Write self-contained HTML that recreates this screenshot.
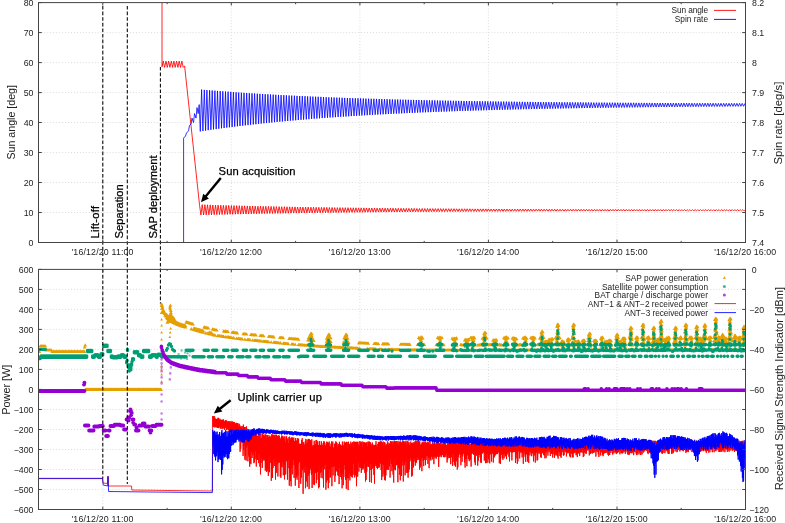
<!DOCTYPE html>
<html lang="en"><head><meta charset="utf-8"><title>ERG launch telemetry</title>
<style>html,body{margin:0;padding:0;background:#fff}body{width:785px;height:523px;overflow:hidden}svg{display:block}text{font-family:"Liberation Sans",sans-serif}</style></head>
<body>
<svg width="785" height="523" viewBox="0 0 785 523" font-family='"Liberation Sans", sans-serif'>
<rect width="785" height="523" fill="#fff"/>
<path d="M38.5 32.6H745.5M38.5 62.6H745.5M38.5 92.6H745.5M38.5 122.5H745.5M38.5 152.5H745.5M38.5 182.5H745.5M38.5 212.5H745.5M102.8 2.6V242.5M231.3 2.6V242.5M359.9 2.6V242.5M488.4 2.6V242.5M617 2.6V242.5" stroke="#d4d4d4" stroke-width="0.9" stroke-dasharray="0.9 2.06" fill="none"/>
<path d="M38.5 289.4H745.5M38.5 309.4H745.5M38.5 329.4H745.5M38.5 349.4H745.5M38.5 369.4H745.5M38.5 389.4H745.5M38.5 409.5H745.5M38.5 429.5H745.5M38.5 449.5H745.5M38.5 469.5H745.5M38.5 489.5H745.5M102.8 269.4V509.5M231.3 269.4V509.5M359.9 269.4V509.5M488.4 269.4V509.5M617 269.4V509.5" stroke="#d4d4d4" stroke-width="0.9" stroke-dasharray="0.9 2.06" fill="none"/>
<clipPath id="ct"><rect x="38.5" y="2.6" width="707" height="239.9"/></clipPath>
<clipPath id="cb"><rect x="38.5" y="269.4" width="707" height="240.1"/></clipPath>
<path d="M162 2.6 162 66.8 163.3 61.1 164.6 67.4 166 61.1 167.3 67.4 168.6 61.1 169.9 67.4 171.3 61.1 172.6 67.4 173.9 61.1 175.2 67.4 176.6 61.1 177.9 67.4 179.2 61.1 180.5 67.4 181.9 61.1 183.2 67.4 184.6 65.9 199.6 205.6 200.9 215 202.2 204.6 203.6 215 204.9 204.7 206.2 214.9 207.5 204.8 208.9 214.8 210.2 204.9 211.5 214.8 212.8 205 214.2 214.7 215.5 205.1 216.8 214.6 218.1 205.1 219.5 214.6 220.8 205.2 222.1 214.5 223.4 205.3 224.8 214.4 226.1 205.4 227.4 214.4 228.7 205.4 230.1 214.3 231.4 205.5 232.7 214.3 234 205.6 235.4 214.2 236.7 205.6 238 214.1 239.3 205.7 240.7 214.1 242 205.8 243.3 214 244.6 205.8 246 214 247.3 205.9 248.6 213.9 249.9 206 251.3 213.9 252.6 206 253.9 213.8 255.2 206.1 256.6 213.8 257.9 206.2 259.2 213.7 260.5 206.2 261.9 213.7 263.2 206.3 264.5 213.6 265.8 206.3 267.2 213.6 268.5 206.4 269.8 213.5 271.1 206.4 272.5 213.5 273.8 206.5 275.1 213.4 276.4 206.6 277.8 213.4 279.1 206.6 280.4 213.3 281.7 206.7 283.1 213.3 284.4 206.7 285.7 213.3 287 206.8 288.4 213.2 289.7 206.8 291 213.2 292.3 206.9 293.7 213.1 295 206.9 296.3 213.1 297.6 207 299 213.1 300.3 207 301.6 213 302.9 207.1 304.3 213 305.6 207.1 306.9 212.9 308.2 207.1 309.6 212.9 310.9 207.2 312.2 212.9 313.5 207.2 314.9 212.8 316.2 207.3 317.5 212.8 318.8 207.3 320.2 212.8 321.5 207.4 322.8 212.7 324.1 207.4 325.5 212.7 326.8 207.4 328.1 212.7 329.4 207.5 330.8 212.6 332.1 207.5 333.4 212.6 334.7 207.6 336.1 212.6 337.4 207.6 338.7 212.5 340 207.6 341.4 212.5 342.7 207.7 344 212.5 345.3 207.7 346.7 212.5 348 207.7 349.3 212.4 350.6 207.8 352 212.4 353.3 207.8 354.6 212.4 355.9 207.8 357.3 212.3 358.6 207.9 359.9 212.3 361.2 207.9 362.6 212.3 363.9 207.9 365.2 212.3 366.5 208 367.9 212.2 369.2 208 370.5 212.2 371.8 208 373.2 212.2 374.5 208.1 375.8 212.2 377.1 208.1 378.5 212.1 379.8 208.1 381.1 212.1 382.4 208.1 383.8 212.1 385.1 208.2 386.4 212.1 387.7 208.2 389.1 212 390.4 208.2 391.7 212 393 208.2 394.4 212 395.7 208.3 397 212 398.3 208.3 399.7 212 401 208.3 402.3 211.9 403.6 208.3 405 211.9 406.3 208.4 407.6 211.9 408.9 208.4 410.3 211.9 411.6 208.4 412.9 211.9 414.2 208.4 415.6 211.8 416.9 208.5 418.2 211.8 419.5 208.5 420.9 211.8 422.2 208.5 423.5 211.8 424.8 208.5 426.2 211.8 427.5 208.5 428.8 211.8 430.1 208.6 431.5 211.7 432.8 208.6 434.1 211.7 435.4 208.6 436.8 211.7 438.1 208.6 439.4 211.7 440.7 208.6 442.1 211.7 443.4 208.7 444.7 211.7 446 208.7 447.4 211.6 448.7 208.7 450 211.6 451.3 208.7 452.7 211.6 454 208.7 455.3 211.6 456.6 208.8 458 211.6 459.3 208.8 460.6 211.6 461.9 208.8 463.3 211.6 464.6 208.8 465.9 211.5 467.2 208.8 468.6 211.5 469.9 208.8 471.2 211.5 472.5 208.9 473.9 211.5 475.2 208.9 476.5 211.5 477.8 208.9 479.2 211.5 480.5 208.9 481.8 211.5 483.1 208.9 484.5 211.4 485.8 208.9 487.1 211.4 488.4 208.9 489.8 211.4 491.1 209 492.4 211.4 493.7 209 495.1 211.4 496.4 209 497.7 211.4 499 209 500.4 211.4 501.7 209 503 211.4 504.3 209 505.7 211.4 507 209 508.3 211.3 509.6 209.1 511 211.3 512.3 209.1 513.6 211.3 514.9 209.1 516.3 211.3 517.6 209.1 518.9 211.3 520.2 209.1 521.6 211.3 522.9 209.1 524.2 211.3 525.5 209.1 526.9 211.3 528.2 209.1 529.5 211.3 530.8 209.1 532.2 211.3 533.5 209.2 534.8 211.2 536.1 209.2 537.5 211.2 538.8 209.2 540.1 211.2 541.4 209.2 542.8 211.2 544.1 209.2 545.4 211.2 546.7 209.2 548.1 211.2 549.4 209.2 550.7 211.2 552 209.2 553.4 211.2 554.7 209.2 556 211.2 557.3 209.3 558.7 211.2 560 209.3 561.3 211.2 562.6 209.3 564 211.2 565.3 209.3 566.6 211.2 567.9 209.3 569.3 211.1 570.6 209.3 571.9 211.1 573.2 209.3 574.6 211.1 575.9 209.3 577.2 211.1 578.5 209.3 579.9 211.1 581.2 209.3 582.5 211.1 583.8 209.3 585.2 211.1 586.5 209.3 587.8 211.1 589.1 209.4 590.5 211.1 591.8 209.4 593.1 211.1 594.5 209.4 595.8 211.1 597.1 209.4 598.4 211.1 599.8 209.4 601.1 211.1 602.4 209.4 603.7 211.1 605.1 209.4 606.4 211.1 607.7 209.4 609 211.1 610.4 209.4 611.7 211 613 209.4 614.3 211 615.7 209.4 617 211 618.3 209.4 619.6 211 621 209.4 622.3 211 623.6 209.4 624.9 211 626.3 209.4 627.6 211 628.9 209.5 630.2 211 631.6 209.5 632.9 211 634.2 209.5 635.5 211 636.9 209.5 638.2 211 639.5 209.5 640.8 211 642.2 209.5 643.5 211 644.8 209.5 646.1 211 647.5 209.5 648.8 211 650.1 209.5 651.4 211 652.8 209.5 654.1 211 655.4 209.5 656.7 211 658.1 209.5 659.4 211 660.7 209.5 662 211 663.4 209.5 664.7 211 666 209.5 667.3 210.9 668.7 209.5 670 210.9 671.3 209.5 672.6 210.9 674 209.5 675.3 210.9 676.6 209.5 677.9 210.9 679.3 209.6 680.6 210.9 681.9 209.6 683.2 210.9 684.6 209.6 685.9 210.9 687.2 209.6 688.5 210.9 689.9 209.6 691.2 210.9 692.5 209.6 693.8 210.9 695.2 209.6 696.5 210.9 697.8 209.6 699.1 210.9 700.5 209.6 701.8 210.9 703.1 209.6 704.4 210.9 705.8 209.6 707.1 210.9 708.4 209.6 709.7 210.9 711.1 209.6 712.4 210.9 713.7 209.6 715 210.9 716.4 209.6 717.7 210.9 719 209.6 720.3 210.9 721.7 209.6 723 210.9 724.3 209.6 725.6 210.9 727 209.6 728.3 210.9 729.6 209.6 730.9 210.9 732.3 209.6 733.6 210.9 734.9 209.6 736.2 210.9 737.6 209.6 738.9 210.9 740.2 209.6 741.5 210.9 742.9 209.6 744.2 210.9 745.5 209.6" fill="none" stroke="#ff0000" stroke-width="0.85" clip-path="url(#ct)" stroke-linejoin="round"/>
<path d="M183.6 242.5 183.6 138.1 185.5 136 186.5 133 188.5 130.9 189.5 125.5 191 124 192 118.1 193.5 122.6 194.5 113.6 196 118.1 197 107.6 198.2 113.6 199.2 104.6 200.3 131.4 201.6 89.6 202.9 131 204.3 89.9 205.6 130.6 206.9 90.1 208.2 130.2 209.6 90.3 210.9 129.8 212.2 90.5 213.5 129.4 214.9 90.7 216.2 129.1 217.5 90.9 218.8 128.7 220.2 91.1 221.5 128.3 222.8 91.3 224.1 128 225.5 91.5 226.8 127.6 228.1 91.7 229.4 127.3 230.8 91.9 232.1 127 233.4 92.1 234.7 126.6 236.1 92.3 237.4 126.3 238.7 92.5 240 126 241.4 92.7 242.7 125.7 244 92.9 245.3 125.4 246.7 93 248 125.1 249.3 93.2 250.6 124.8 252 93.4 253.3 124.5 254.6 93.5 255.9 124.2 257.3 93.7 258.6 123.9 259.9 93.9 261.2 123.6 262.6 94 263.9 123.3 265.2 94.2 266.5 123 267.9 94.3 269.2 122.8 270.5 94.5 271.8 122.5 273.2 94.6 274.5 122.2 275.8 94.8 277.1 122 278.5 94.9 279.8 121.7 281.1 95.1 282.4 121.5 283.8 95.2 285.1 121.2 286.4 95.3 287.7 121 289.1 95.5 290.4 120.7 291.7 95.6 293 120.5 294.4 95.7 295.7 120.3 297 95.9 298.3 120 299.7 96 301 119.8 302.3 96.1 303.6 119.6 305 96.2 306.3 119.4 307.6 96.4 308.9 119.2 310.3 96.5 311.6 118.9 312.9 96.6 314.2 118.7 315.6 96.7 316.9 118.5 318.2 96.8 319.5 118.3 320.9 96.9 322.2 118.1 323.5 97.1 324.8 117.9 326.2 97.2 327.5 117.7 328.8 97.3 330.1 117.5 331.5 97.4 332.8 117.4 334.1 97.5 335.4 117.2 336.8 97.6 338.1 117 339.4 97.7 340.7 116.8 342.1 97.8 343.4 116.6 344.7 97.9 346 116.5 347.4 98 348.7 116.3 350 98.1 351.3 116.1 352.7 98.2 354 116 355.3 98.3 356.6 115.8 358 98.3 359.3 115.6 360.6 98.4 361.9 115.5 363.3 98.5 364.6 115.3 365.9 98.6 367.2 115.2 368.6 98.7 369.9 115 371.2 98.8 372.5 114.9 373.9 98.8 375.2 114.7 376.5 98.9 377.8 114.6 379.2 99 380.5 114.4 381.8 99.1 383.1 114.3 384.5 99.2 385.8 114.2 387.1 99.2 388.4 114 389.8 99.3 391.1 113.9 392.4 99.4 393.7 113.7 395.1 99.5 396.4 113.6 397.7 99.5 399 113.5 400.4 99.6 401.7 113.4 403 99.7 404.3 113.2 405.7 99.7 407 113.1 408.3 99.8 409.6 113 411 99.9 412.3 112.9 413.6 99.9 414.9 112.8 416.3 100 417.6 112.6 418.9 100 420.2 112.5 421.6 100.1 422.9 112.4 424.2 100.2 425.5 112.3 426.9 100.2 428.2 112.2 429.5 100.3 430.8 112.1 432.2 100.3 433.5 112 434.8 100.4 436.1 111.9 437.5 100.5 438.8 111.8 440.1 100.5 441.4 111.7 442.8 100.6 444.1 111.6 445.4 100.6 446.7 111.5 448.1 100.7 449.4 111.4 450.7 100.7 452 111.3 453.4 100.8 454.7 111.2 456 100.8 457.3 111.1 458.7 100.9 460 111 461.3 100.9 462.6 110.9 464 101 465.3 110.9 466.6 101 467.9 110.8 469.3 101.1 470.6 110.7 471.9 101.1 473.2 110.6 474.6 101.1 475.9 110.5 477.2 101.2 478.5 110.4 479.9 101.2 481.2 110.4 482.5 101.3 483.8 110.3 485.2 101.3 486.5 110.2 487.8 101.4 489.1 110.1 490.5 101.4 491.8 110.1 493.1 101.4 494.4 110 495.8 101.5 497.1 109.9 498.4 101.5 499.7 109.8 501.1 101.6 502.4 109.8 503.7 101.6 505 109.7 506.4 101.6 507.7 109.6 509 101.7 510.3 109.6 511.7 101.7 513 109.5 514.3 101.7 515.6 109.4 517 101.8 518.3 109.4 519.6 101.8 520.9 109.3 522.3 101.8 523.6 109.2 524.9 101.9 526.2 109.2 527.6 101.9 528.9 109.1 530.2 101.9 531.5 109.1 532.9 102 534.2 109 535.5 102 536.8 108.9 538.2 102 539.5 108.9 540.8 102.1 542.1 108.8 543.5 102.1 544.8 108.8 546.1 102.1 547.4 108.7 548.8 102.1 550.1 108.7 551.4 102.2 552.7 108.6 554.1 102.2 555.4 108.6 556.7 102.2 558 108.5 559.4 102.2 560.7 108.5 562 102.3 563.3 108.4 564.7 102.3 566 108.4 567.3 102.3 568.6 108.3 570 102.3 571.3 108.3 572.6 102.4 573.9 108.2 575.3 102.4 576.6 108.2 577.9 102.4 579.2 108.1 580.6 102.4 581.9 108.1 583.2 102.5 584.5 108 585.9 102.5 587.2 108 588.5 102.5 589.9 108 591.2 102.5 592.5 107.9 593.8 102.6 595.2 107.9 596.5 102.6 597.8 107.8 599.1 102.6 600.5 107.8 601.8 102.6 603.1 107.7 604.4 102.6 605.8 107.7 607.1 102.7 608.4 107.7 609.7 102.7 611.1 107.6 612.4 102.7 613.7 107.6 615 102.7 616.4 107.6 617.7 102.7 619 107.5 620.3 102.8 621.7 107.5 623 102.8 624.3 107.5 625.6 102.8 627 107.4 628.3 102.8 629.6 107.4 630.9 102.8 632.3 107.4 633.6 102.8 634.9 107.3 636.2 102.9 637.6 107.3 638.9 102.9 640.2 107.3 641.5 102.9 642.9 107.2 644.2 102.9 645.5 107.2 646.8 102.9 648.2 107.2 649.5 102.9 650.8 107.1 652.1 103 653.5 107.1 654.8 103 656.1 107.1 657.4 103 658.8 107 660.1 103 661.4 107 662.7 103 664.1 107 665.4 103 666.7 107 668 103 669.4 106.9 670.7 103.1 672 106.9 673.3 103.1 674.7 106.9 676 103.1 677.3 106.9 678.6 103.1 680 106.8 681.3 103.1 682.6 106.8 683.9 103.1 685.3 106.8 686.6 103.1 687.9 106.8 689.2 103.1 690.6 106.7 691.9 103.2 693.2 106.7 694.5 103.2 695.9 106.7 697.2 103.2 698.5 106.7 699.8 103.2 701.2 106.6 702.5 103.2 703.8 106.6 705.1 103.2 706.5 106.6 707.8 103.2 709.1 106.6 710.4 103.2 711.8 106.6 713.1 103.2 714.4 106.5 715.7 103.3 717.1 106.5 718.4 103.3 719.7 106.5 721 103.3 722.4 106.5 723.7 103.3 725 106.5 726.3 103.3 727.7 106.4 729 103.3 730.3 106.4 731.6 103.3 733 106.4 734.3 103.3 735.6 106.4 736.9 103.3 738.3 106.4 739.6 103.3 740.9 106.3 742.2 103.4 743.6 106.3 744.9 103.4" fill="none" stroke="#0000ff" stroke-width="0.8" clip-path="url(#ct)" stroke-linejoin="round"/>
<path d="M38.5 478.3 102.6 478.3 103 483 107.5 483.5 108 476 108.5 486 131.5 486 131.8 490 170 490.5 212.3 491 212.6 416" fill="none" stroke="#ff0000" stroke-width="0.8" clip-path="url(#cb)"/>
<path d="M212.6 416 212.8 416.5 213.1 427 213.4 416.1 213.7 426.3 214 417.3 214.3 427.4 214.6 416.3 214.9 425.5 215.2 418.3 215.5 427.1 215.8 419 216.1 427.3 216.4 418.9 216.7 427.1 217 419.3 217.3 427.9 217.6 418.6 217.9 428 218.2 417.7 218.5 428.1 218.8 418.3 219.1 427.5 219.4 419.9 219.7 426.6 220 418.8 220.3 428.3 220.6 420.2 220.9 428.9 221.2 420 221.5 426.8 221.8 419.7 222.1 428.9 222.4 420.1 222.7 428.4 223 419.5 223.3 427.4 223.6 419.6 223.9 428.6 224.2 421.2 224.5 429.8 224.8 421.7 225.1 427.3 225.4 420.1 225.7 427.6 226 420.2 226.3 430.1 226.6 420.8 226.9 430.1 227.2 422.2 227.5 428.5 227.8 421.3 228.1 428.9 228.4 421.2 228.7 430.4 229 422.2 229.3 431.5 229.6 421.5 229.9 431.3 230.2 421.2 230.5 431.8 230.8 423.5 231.1 431.1 231.4 421.6 231.7 432.2 232 421.7 232.3 431.2 232.6 421.6 232.9 430.6 233.2 421.9 233.5 431.9 233.8 422.3 234.1 431.1 234.4 422.2 234.7 429.4 235 423 235.3 432.5 235.6 424.1 235.9 433 236.2 422.8 236.5 430.4 236.8 423 237.1 432.8 237.4 423.2 237.7 435.5 238 423.4 238.3 437.9 238.6 426.4 238.9 439.3 239.2 423.8 239.5 437.1 239.8 425.2 240.1 451.8 240.4 427.1 240.7 448.6 241 426.1 241.3 442.2 241.6 426.8 241.9 442.6 242.2 428.8 242.5 440.8 242.8 426 243.1 455.9 243.4 424.6 243.7 450 244 427.4 244.3 445.7 244.6 427 244.9 459.7 245.2 427 245.5 456 245.8 428.6 246.1 460.6 246.4 426.3 246.7 447.6 247 428.6 247.3 445.4 247.6 429.5 247.9 461.3 248.2 429 248.5 455.3 248.8 429.3 249.1 457.1 249.4 432.1 249.7 466.7 250 431.7 250.3 462.9 250.6 431.2 250.9 464.1 251.2 432.2 251.5 452.3 251.8 433.1 252.1 458 252.4 435.7 252.7 455 253 437.1 253.3 452.2 253.6 433.1 253.9 463.2 254.2 434 254.5 462.2 254.8 434.6 255.1 459.1 255.4 433.1 255.7 450.9 256 434.7 256.3 466.5 256.6 434.2 256.9 458.2 257.2 435.9 257.5 460 257.8 436.2 258.1 454.6 258.4 435.4 258.7 463.1 259 434 259.3 454.6 259.6 433.8 259.9 466.6 260.2 434.3 260.5 474.4 260.8 438.7 261.1 463 261.4 438 261.7 457.5 262 433.9 262.3 467.9 262.6 434.1 262.9 461.1 263.2 434.7 263.5 459.5 263.8 435.2 264.1 457.6 264.4 436.3 264.7 460.5 265 434.3 265.3 470.7 265.6 434.6 265.9 467.1 266.2 434.8 266.5 472 266.8 438.5 267.1 471.3 267.4 435.2 267.7 469.1 268 435 268.3 475.8 268.6 437 268.9 456.3 269.2 437.2 269.5 472.2 269.8 435.5 270.1 455.8 270.4 436.9 270.7 462.8 271 436.8 271.3 480.8 271.6 434.3 271.9 477.4 272.2 435.1 272.5 477.9 272.8 434.3 273.1 467.9 273.4 435 273.7 459.2 274 437.5 274.3 465.9 274.6 434.8 274.9 462 275.2 437.4 275.5 479.6 275.8 434.7 276.1 456.8 276.4 434.8 276.7 472.8 277 435.7 277.3 463.8 277.6 436.1 277.9 476.5 278.2 435.7 278.5 462.5 278.8 435.3 279.1 460.7 279.4 435.9 279.7 462.6 280 438.4 280.3 476.5 280.6 439.3 280.9 477.8 281.2 437.2 281.5 466.5 281.8 435.3 282.1 467.3 282.4 436.5 282.7 462.1 283 436.5 283.3 475.2 283.6 438.1 283.9 464.4 284.2 436.3 284.5 479.4 284.8 439.2 285.1 459.6 285.4 442.1 285.7 474.5 286 436.4 286.3 460.2 286.6 436.4 286.9 461.6 287.2 439.8 287.5 479.6 287.8 438.5 288.1 468.2 288.4 443 288.7 460.2 289 437 289.3 485.6 289.6 436.6 289.9 472 290.2 440.1 290.5 481.1 290.8 438.3 291.1 486.4 291.4 437.6 291.7 468 292 437.5 292.3 474.3 292.6 437.7 292.9 465.2 293.2 439.7 293.5 460.1 293.8 437.6 294.1 477.9 294.4 441 294.7 465.1 295 442.4 295.3 485.7 295.6 438 295.9 469.5 296.2 441.2 296.5 477.3 296.8 440.4 297.1 479.7 297.4 438.1 297.7 475.3 298 439.9 298.3 463.8 298.6 438.6 298.9 488 299.2 443.5 299.5 462.1 299.8 444.6 300.1 461.9 300.4 443.8 300.7 483.7 301 444.1 301.3 477.6 301.6 440 301.9 467.9 302.2 438.1 302.5 470.3 302.8 443.6 303.1 493.8 303.4 442 303.7 468.5 304 444.1 304.3 472.5 304.6 445.4 304.9 466.1 305.2 441.5 305.5 488.2 305.8 438.9 306.1 466.8 306.4 443.7 306.7 481.5 307 439.7 307.3 486.7 307.6 442.3 307.9 467.5 308.2 439.2 308.5 475.7 308.8 438.9 309.1 489 309.4 439.3 309.7 473.3 310 439.9 310.3 468 310.6 440.2 310.9 469.8 311.2 441.5 311.5 475 311.8 439.3 312.1 488 312.4 445.5 312.7 473.1 313 446.6 313.3 484.5 313.6 445.2 313.9 470.1 314.2 440.8 314.5 484.9 314.8 445 315.1 472 315.4 444.1 315.7 473.1 316 440.2 316.3 483.2 316.6 440 316.9 479.8 317.2 441.4 317.5 472.1 317.8 441.4 318.1 470.9 318.4 445 318.7 488.3 319 447.5 319.3 487 319.6 441 319.9 465.6 320.2 444.9 320.5 472.7 320.8 445.3 321.1 477.8 321.4 441.3 321.7 472 322 444.9 322.3 467.9 322.6 445.2 322.9 478.4 323.2 443 323.5 487.5 323.8 441.2 324.1 465.4 324.4 441.7 324.7 469.3 325 444.9 325.3 464.7 325.6 446 325.9 489.7 326.2 443.2 326.5 482.5 326.8 441.6 327.1 477.5 327.4 442 327.7 480.4 328 446.2 328.3 488.2 328.6 442.8 328.9 483 329.2 441.6 329.5 469.7 329.8 446.6 330.1 477.7 330.4 446.8 330.7 477 331 443.7 331.3 467.6 331.6 441.4 331.9 486.2 332.2 443.2 332.5 466.6 332.8 441.6 333.1 475.3 333.4 447.5 333.7 466.8 334 447.8 334.3 465.9 334.6 443.8 334.9 481.8 335.2 443.5 335.5 476 335.8 441.4 336.1 468.5 336.4 442.2 336.7 471.2 337 443.1 337.3 472 337.6 447.4 337.9 475.4 338.2 444.8 338.5 476 338.8 444 339.1 484.1 339.4 441.8 339.7 468 340 445 340.3 477 340.6 444.5 340.9 473.2 341.2 445.4 341.5 479.3 341.8 446 342.1 488.3 342.4 441.6 342.7 473.1 343 446.2 343.3 485.1 343.6 445.4 343.9 476.9 344.2 441.5 344.5 464.9 344.8 443.3 345.1 469.5 345.4 442.9 345.7 479.9 346 442.1 346.3 488.8 346.6 441.8 346.9 477.3 347.2 447.9 347.5 478.2 347.8 442.3 348.1 490.1 348.4 441.7 348.7 478 349 445.8 349.3 473.7 349.6 443.9 349.9 480.4 350.2 446 350.5 475.9 350.8 441.7 351.1 474.9 351.4 443.5 351.7 476.8 352 447.7 352.3 477.5 352.6 442 352.9 474.3 353.2 447.2 353.5 463.6 353.8 441.4 354.1 475.2 354.4 441.9 354.7 477.4 355 442.1 355.3 475.4 355.6 441.8 355.9 473.4 356.2 442 356.5 486.2 356.8 441.8 357.1 475.9 357.4 442.2 357.7 476.7 358 441.7 358.3 462.6 358.6 444.7 358.9 471.5 359.2 446.2 359.5 467.3 359.8 441.2 360.1 463.6 360.4 442.7 360.7 468 361 441.5 361.3 472.9 361.6 442.4 361.9 469.8 362.2 447.4 362.5 467.6 362.8 441.5 363.1 469.4 363.4 442.4 363.7 468.2 364 444.3 364.3 463.8 364.6 442.2 364.9 472.9 365.2 443 365.5 481.5 365.8 442.6 366.1 479.9 366.4 442.8 366.7 471.8 367 442.1 367.3 466.5 367.6 446.4 367.9 461.7 368.2 441.4 368.5 466.8 368.8 442.8 369.1 466.2 369.4 441.6 369.7 482.1 370 445.6 370.3 463.3 370.6 442.3 370.9 469.9 371.2 444.4 371.5 482.6 371.8 445.5 372.1 464.1 372.4 442.6 372.7 468.7 373 444.6 373.3 467.3 373.6 445.8 373.9 474.9 374.2 444.9 374.5 483.7 374.8 445.2 375.1 466.1 375.4 444.8 375.7 464.1 376 441.2 376.3 465.9 376.6 445.6 376.9 468 377.2 447 377.5 469.1 377.8 444 378.1 468 378.4 441.9 378.7 466.3 379 442.3 379.3 467.4 379.6 442.1 379.9 462.7 380.2 441.4 380.5 463.5 380.8 441.5 381.1 470.1 381.4 441.5 381.7 480.1 382 442.3 382.3 464.3 382.6 442.9 382.9 476.6 383.2 441.5 383.5 464.9 383.8 445.5 384.1 474.3 384.4 442.1 384.7 480 385 442.7 385.3 480.5 385.6 445.9 385.9 475.3 386.2 444.8 386.5 469.5 386.8 444.2 387.1 469.9 387.4 441.3 387.7 469.1 388 442.4 388.3 470 388.6 444.8 388.9 462.6 389.2 443.5 389.5 466.3 389.8 443.4 390.1 477.6 390.4 441.1 390.7 459.4 391 444.5 391.3 463.8 391.6 441.5 391.9 471.2 392.2 441.3 392.5 466.6 392.8 444.9 393.1 474.6 393.4 441.8 393.7 482.6 394 441.4 394.3 469.6 394.6 441.3 394.9 459.2 395.2 441.8 395.5 470.2 395.8 441.1 396.1 464.6 396.4 441.2 396.7 465.2 397 441.1 397.3 464.7 397.6 443.6 397.9 482.2 398.2 441.3 398.5 467.9 398.8 445 399.1 468.7 399.4 441.6 399.7 474.8 400 444.2 400.3 480.4 400.6 441.4 400.9 463.6 401.2 443.3 401.5 476 401.8 442 402.1 465.6 402.4 441.1 402.7 461.5 403 443.9 403.3 481.5 403.6 441 403.9 460.8 404.2 442.4 404.5 464.9 404.8 441.5 405.1 475.3 405.4 442.2 405.7 461.7 406 440.7 406.3 472.8 406.6 444.7 406.9 457.9 407.2 441.5 407.5 472.8 407.8 440.8 408.1 477.7 408.4 442.7 408.7 472 409 442.2 409.3 469.4 409.6 445 409.9 461.4 410.2 444.4 410.5 458 410.8 441.5 411.1 460.5 411.4 443.3 411.7 476.6 412 443.3 412.3 475.6 412.6 443.2 412.9 458.5 413.2 442.1 413.5 467.4 413.8 443.9 414.1 461.7 414.4 442.6 414.7 458.4 415 441.4 415.3 465.6 415.6 441.1 415.9 462.7 416.2 440.6 416.5 462.5 416.8 443 417.1 460.2 417.4 441 417.7 457.5 418 442.8 418.3 459.8 418.6 441.1 418.9 458.9 419.2 440.8 419.5 469.6 419.8 441.7 420.1 467.7 420.4 444.7 420.7 466.2 421 444.9 421.3 458.2 421.6 443.7 421.9 471.2 422.2 441.8 422.5 457.8 422.8 442.6 423.1 460.9 423.4 442.6 423.7 466.1 424 441.3 424.3 459.8 424.6 442.8 424.9 457.6 425.2 441.6 425.5 465.2 425.8 442.2 426.1 459.9 426.4 442.8 426.7 455.8 427 445.3 427.3 456.2 427.6 442.3 427.9 463.9 428.2 442.6 428.5 457.6 428.8 442.1 429.1 468.2 429.4 444.6 429.7 457.6 430 441.5 430.3 459.9 430.6 444.2 430.9 460.5 431.2 444.3 431.5 456.4 431.8 444.7 432.1 456.8 432.4 442.7 432.7 459.4 433 443.1 433.3 456.7 433.6 443.9 433.9 464.2 434.2 442.5 434.5 456.4 434.8 442.5 435.1 458.2 435.4 444.4 435.7 456.4 436 443.5 436.3 458.7 436.6 442 436.9 456.3 437.2 442.1 437.5 456.6 437.8 441.8 438.1 456.1 438.4 442 438.7 466.9 439 443 439.3 456.9 439.6 443.2 439.9 454 440.2 443.4 440.5 455.4 440.8 442.3 441.1 457.2 441.4 445.2 441.7 456.6 442 442.6 442.3 454.9 442.6 444 442.9 454.9 443.2 444.6 443.5 457 443.8 442.2 444.1 457.4 444.4 442.3 444.7 456.8 445 442.7 445.3 454.9 445.6 443.3 445.9 456.9 446.2 445 446.5 453.5 446.8 445.4 447.1 462.5 447.4 442.4 447.7 459.4 448 442.4 448.3 455.5 448.6 443.1 448.9 458 449.2 443.5 449.5 457.8 449.8 442.1 450.1 453.9 450.4 442.8 450.7 464.2 451 442 451.3 457.3 451.6 442.4 451.9 454.3 452.2 442.1 452.5 465.9 452.8 442.8 453.1 461.9 453.4 443.1 453.7 454.3 454 443.1 454.3 465.4 454.6 444.3 454.9 463.6 455.2 443.3 455.5 466.7 455.8 442.7 456.1 458.1 456.4 442.6 456.7 461.3 457 443.5 457.3 469.5 457.6 442.7 457.9 467.2 458.2 442.8 458.5 457.1 458.8 442.6 459.1 454.5 459.4 444.6 459.7 453.3 460 443.6 460.3 458 460.6 442.3 460.9 465.2 461.2 443.6 461.5 454.7 461.8 444.1 462.1 461.8 462.4 443.2 462.7 456.4 463 442.3 463.3 453.2 463.6 444.6 463.9 454.1 464.2 443.5 464.5 462.3 464.8 442.5 465.1 467.6 465.4 442.8 465.7 459 466 444 466.3 458.8 466.6 443.8 466.9 466.2 467.2 442.5 467.5 454.9 467.8 442.8 468.1 455.8 468.4 442.4 468.7 459.2 469 442.5 469.3 461.2 469.6 444.3 469.9 459.5 470.2 444.9 470.5 459.3 470.8 444 471.1 466.6 471.4 444.3 471.7 453.8 472 443.4 472.3 452.7 472.6 442.9 472.9 453.8 473.2 442.4 473.5 454.7 473.8 444 474.1 452.6 474.4 444.5 474.7 462.3 475 443.2 475.3 465.1 475.6 442.8 475.9 453.4 476.2 442.5 476.5 455.6 476.8 442.6 477.1 454.5 477.4 443.3 477.7 465.7 478 443.4 478.3 460.8 478.6 442.5 478.9 454.1 479.2 442.8 479.5 454.7 479.8 444 480.1 457.4 480.4 442.5 480.7 462.4 481 442.7 481.3 462.9 481.6 444.4 481.9 453.7 482.2 443.6 482.5 453.3 482.8 442.7 483.1 452.6 483.4 445 483.7 452.1 484 445.1 484.3 460.6 484.6 442.4 484.9 452.7 485.2 444.4 485.5 463.2 485.8 443.9 486.1 454.4 486.4 443.3 486.7 463 487 442.9 487.3 454.1 487.6 444.1 487.9 462.5 488.2 443.7 488.5 459.2 488.8 444.7 489.1 454.2 489.4 443.1 489.7 463.3 490 443.3 490.3 454.3 490.6 442.8 490.9 452.9 491.2 442.6 491.5 461.5 491.8 442.6 492.1 451.7 492.4 442.5 492.7 453.6 493 443 493.3 462.5 493.6 443.5 493.9 457.8 494.2 442.6 494.5 456.6 494.8 443.6 495.1 455.5 495.4 444.6 495.7 454.6 496 443.8 496.3 453.6 496.6 442.8 496.9 454.1 497.2 442.9 497.5 454 497.8 444.8 498.1 451.7 498.4 443.4 498.7 452.5 499 445.2 499.3 463.3 499.6 444.6 499.9 458.5 500.2 443.1 500.5 464 500.8 443.9 501.1 452.5 501.4 443 501.7 454.8 502 442.8 502.3 458 502.6 442.9 502.9 459.8 503.2 443.2 503.5 454.1 503.8 442.9 504.1 458.3 504.4 443.8 504.7 453.9 505 443.5 505.3 455.9 505.6 442.6 505.9 456.5 506.2 443.2 506.5 459.1 506.8 443.5 507.1 454.5 507.4 443.2 507.7 453 508 443.1 508.3 452.1 508.6 442.3 508.9 456.7 509.2 442.5 509.5 461.4 509.8 442.8 510.1 451.7 510.4 443.2 510.7 451.7 511 444.5 511.3 452.4 511.6 444.8 511.9 460.4 512.2 444.5 512.5 452.4 512.8 443.6 513.1 451.6 513.4 443.5 513.7 452.2 514 443.5 514.3 452 514.6 443.8 514.9 451.4 515.2 442.8 515.5 462.9 515.8 442.6 516.1 458.4 516.4 443.3 516.7 453.4 517 443.3 517.3 463.8 517.6 442.5 517.9 461.3 518.2 444 518.5 451.2 518.8 444.7 519.1 451.4 519.4 444.9 519.7 458.5 520 442.6 520.3 451.4 520.6 443.4 520.9 452.9 521.2 444.6 521.5 451.6 521.8 442.2 522.1 457.4 522.4 443.2 522.7 453 523 443.2 523.3 463.8 523.6 444.1 523.9 454.4 524.2 443.8 524.5 451.4 524.8 442 525.1 456.7 525.4 442.2 525.7 461.9 526 444.1 526.3 454.4 526.6 442.4 526.9 453.5 527.2 442.4 527.5 461.5 527.8 442.6 528.1 454.5 528.4 443.5 528.7 462.9 529 442.2 529.3 451.4 529.6 443.8 529.9 455.4 530.2 442.6 530.5 451.3 530.8 444.6 531.1 453 531.4 441.9 531.7 456.2 532 443.4 532.3 453.5 532.6 442.4 532.9 451.5 533.2 443.9 533.5 461.4 533.8 442.7 534.1 450.6 534.4 443.9 534.7 455.5 535 442.3 535.3 462.6 535.6 442.4 535.9 452.4 536.2 442.8 536.5 452.4 536.8 441.8 537.1 460.5 537.4 442.3 537.7 459.7 538 442.7 538.3 450.7 538.6 442.5 538.9 453.7 539.2 442.2 539.5 452.2 539.8 443.3 540.1 453.8 540.4 443 540.7 457.2 541 442 541.3 457.8 541.6 441.9 541.9 451.4 542.2 442.9 542.5 452.6 542.8 441.9 543.1 453.5 543.4 442.3 543.7 455.1 544 443.7 544.3 455.4 544.6 443.9 544.9 458.3 545.2 441.8 545.5 452.8 545.8 442 546.1 458.1 546.4 442.3 546.7 451.6 547 442.3 547.3 451.5 547.6 442.5 547.9 455.6 548.2 442.2 548.5 450.2 548.8 443.7 549.1 452.3 549.4 442.2 549.7 450.2 550 442.6 550.3 456 550.6 443.2 550.9 450.4 551.2 441.9 551.5 453.9 551.8 442.7 552.1 452.6 552.4 442.4 552.7 457.6 553 442.6 553.3 450.2 553.6 442.8 553.9 454.3 554.2 443.9 554.5 457.7 554.8 443.7 555.1 455.3 555.4 442.1 555.7 452.4 556 441.4 556.3 455.4 556.6 443.7 556.9 454 557.2 441.7 557.5 456.4 557.8 441.4 558.1 458.6 558.4 443.2 558.7 451.5 559 443.9 559.3 452.6 559.6 442.1 559.9 456 560.2 443.3 560.5 456.3 560.8 442.4 561.1 457.8 561.4 443.9 561.7 455 562 441.6 562.3 450.4 562.6 443.5 562.9 452.1 563.2 442.7 563.5 455.7 563.8 442.5 564.1 455.1 564.4 442.2 564.7 450.2 565 441.8 565.3 451.6 565.6 443.4 565.9 452.3 566.2 441.5 566.5 456.4 566.8 441.8 567.1 452 567.4 443 567.7 453.2 568 442.6 568.3 453.1 568.6 442.2 568.9 451.1 569.2 441.2 569.5 456.4 569.8 443.5 570.1 450.6 570.4 441.4 570.7 457.4 571 441.5 571.3 453.5 571.6 441.5 571.9 453.5 572.2 443.1 572.5 457.2 572.8 441.5 573.1 457.5 573.4 443 573.7 452.7 574 442.9 574.3 453.2 574.6 442.2 574.9 450.1 575.2 442.7 575.5 452.3 575.8 442.1 576.1 455.3 576.4 441.5 576.7 454.1 577 442.6 577.3 457.1 577.6 443.3 577.9 452.8 578.2 443.1 578.5 453.4 578.8 441.7 579.1 449.9 579.4 441.6 579.7 456.1 580 441.2 580.3 452.2 580.6 443.4 580.9 452.3 581.2 443.6 581.5 451.9 581.8 443.1 582.1 452.8 582.4 442.1 582.7 450.2 583 442.6 583.3 457 583.6 441.5 583.9 456.2 584.2 441.2 584.5 452.4 584.8 441.2 585.1 451.2 585.4 441.3 585.7 453.5 586 441.6 586.3 453.7 586.6 440.7 586.9 450.4 587.2 441 587.5 449.5 587.8 442.5 588.1 450.6 588.4 442.4 588.7 449.7 589 441.2 589.3 455.4 589.6 442.3 589.9 452.3 590.2 442.1 590.5 453.9 590.8 441.6 591.1 453.1 591.4 442.1 591.7 450 592 443.3 592.3 453.6 592.6 442.7 592.9 451.6 593.2 441.6 593.5 452.9 593.8 442.4 594.1 449.4 594.4 440.9 594.7 452.4 595 441.1 595.3 449.8 595.6 441.1 595.9 456.6 596.2 443 596.5 451.4 596.8 442.9 597.1 450.9 597.4 441.6 597.7 451.9 598 440.8 598.3 454.4 598.6 441 598.9 456.9 599.2 441.6 599.5 449.1 599.8 442.3 600.1 451.3 600.4 441.2 600.7 455.5 601 442.7 601.3 452.3 601.6 441.3 601.9 450.9 602.2 442.7 602.5 454.9 602.8 440.8 603.1 456.2 603.4 442.7 603.7 453.7 604 440.5 604.3 453.3 604.6 440.7 604.9 449.4 605.2 441.3 605.5 453 605.8 440.9 606.1 449.5 606.4 440.6 606.7 452.6 607 441.7 607.3 452.4 607.6 442.3 607.9 454.7 608.2 442.6 608.5 455.7 608.8 441.4 609.1 451.7 609.4 440.9 609.7 455 610 441.2 610.3 450.9 610.6 442.2 610.9 452.9 611.2 441.1 611.5 449.6 611.8 440.8 612.1 449.3 612.4 440.4 612.7 454.6 613 442.4 613.3 452.2 613.6 442.5 613.9 453.4 614.2 442.3 614.5 450 614.8 440.5 615.1 452.4 615.4 440.3 615.7 452.3 616 440.6 616.3 454.1 616.6 441.3 616.9 452.8 617.2 442.7 617.5 453.1 617.8 441.6 618.1 452.3 618.4 443.1 618.7 452 619 441.1 619.3 449.9 619.6 441.8 619.9 454.3 620.2 440.7 620.5 450.9 620.8 442 621.1 452.8 621.4 441.7 621.7 453.2 622 441.9 622.3 453.4 622.6 440.8 622.9 453.1 623.2 440.6 623.5 451.3 623.8 442.3 624.1 452 624.4 440.3 624.7 448.7 625 440.3 625.3 453.9 625.6 441.9 625.9 450.5 626.2 441.4 626.5 448.9 626.8 441 627.1 452.3 627.4 442.2 627.7 454.3 628 440.5 628.3 454.8 628.6 440.4 628.9 452.7 629.2 441.5 629.5 454.6 629.8 440.5 630.1 449.7 630.4 440.2 630.7 453.1 631 440.3 631.3 452.9 631.6 442.8 631.9 453.3 632.2 441.4 632.5 452.4 632.8 441 633.1 449.2 633.4 442.1 633.7 455.2 634 442 634.3 451.3 634.6 442.7 634.9 452.1 635.2 441.6 635.5 449.2 635.8 441.6 636.1 453.5 636.4 441.9 636.7 455.1 637 442.2 637.3 452.6 637.6 441.3 637.9 454.6 638.2 442.1 638.5 450.6 638.8 440.7 639.1 453.5 639.4 440.6 639.7 451.8 640 441.8 640.3 455 640.6 440.5 640.9 454.9 641.2 441.7 641.5 451 641.8 440.3 642.1 454.3 642.4 440.3 642.7 449 643 441.5 643.3 452.7 643.6 440.7 643.9 451.8 644.2 440.7 644.5 450.9 644.8 441.6 645.1 450.3 645.4 440.4 645.7 449 646 440.6 646.3 450.8 646.6 441.2 646.9 450.1 647.2 441.4 647.5 452.8 647.8 442.4 648.1 454.1 648.4 440.8 648.7 449.4 649 440.5 649.3 452.8 649.6 442.6 649.9 448.7 650.2 440.7 650.5 453.1 650.8 440.2 651.1 453.7 651.4 440.1 651.7 449 652 442 652.3 449.9 652.6 440.8 652.9 449.9 653.2 441.1 653.5 451.7 653.8 440.8 654.1 454 654.4 441.3 654.7 449.8 655 440.7 655.3 448 655.6 441.1 655.9 449.8 656.2 442.3 656.5 449.2 656.8 441.3 657.1 452.5 657.4 442.5 657.7 453.2 658 440.7 658.3 452.8 658.6 440.2 658.9 449.6 659.2 441.6 659.5 452.1 659.8 440 660.1 451.1 660.4 440.6 660.7 451.1 661 440.5 661.3 452.8 661.6 442.2 661.9 453.5 662.2 441.7 662.5 453.7 662.8 440.4 663.1 452.9 663.4 440.5 663.7 449.2 664 440.2 664.3 450.5 664.6 440.2 664.9 453.2 665.2 440.4 665.5 448.1 665.8 440.8 666.1 451.2 666.4 440.6 666.7 448.9 667 440.5 667.3 451.1 667.6 440.5 667.9 453.4 668.2 442.1 668.5 453.7 668.8 440.5 669.1 453.9 669.4 441.4 669.7 448.1 670 440.8 670.3 448.4 670.6 440.5 670.9 448.3 671.2 441.9 671.5 453.6 671.8 440.4 672.1 453.7 672.4 442.7 672.7 451.4 673 442.2 673.3 453.1 673.6 441.7 673.9 448.5 674.2 442.3 674.5 448.7 674.8 440.4 675.1 451.4 675.4 441.1 675.7 450.2 676 441.5 676.3 448.4 676.6 441.9 676.9 452.2 677.2 441.8 677.5 451.5 677.8 440.2 678.1 449.9 678.4 442.6 678.7 449.3 679 441.5 679.3 449.4 679.6 440.8 679.9 451.5 680.2 440.8 680.5 449.5 680.8 440.9 681.1 449 681.4 441.5 681.7 449.9 682 440.5 682.3 450.8 682.6 441.9 682.9 448.6 683.2 440.7 683.5 451.2 683.8 442.3 684.1 448.5 684.4 441.1 684.7 449.5 685 442.2 685.3 450.3 685.6 440.9 685.9 452.9 686.2 442.2 686.5 452 686.8 442.2 687.1 450.4 687.4 442.3 687.7 451.6 688 440.9 688.3 452.1 688.6 442.9 688.9 449.9 689.2 440.7 689.5 448.1 689.8 441 690.1 449.1 690.4 440.8 690.7 450.2 691 441.2 691.3 447.9 691.6 440.5 691.9 452.1 692.2 441 692.5 448 692.8 441 693.1 452.1 693.4 440.8 693.7 451.6 694 441.8 694.3 451.4 694.6 441.9 694.9 449.1 695.2 441.4 695.5 452.1 695.8 442.8 696.1 451.2 696.4 440.7 696.7 451.3 697 441.4 697.3 451.8 697.6 442.4 697.9 448.3 698.2 442.2 698.5 449.5 698.8 441.6 699.1 452.9 699.4 441.6 699.7 449.4 700 441.9 700.3 451.4 700.6 440.9 700.9 451.5 701.2 441.2 701.5 450.5 701.8 441 702.1 450.6 702.4 441 702.7 449.9 703 442.1 703.3 451.1 703.6 440.9 703.9 451.1 704.2 441.5 704.5 449.2 704.8 441 705.1 448.2 705.4 442.1 705.7 451.2 706 441.6 706.3 452.8 706.6 440.9 706.9 449 707.2 441.5 707.5 450.8 707.8 442.6 708.1 450.3 708.4 441.6 708.7 452.6 709 441 709.3 449 709.6 440.8 709.9 452.2 710.2 441.5 710.5 449.6 710.8 441.6 711.1 449.1 711.4 440.7 711.7 450.1 712 441 712.3 452.2 712.6 442.2 712.9 448.1 713.2 442.2 713.5 447.7 713.8 441.6 714.1 452.2 714.4 441.2 714.7 447.5 715 440.7 715.3 450.7 715.6 441.6 715.9 451.2 716.2 441.1 716.5 449.5 716.8 441.5 717.1 450.2 717.4 441.1 717.7 448.8 718 441.3 718.3 448.5 718.6 441.1 718.9 451.9 719.2 442.3 719.5 452 719.8 441.1 720.1 451.9 720.4 441 720.7 450.2 721 441.1 721.3 452 721.6 440.7 721.9 448.4 722.2 441.1 722.5 450.2 722.8 440.8 723.1 451.7 723.4 440.8 723.7 449.9 724 440.9 724.3 447.3 724.6 441 724.9 452.2 725.2 440.9 725.5 448.2 725.8 440.7 726.1 448 726.4 442 726.7 449.5 727 440.5 727.3 451.9 727.6 441.5 727.9 451 728.2 441.5 728.5 449.1 728.8 441.2 729.1 451.7 729.4 441.8 729.7 449.8 730 440.9 730.3 447.4 730.6 440.6 730.9 450.5 731.2 442.6 731.5 448.8 731.8 441.9 732.1 448.4 732.4 441.7 732.7 450.9 733 441 733.3 449.8 733.6 442.5 733.9 449.9 734.2 440.9 734.5 451.9 734.8 441.8 735.1 448.4 735.4 440.8 735.7 451 736 440.7 736.3 451.2 736.6 441.5 736.9 449.9 737.2 440.9 737.5 447.3 737.8 441.1 738.1 450.8 738.4 442.6 738.7 450.9 739 440.6 739.3 451.8 739.6 441.5 739.9 450.6 740.2 441.7 740.5 449.3 740.8 441.4 741.1 450.9 741.4 441.2 741.7 449.6 742 440.9 742.3 448.9 742.6 441.3 742.9 449.4 743.2 440.6 743.5 451.6 743.8 441.7 744.1 449.8 744.4 442.3 744.7 449.6 745 440.7 745.3 449.8" fill="none" stroke="#ff0000" stroke-width="0.95" clip-path="url(#cb)" stroke-linejoin="round"/>
<path d="M38.5 478.6 102.6 478.6 103.2 485 107.6 486 108 476.5 108.6 491.5 150 492 212.4 492.6 212.7 430" fill="none" stroke="#0000ff" stroke-width="0.8" clip-path="url(#cb)"/>
<path d="M212.7 430 212.9 431.6 213.2 446.3 213.5 432 213.8 454 214.1 431.3 214.4 455.4 214.7 430.8 215 456.9 215.3 434.6 215.6 460.4 215.9 432.2 216.2 456.4 216.5 434.8 216.8 455.7 217.1 431.6 217.4 452.2 217.7 434.8 218 462.1 218.3 436.6 218.6 459.3 218.9 434.3 219.2 459.1 219.5 432 219.8 456.4 220.1 437.4 220.4 460 220.7 435.9 221 454.2 221.3 432.2 221.6 474.4 221.9 430 222.2 469.8 222.5 434 222.8 464.4 223.1 433 223.4 455.4 223.7 433.1 224 457.6 224.3 431.9 224.6 456.6 224.9 435.9 225.2 456.7 225.5 430.4 225.8 454.2 226.1 431.2 226.4 453.6 226.7 436.7 227 457.7 227.3 436.6 227.6 459.2 227.9 431.3 228.2 457.4 228.5 433.6 228.8 458.3 229.1 431.1 229.4 454 229.7 430.6 230 451.6 230.3 435.2 230.6 452 230.9 429.7 231.2 445.9 231.5 430.1 231.8 445.2 232.1 429.6 232.4 441.9 232.7 433.9 233 445.1 233.3 431.7 233.6 443.4 233.9 430.3 234.2 443.1 234.5 430.5 234.8 441.9 235.1 429.8 235.4 442.4 235.7 430.5 236 442.3 236.3 431.8 236.6 440 236.9 429.6 237.2 437.4 237.5 432 237.8 439.7 238.1 430.1 238.4 439.4 238.7 429.7 239 441.6 239.3 430.7 239.6 437.5 239.9 432.6 240.2 440.5 240.5 429.9 240.8 440.6 241.1 429.9 241.4 439 241.7 431.4 242 442 242.3 429.6 242.6 442.4 242.9 431 243.2 441.9 243.5 430.3 243.8 442.3 244.1 429.7 244.4 442.2 244.7 430.4 245 438.1 245.3 432.4 245.6 439.9 245.9 430.2 246.2 439.7 246.5 430.1 246.8 438.4 247.1 432.1 247.4 441.3 247.7 431.6 248 440.4 248.3 430 248.6 441.6 248.9 430.9 249.2 441.4 249.5 431.9 249.8 438.5 250.1 429.7 250.4 438.4 250.7 432.8 251 439.6 251.3 429.5 251.6 436.4 251.9 430.4 252.2 434.7 252.5 429 252.8 436.2 253.1 430.4 253.4 433.8 253.7 428.5 254 435.2 254.3 428.6 254.6 433.2 254.9 430.1 255.2 435.4 255.5 429.9 255.8 434.8 256.1 430.3 256.4 433.5 256.7 429.2 257 434.2 257.3 428.9 257.6 432.6 257.9 428.9 258.2 434.2 258.5 428.7 258.8 434.7 259.1 428.5 259.4 432.9 259.7 428.6 260 434.6 260.3 429.9 260.6 433 260.9 428.8 261.2 432.5 261.5 429 261.8 433.3 262.1 429.3 262.4 433.1 262.7 428.8 263 433.8 263.3 429.2 263.6 433.6 263.9 429.2 264.2 432.9 264.5 429.3 264.8 433.2 265.1 430.2 265.4 433.1 265.7 429.9 266 433.6 266.3 429.6 266.6 433.4 266.9 429.1 267.2 432.4 267.5 430.3 267.8 433.1 268.1 429.5 268.4 432.4 268.7 430 269 433.7 269.3 430.1 269.6 433.4 269.9 430.4 270.2 433.6 270.5 429.9 270.8 433.2 271.1 429.6 271.4 433 271.7 430 272 432.7 272.3 430.5 272.6 433.6 272.9 430.2 273.2 433.6 273.5 429.9 273.8 433.3 274.1 430.1 274.4 433.9 274.7 431 275 432.6 275.3 430.2 275.6 433.8 275.9 430.7 276.2 434.1 276.5 430.9 276.8 433.6 277.1 430.4 277.4 433.5 277.7 430.8 278 433.7 278.3 430.9 278.6 434 278.9 431.1 279.2 433.6 279.5 431 279.8 434.2 280.1 431.3 280.4 433.1 280.7 431.6 281 433.6 281.3 430.8 281.6 434.5 281.9 431.7 282.2 434 282.5 430.9 282.8 433.6 283.1 430.6 283.4 433.4 283.7 431.7 284 433.7 284.3 430.8 284.6 434.5 284.9 430.8 285.2 434.1 285.5 431.8 285.8 433.8 286.1 430.7 286.4 434.4 286.7 431.2 287 433.5 287.3 431.2 287.6 434.4 287.9 431.3 288.2 433.3 288.5 431.3 288.8 433.6 289.1 431.3 289.4 434.4 289.7 431.6 290 434.5 290.3 431.4 290.6 434.6 290.9 431.7 291.2 434 291.5 431.5 291.8 434.8 292.1 431.5 292.4 435.2 292.7 431.8 293 434.1 293.3 432.1 293.6 435.2 293.9 431.9 294.2 434.7 294.5 431.4 294.8 433.9 295.1 431.5 295.4 435 295.7 431.4 296 435 296.3 431.8 296.6 435.3 296.9 431.6 297.2 435.3 297.5 432.1 297.8 434.4 298.1 431.9 298.4 435.1 298.7 431.9 299 434.5 299.3 432.7 299.6 435.5 299.9 432.2 300.2 434.5 300.5 432 300.8 435.5 301.1 432 301.4 434.9 301.7 432.6 302 434.8 302.3 433.1 302.6 434.5 302.9 432.1 303.2 435.6 303.5 432.9 303.8 435.4 304.1 432.7 304.4 435.8 304.7 432.4 305 435.5 305.3 432.2 305.6 435.3 305.9 432.5 306.2 436.3 306.5 432.7 306.8 435.3 307.1 432.3 307.4 435.5 307.7 432.2 308 435.7 308.3 432.5 308.6 435.1 308.9 432.6 309.2 435.5 309.5 433.1 309.8 435.5 310.1 433 310.4 436 310.7 433.4 311 436 311.3 432.9 311.6 436.1 311.9 432.8 312.2 435.5 312.5 432.7 312.8 436.7 313.1 432.6 313.4 435.7 313.7 432.9 314 435.6 314.3 433.4 314.6 435.8 314.9 433 315.2 436.6 315.5 433 315.8 436.6 316.1 432.7 316.4 435.5 316.7 433.7 317 436.9 317.3 432.9 317.6 435.5 317.9 432.8 318.2 436.7 318.5 433.3 318.8 437 319.1 432.9 319.4 436 319.7 433.1 320 437.2 320.3 432.8 320.6 437 320.9 433.3 321.2 436.8 321.5 433.7 321.8 436.6 322.1 433.1 322.4 437.3 322.7 433.9 323 436.7 323.3 433.1 323.6 437.6 323.9 433.9 324.2 436.1 324.5 433.4 324.8 437.2 325.1 433.9 325.4 437.8 325.7 434.1 326 437.2 326.3 434.1 326.6 436.6 326.9 433.4 327.2 437.1 327.5 433.8 327.8 437.5 328.1 433.3 328.4 437.5 328.7 433.4 329 437.8 329.3 433.2 329.6 437.6 329.9 433.9 330.2 437.9 330.5 433.5 330.8 437.5 331.1 433.6 331.4 436.5 331.7 434.3 332 436.9 332.3 433.8 332.6 437.4 332.9 434.3 333.2 436.7 333.5 433.6 333.8 436.6 334.1 433.3 334.4 436.5 334.7 433.6 335 436.7 335.3 433.3 335.6 437.5 335.9 433.3 336.2 437.5 336.5 433.1 336.8 436.2 337.1 433.4 337.4 436.6 337.7 433.9 338 436.1 338.3 433.5 338.6 437.2 338.9 434 339.2 436.4 339.5 433.6 339.8 437.7 340.1 433.9 340.4 436.2 340.7 433.2 341 437.4 341.3 433.8 341.6 437.2 341.9 433.4 342.2 436.8 342.5 433.8 342.8 436.9 343.1 433.5 343.4 436.1 343.7 433.8 344 437.1 344.3 433 344.6 436.2 344.9 433.5 345.2 436.5 345.5 433.2 345.8 436.1 346.1 432.8 346.4 436.6 346.7 432.9 347 436 347.3 433.1 347.6 436.9 347.9 433.4 348.2 436.9 348.5 433.9 348.8 436.1 349.1 433.4 349.4 436 349.7 433.5 350 436.6 350.3 433.3 350.6 436.9 350.9 433.8 351.2 436.5 351.5 433.5 351.8 437.2 352.1 433.7 352.4 437.6 352.7 433.5 353 436.6 353.3 434 353.6 437 353.9 434.4 354.2 436.9 354.5 433.4 354.8 437.7 355.1 433.8 355.4 437.3 355.7 434.5 356 437.9 356.3 434.1 356.6 436.9 356.9 434.6 357.2 438.1 357.5 434 357.8 438.2 358.1 433.8 358.4 437.3 358.7 434.2 359 438 359.3 434.2 359.6 437.6 359.9 434.4 360.2 437.5 360.5 434.8 360.8 437.4 361.1 434.4 361.4 437.1 361.7 435.3 362 438.3 362.3 434.3 362.6 438.6 362.9 435.2 363.2 438.3 363.5 434.7 363.8 438 364.1 435 364.4 438.2 364.7 434.9 365 438.8 365.3 435.5 365.6 437.9 365.9 435.5 366.2 437.7 366.5 434.9 366.8 438.4 367.1 434.9 367.4 438.4 367.7 435.4 368 439.1 368.3 435.1 368.6 438.6 368.9 435.5 369.2 438.1 369.5 435.4 369.8 439.5 370.1 436.2 370.4 439.2 370.7 435.5 371 438.8 371.3 435.1 371.6 438.1 371.9 435.7 372.2 439.5 372.5 435.8 372.8 439.1 373.1 435.7 373.4 439.4 373.7 436.3 374 439.9 374.3 435.7 374.6 439.1 374.9 435.7 375.2 439.9 375.5 436 375.8 439.8 376.1 436.4 376.4 439.8 376.7 436 377 439.9 377.3 435.8 377.6 440 377.9 436.4 378.2 439.2 378.5 436.3 378.8 439.7 379.1 435.9 379.4 440.1 379.7 436.4 380 439.9 380.3 436.2 380.6 440.3 380.9 436.4 381.2 439.2 381.5 436.5 381.8 439.4 382.1 437 382.4 440.3 382.7 436.3 383 439.2 383.3 437 383.6 439.7 383.9 436.8 384.2 439.8 384.5 437 384.8 439.4 385.1 436 385.4 440.3 385.7 436.2 386 439.9 386.3 436.7 386.6 440.5 386.9 436.2 387.2 439.5 387.5 436.1 387.8 438.8 388.1 436.5 388.4 440.6 388.7 436 389 439.9 389.3 436.4 389.6 439.2 389.9 436.7 390.2 438.9 390.5 436 390.8 440 391.1 436 391.4 440 391.7 436.3 392 439.9 392.3 436 392.6 440 392.9 436.3 393.2 440.1 393.5 436 393.8 439.1 394.1 436.1 394.4 440.3 394.7 436.3 395 440 395.3 436.3 395.6 439.9 395.9 437.1 396.2 439.5 396.5 436.4 396.8 439.7 397.1 436.1 397.4 439.2 397.7 436.5 398 439 398.3 436.1 398.6 440.1 398.9 435.9 399.2 438.9 399.5 436.1 399.8 439.4 400.1 436.4 400.4 440.4 400.7 435.8 401 439.9 401.3 435.9 401.6 438.9 401.9 436 402.2 439.5 402.5 436 402.8 440.5 403.1 436.1 403.4 439.7 403.7 435.4 404 439.3 404.3 435.9 404.6 439.7 404.9 435.9 405.2 439.6 405.5 436.6 405.8 439.7 406.1 436.2 406.4 439.1 406.7 435.6 407 440.1 407.3 435.7 407.6 438.4 407.9 435.4 408.2 439.4 408.5 435.8 408.8 440.4 409.1 435.7 409.4 439 409.7 435.3 410 440.2 410.3 435.3 410.6 439.4 410.9 435.3 411.2 440.2 411.5 436.8 411.8 440.1 412.1 435.6 412.4 438.5 412.7 436 413 439.2 413.3 435.6 413.6 440.4 413.9 435.2 414.2 440 414.5 435.6 414.8 440 415.1 435.3 415.4 440.3 415.7 435.6 416 439.1 416.3 435.8 416.6 440.1 416.9 435.6 417.2 439.4 417.5 436.1 417.8 440.5 418.1 435.9 418.4 440.8 418.7 436.4 419 440 419.3 435.9 419.6 440.1 419.9 436.1 420.2 439.9 420.5 436.3 420.8 440.6 421.1 436.7 421.4 439.5 421.7 436.5 422 440.1 422.3 437 422.6 440.5 422.9 437.5 423.2 440.6 423.5 436.7 423.8 440.8 424.1 436.9 424.4 440.9 424.7 436.4 425 440.6 425.3 436.5 425.6 441.2 425.9 438.1 426.2 439.9 426.5 437 426.8 439.9 427.1 437.3 427.4 441.2 427.7 437.1 428 439.8 428.3 438.1 428.6 440.8 428.9 437.6 429.2 441.5 429.5 437.4 429.8 441.6 430.1 437.3 430.4 441.3 430.7 437.2 431 440.3 431.3 436.9 431.6 441 431.9 437.9 432.2 441.9 432.5 437.6 432.8 442.6 433.1 436.6 433.4 441 433.7 438.5 434 442 434.3 436.9 434.6 442.6 434.9 437.3 435.2 442 435.5 438.2 435.8 441.2 436.1 437.9 436.4 442.7 436.7 436.9 437 442.2 437.3 436.9 437.6 442.9 437.9 437.1 438.2 442.1 438.5 437.4 438.8 442.4 439.1 438 439.4 441.5 439.7 437.7 440 441.4 440.3 438.5 440.6 442.5 440.9 437.8 441.2 442.8 441.5 437.5 441.8 442.1 442.1 437.2 442.4 442 442.7 437.9 443 443 443.3 437.9 443.6 441.7 443.9 438.4 444.2 443.3 444.5 438.6 444.8 443.5 445.1 439 445.4 441.7 445.7 437.7 446 442.9 446.3 438.3 446.6 442.7 446.9 437.5 447.2 443.1 447.5 437.7 447.8 441.4 448.1 438.6 448.4 442.3 448.7 437.4 449 443 449.3 438.2 449.6 443.7 449.9 437.8 450.2 443.5 450.5 439 450.8 442.1 451.1 438.6 451.4 441.9 451.7 438 452 443.3 452.3 437.6 452.6 442.8 452.9 438.4 453.2 441.9 453.5 437.7 453.8 443.7 454.1 437.5 454.4 443.4 454.7 437.2 455 443.5 455.3 437.1 455.6 442.9 455.9 437.6 456.2 442.9 456.5 437.9 456.8 442.8 457.1 438 457.4 442.3 457.7 437.8 458 442.7 458.3 437.5 458.6 443.2 458.9 437.7 459.2 441.6 459.5 438.2 459.8 444 460.1 437.4 460.4 442.8 460.7 438 461 444.1 461.3 437.1 461.6 444.1 461.9 437 462.2 441.5 462.5 437.2 462.8 443.2 463.1 437 463.4 444.2 463.7 436.9 464 443.1 464.3 437.5 464.6 442.5 464.9 436.8 465.2 444.6 465.5 438.2 465.8 443.7 466.1 437.3 466.4 443.7 466.7 437.6 467 444.3 467.3 437.4 467.6 444.8 467.9 438.5 468.2 444.9 468.5 436.6 468.8 442.2 469.1 437.1 469.4 443.1 469.7 438.5 470 443.3 470.3 437.7 470.6 443.1 470.9 436.3 471.2 442.7 471.5 436.5 471.8 444.7 472.1 438.4 472.4 444 472.7 436.7 473 442.4 473.3 438.1 473.6 444.2 473.9 436.5 474.2 443.9 474.5 436.8 474.8 443.5 475.1 438.5 475.4 443 475.7 437.1 476 445.2 476.3 437.8 476.6 442.5 476.9 438.6 477.2 445.1 477.5 436.9 477.8 445.2 478.1 437.4 478.4 444.9 478.7 438.9 479 445.2 479.3 439.3 479.6 445.3 479.9 437.5 480.2 443.1 480.5 438.2 480.8 443.8 481.1 437.7 481.4 443.4 481.7 439.5 482 445.3 482.3 438.5 482.6 442.8 482.9 438 483.2 442.8 483.5 438.4 483.8 445.5 484.1 438 484.4 445 484.7 438.4 485 446 485.3 439.3 485.6 444.5 485.9 438.8 486.2 445.7 486.5 438.3 486.8 444.1 487.1 439.4 487.4 444.7 487.7 438.5 488 443.8 488.3 439 488.6 446.2 488.9 438.8 489.2 444.1 489.5 438.5 489.8 445.6 490.1 439.4 490.4 444.5 490.7 438.8 491 446.1 491.3 438.9 491.6 444.1 491.9 438.8 492.2 443.5 492.5 438.9 492.8 445.1 493.1 439.9 493.4 446.1 493.7 439.4 494 445.7 494.3 438.9 494.6 444.3 494.9 440.9 495.2 444.8 495.5 439.1 495.8 445.7 496.1 440 496.4 446 496.7 438.4 497 446.6 497.3 438.8 497.6 445.2 497.9 439.2 498.2 443.5 498.5 438.6 498.8 445.7 499.1 438.5 499.4 445.6 499.7 440.3 500 443.5 500.3 438.2 500.6 446.5 500.9 439 501.2 446.1 501.5 439.5 501.8 446.5 502.1 440.3 502.4 445.3 502.7 438.1 503 445.4 503.3 438.8 503.6 445.2 503.9 438.1 504.2 443.7 504.5 437.9 504.8 445.1 505.1 437.6 505.4 446.7 505.7 438.3 506 444.5 506.3 439.6 506.6 446.2 506.9 438.4 507.2 443.4 507.5 437.7 507.8 446.3 508.1 439.9 508.4 446.3 508.7 438.9 509 443.8 509.3 437.7 509.6 444.8 509.9 437.6 510.2 446.4 510.5 438 510.8 446.6 511.1 437.3 511.4 446.2 511.7 437.1 512 446.1 512.3 440 512.6 444.3 512.9 438.4 513.2 446.3 513.5 439.1 513.8 446.5 514.1 437.4 514.4 443.7 514.7 438.3 515 446.2 515.3 436.4 515.6 444.4 515.9 438.9 516.2 443.6 516.5 436.4 516.8 446.5 517.1 437.9 517.4 444.1 517.7 437.9 518 445.1 518.3 437.4 518.6 445.9 518.9 436.7 519.2 445 519.5 436.6 519.8 444.1 520.1 438.8 520.4 445.1 520.7 437.5 521 443.2 521.3 438.2 521.6 443.5 521.9 436.9 522.2 446.3 522.5 437.1 522.8 445.4 523.1 439.8 523.4 446.2 523.7 437.4 524 443.6 524.3 437.8 524.6 445.3 524.9 438.9 525.2 446.8 525.5 440.1 525.8 444.9 526.1 439.4 526.4 446.6 526.7 437.8 527 445.4 527.3 437.9 527.6 446.5 527.9 438.1 528.2 444.4 528.5 439.5 528.8 447.5 529.1 438.4 529.4 446.3 529.7 438.2 530 446.2 530.3 438.5 530.6 447.1 530.9 439 531.2 447.6 531.5 438.1 531.8 446.3 532.1 438.1 532.4 446.9 532.7 438.1 533 445.1 533.3 438.9 533.6 447.7 533.9 439.1 534.2 444.6 534.5 437.8 534.8 446.7 535.1 439.6 535.4 445.1 535.7 438.3 536 446.6 536.3 438.9 536.6 445.3 536.9 437.7 537.2 446.2 537.5 440.3 537.8 444.9 538.1 439.9 538.4 445.6 538.7 440.2 539 446.8 539.3 437.4 539.6 446.1 539.9 437.5 540.2 447.5 540.5 437.2 540.8 446.5 541.1 439.8 541.4 447.6 541.7 436.8 542 446.1 542.3 437.7 542.6 447.8 542.9 437.1 543.2 445.5 543.5 437.8 543.8 447 544.1 436.8 544.4 447.3 544.7 437.9 545 445.7 545.3 438.8 545.6 448.2 545.9 438.8 546.2 448.2 546.5 438.8 546.8 445.1 547.1 436.8 547.4 446.1 547.7 437.1 548 446.9 548.3 436.8 548.6 445.6 548.9 435.9 549.2 445.7 549.5 436 549.8 448.6 550.1 435.6 550.4 444.2 550.7 439 551 447.4 551.3 438.2 551.6 446 551.9 437.7 552.2 447.8 552.5 437.2 552.8 446.9 553.1 439.1 553.4 446.6 553.7 435.8 554 444.3 554.3 436.1 554.6 446.8 554.9 436.1 555.2 444.5 555.5 436.6 555.8 448.5 556.1 436.1 556.4 447.8 556.7 437.1 557 444.7 557.3 437.1 557.6 446.2 557.9 437.6 558.2 445.1 558.5 437.6 558.8 446.3 559.1 439.4 559.4 448.6 559.7 440.1 560 445.1 560.3 437.1 560.6 445.3 560.9 438.4 561.2 447.3 561.5 437.1 561.8 448.1 562.1 437.7 562.4 449.1 562.7 440.5 563 445.4 563.3 438.1 563.6 445.1 563.9 437.6 564.2 447.6 564.5 439.3 564.8 445 565.1 438.3 565.4 448.1 565.7 439.7 566 445.4 566.3 437.9 566.6 448.7 566.9 439.7 567.2 446.2 567.5 438.9 567.8 446.6 568.1 440 568.4 447.3 568.7 438.3 569 447.5 569.3 441 569.6 448.7 569.9 438.1 570.2 448.9 570.5 438.6 570.8 445.3 571.1 440.5 571.4 447.1 571.7 440.8 572 447.1 572.3 440.4 572.6 447.3 572.9 439.6 573.2 446.8 573.5 439.6 573.8 449.3 574.1 438.8 574.4 448.5 574.7 440.5 575 448.5 575.3 440.4 575.6 445.6 575.9 439 576.2 448.6 576.5 439.2 576.8 447.7 577.1 438.8 577.4 449.2 577.7 438.1 578 448.6 578.3 440 578.6 446.9 578.9 438.6 579.2 448 579.5 440.7 579.8 447.9 580.1 438.8 580.4 448.3 580.7 439.3 581 448.1 581.3 439 581.6 446 581.9 439.8 582.2 447.9 582.5 437.7 582.8 446.5 583.1 440.6 583.4 448 583.7 438.1 584 445.8 584.3 437 584.6 445.1 584.9 437 585.2 448.7 585.5 436.8 585.8 444.8 586.1 436.8 586.4 444.3 586.7 436.8 587 445.4 587.3 437.9 587.6 446.5 587.9 437.1 588.2 447.7 588.5 436.1 588.8 448.6 589.1 435.6 589.4 444.1 589.7 437.7 590 446.7 590.3 436.3 590.6 448.9 590.9 435.9 591.2 445.9 591.5 434.8 591.8 447.3 592.1 436 592.4 445.1 592.7 434.8 593 444.5 593.3 438.3 593.6 446.1 593.9 437 594.2 448.8 594.5 435.6 594.8 444 595.1 437.4 595.4 448 595.7 438.2 596 448.9 596.3 435.9 596.6 447.8 596.9 435.3 597.2 447.1 597.5 437.4 597.8 448.3 598.1 437.1 598.4 445.2 598.7 436.1 599 448.9 599.3 439.7 599.6 449.8 599.9 436.1 600.2 448.8 600.5 436.4 600.8 445 601.1 436.6 601.4 448.4 601.7 436.9 602 445.2 602.3 436.7 602.6 449 602.9 437.3 603.2 446.3 603.5 439.2 603.8 448.7 604.1 438.3 604.4 448.8 604.7 437.8 605 448 605.3 438.4 605.6 448.8 605.9 440.4 606.2 447.5 606.5 441.4 606.8 449 607.1 438.7 607.4 449.6 607.7 441.7 608 450 608.3 441.7 608.6 450.4 608.9 440.1 609.2 450.6 609.5 439.4 609.8 447.9 610.1 439.9 610.4 450.2 610.7 440.7 611 449.7 611.3 441.5 611.6 450.7 611.9 439.5 612.2 446.9 612.5 440.5 612.8 450.2 613.1 440.5 613.4 448.4 613.7 441 614 446.9 614.3 438.8 614.6 448 614.9 439.4 615.2 449.2 615.5 440.2 615.8 450.5 616.1 438.9 616.4 446.9 616.7 438.4 617 450.1 617.3 439.1 617.6 447.3 617.9 439 618.2 449.1 618.5 438.1 618.8 449.7 619.1 440.1 619.4 448.4 619.7 440.3 620 449.4 620.3 440.2 620.6 448.4 620.9 440.3 621.2 449 621.5 439.7 621.8 447.5 622.1 438 622.4 449.1 622.7 438 623 449.5 623.3 438 623.6 449.5 623.9 437.8 624.2 448.9 624.5 438 624.8 447.4 625.1 439.8 625.4 450.8 625.7 438 626 448.7 626.3 440 626.6 446.1 626.9 439.7 627.2 450.2 627.5 438.7 627.8 450.4 628.1 441.1 628.4 448.4 628.7 439.1 629 450.4 629.3 440.8 629.6 448.8 629.9 441.1 630.2 450.5 630.5 439.6 630.8 446.3 631.1 440.5 631.4 450.9 631.7 441 632 447.6 632.3 440.4 632.6 447.2 632.9 438.7 633.2 448.1 633.5 441.3 633.8 450.4 634.1 440.7 634.4 450.4 634.7 438.1 635 448 635.3 438.4 635.6 446.2 635.9 438.6 636.2 446.6 636.5 438.3 636.8 449.2 637.1 440.5 637.4 447.7 637.7 440.1 638 449.5 638.3 441 638.6 449.9 638.9 438.6 639.2 447.9 639.5 441 639.8 450.3 640.1 440.6 640.4 449.4 640.7 439.8 641 450.8 641.3 440.3 641.6 449.3 641.9 439 642.2 450.3 642.5 439.6 642.8 447.5 643.1 438.9 643.4 447.7 643.7 439.1 644 450 644.3 439.5 644.6 447.3 644.9 439.3 645.2 448.8 645.5 439.4 645.8 449.9 646.1 439.2 646.4 447.9 646.7 441.2 647 448.8 647.3 440.8 647.6 449.1 647.9 440.8 648.2 448.8 648.5 439.9 648.8 446.7 649.1 440.1 649.4 449.2 649.7 439.8 650 452 650.3 440.1 650.6 451.3 650.9 442 651.2 458.2 651.5 441.5 651.8 451.9 652.1 441.8 652.4 458.9 652.7 443.9 653 463.3 653.3 443.1 653.6 465.6 653.9 446.6 654.2 474.6 654.5 442.4 654.8 477.8 655.1 445.7 655.4 463.3 655.7 446.4 656 474.5 656.3 443.4 656.6 461.7 656.9 443.2 657.2 461.4 657.5 440.7 657.8 460.8 658.1 441 658.4 459.9 658.7 439.9 659 453.1 659.3 441.9 659.6 451.1 659.9 439.3 660.2 451.6 660.5 438.6 660.8 448.2 661.1 439.6 661.4 447 661.7 441.4 662 448.5 662.3 439.8 662.6 449.3 662.9 437.5 663.2 449.1 663.5 437.3 663.8 445.5 664.1 438 664.4 446 664.7 437 665 449.5 665.3 438.7 665.6 448.8 665.9 439.2 666.2 446.8 666.5 437.2 666.8 449.7 667.1 437.5 667.4 449.1 667.7 437.3 668 449.7 668.3 437.5 668.6 448.7 668.9 439.2 669.2 448.8 669.5 437.3 669.8 448.8 670.1 436.9 670.4 447.5 670.7 435.2 671 445 671.3 436.8 671.6 449.1 671.9 435.1 672.2 446.6 672.5 438.5 672.8 447.7 673.1 435.4 673.4 445.2 673.7 435.4 674 446.4 674.3 435.1 674.6 449 674.9 439.4 675.2 447.1 675.5 435.5 675.8 444.8 676.1 437.5 676.4 448.9 676.7 438 677 447.2 677.3 435.9 677.6 447.4 677.9 436.8 678.2 446.1 678.5 436.1 678.8 446.1 679.1 439 679.4 446.8 679.7 436.1 680 447.8 680.3 437.2 680.6 450 680.9 437.2 681.2 449.4 681.5 436.4 681.8 449.8 682.1 439 682.4 449.5 682.7 436.8 683 448.4 683.3 437.4 683.6 447.3 683.9 437 684.2 449.8 684.5 438.8 684.8 447.5 685.1 437.4 685.4 446.8 685.7 438.4 686 448.6 686.3 439.1 686.6 450.1 686.9 439 687.2 448.3 687.5 437.8 687.8 446.8 688.1 438.2 688.4 448.7 688.7 440.8 689 449.8 689.3 438.4 689.6 446.7 689.9 441.9 690.2 449.2 690.5 439.3 690.8 448.1 691.1 439.6 691.4 448.3 691.7 439.5 692 448.2 692.3 440.2 692.6 450.5 692.9 441.3 693.2 449.7 693.5 441 693.8 452.6 694.1 441.6 694.4 455.9 694.7 439.8 695 456.1 695.3 443.8 695.6 460 695.9 442.2 696.2 456.3 696.5 440.8 696.8 454.6 697.1 441.1 697.4 461.8 697.7 441.9 698 460.4 698.3 439.9 698.6 454.3 698.9 441.5 699.2 454.2 699.5 441.1 699.8 451.8 700.1 438.8 700.4 447.1 700.7 439.4 701 446.4 701.3 441.6 701.6 448.5 701.9 438.6 702.2 446.6 702.5 438.1 702.8 445.4 703.1 437.6 703.4 450 703.7 439.8 704 445.2 704.3 438.1 704.6 446.6 704.9 436.9 705.2 449.4 705.5 439 705.8 449.7 706.1 438.2 706.4 446.4 706.7 437.7 707 448.8 707.3 436.1 707.6 449.8 707.9 436.6 708.2 449.1 708.5 435.9 708.8 446.7 709.1 437.3 709.4 444.5 709.7 435.6 710 446.8 710.3 437.4 710.6 448.5 710.9 434.9 711.2 449 711.5 434.5 711.8 448.9 712.1 434.4 712.4 445.4 712.7 433.5 713 446.7 713.3 434.8 713.6 447 713.9 433.3 714.2 448.6 714.5 437.1 714.8 448.1 715.1 433.2 715.4 448.6 715.7 434.4 716 448.8 716.3 437.5 716.6 443 716.9 434.9 717.2 446.8 717.5 436.1 717.8 446.1 718.1 433.9 718.4 447.1 718.7 433.3 719 447.8 719.3 432.8 719.6 444.2 719.9 433.9 720.2 443.1 720.5 435.9 720.8 442 721.1 435.4 721.4 445.5 721.7 433 722 444.1 722.3 435.7 722.6 447.8 722.9 431.3 723.2 448.1 723.5 432.6 723.8 448 724.1 432.1 724.4 443 724.7 433.6 725 445.6 725.3 433.1 725.6 448.4 725.9 435.2 726.2 446.2 726.5 432.8 726.8 445 727.1 433.7 727.4 448.8 727.7 436.6 728 447.9 728.3 436 728.6 444.6 728.9 437.5 729.2 444.8 729.5 433.7 729.8 445.4 730.1 434.5 730.4 447.7 730.7 434.5 731 444.4 731.3 436.8 731.6 444.1 731.9 435 732.2 448.2 732.5 436 732.8 446.7 733.1 437.6 733.4 446.6 733.7 437.5 734 446 734.3 437.6 734.6 448.7 734.9 440.3 735.2 449.4 735.5 438.7 735.8 445.9 736.1 440.8 736.4 450.3 736.7 438.6 737 449.2 737.3 438.7 737.6 455.4 737.9 439.3 738.2 459.6 738.5 442.5 738.8 453.9 739.1 443.2 739.4 461.6 739.7 442.9 740 460 740.3 444.8 740.6 465.8 740.9 441.8 741.2 471.6 741.5 447 741.8 466.8 742.1 442.4 742.4 477.8 742.7 445.8 743 482 743.3 444 743.6 480.9 743.9 446.2 744.2 458 744.5 442.7 744.8 468.3 745.1 440 745.4 465.5" fill="none" stroke="#0000ff" stroke-width="0.95" clip-path="url(#cb)" stroke-linejoin="round"/>
<path d="M161.6 380l1.4 2.5h-2.8zM161.6 373l1.4 2.5h-2.8zM161.6 368l1.4 2.5h-2.8zM161.6 364l1.4 2.5h-2.8zM161.6 345l1.4 2.5h-2.8zM161.6 338l1.4 2.5h-2.8zM161.6 331l1.4 2.5h-2.8zM161.6 324l1.4 2.5h-2.8zM161.6 318l1.4 2.5h-2.8zM169.8 335.6l1.4 2.5h-2.8zM170.2 331l1.4 2.5h-2.8zM170.6 327l1.4 2.5h-2.8z" fill="#e69f00" stroke="none" clip-path="url(#cb)"/>
<path d="M38.5 349.8l1.9 3.3h-3.7zM39.4 349.8l1.9 3.3h-3.7zM40.2 344.2l1.9 3.3h-3.7zM41.1 344.2l1.9 3.3h-3.7zM41.9 344.2l1.9 3.3h-3.7zM42.8 344.2l1.9 3.3h-3.7zM43.6 344.2l1.9 3.3h-3.7zM44.5 344.2l1.9 3.3h-3.7zM45.3 344.2l1.9 3.3h-3.7zM46.2 348.2l1.9 3.3h-3.7zM47 348.2l1.9 3.3h-3.7zM47.9 348.2l1.9 3.3h-3.7zM48.7 348.2l1.9 3.3h-3.7zM49.6 348.2l1.9 3.3h-3.7zM50.4 348.2l1.9 3.3h-3.7zM51.3 348.2l1.9 3.3h-3.7zM52.1 349.8l1.9 3.3h-3.7zM53 349.8l1.9 3.3h-3.7zM53.8 349.8l1.9 3.3h-3.7zM54.7 349.8l1.9 3.3h-3.7zM55.5 349.8l1.9 3.3h-3.7zM56.4 349.8l1.9 3.3h-3.7zM57.2 349.8l1.9 3.3h-3.7zM58.1 349.8l1.9 3.3h-3.7zM58.9 349.8l1.9 3.3h-3.7zM59.8 349.8l1.9 3.3h-3.7zM60.6 349.8l1.9 3.3h-3.7zM61.5 349.8l1.9 3.3h-3.7zM62.3 349.8l1.9 3.3h-3.7zM63.2 349.8l1.9 3.3h-3.7zM64 349.8l1.9 3.3h-3.7zM64.9 349.8l1.9 3.3h-3.7zM65.7 349.8l1.9 3.3h-3.7zM66.6 349.8l1.9 3.3h-3.7zM67.4 349.8l1.9 3.3h-3.7zM68.3 349.8l1.9 3.3h-3.7zM69.1 349.8l1.9 3.3h-3.7zM70 349.8l1.9 3.3h-3.7zM70.8 349.8l1.9 3.3h-3.7zM71.6 349.8l1.9 3.3h-3.7zM72.5 349.8l1.9 3.3h-3.7zM73.3 349.8l1.9 3.3h-3.7zM74.2 349.8l1.9 3.3h-3.7zM75 349.8l1.9 3.3h-3.7zM75.9 349.8l1.9 3.3h-3.7zM76.7 349.8l1.9 3.3h-3.7zM77.6 349.8l1.9 3.3h-3.7zM78.4 349.8l1.9 3.3h-3.7zM79.3 349.8l1.9 3.3h-3.7zM80.1 349.8l1.9 3.3h-3.7zM81 349.8l1.9 3.3h-3.7zM81.8 349.8l1.9 3.3h-3.7zM82.7 349.8l1.9 3.3h-3.7zM83.5 349.8l1.9 3.3h-3.7zM84.4 349.8l1.9 3.3h-3.7zM84.6 345.2l1.9 3.3h-3.7zM85.2 343.2l1.9 3.3h-3.7zM85.4 387.6l1.9 3.3h-3.7zM86.2 387.6l1.9 3.3h-3.7zM87.1 387.6l1.9 3.3h-3.7zM87.9 387.6l1.9 3.3h-3.7zM88.8 387.6l1.9 3.3h-3.7zM89.6 387.6l1.9 3.3h-3.7zM90.5 387.6l1.9 3.3h-3.7zM91.3 387.6l1.9 3.3h-3.7zM92.2 387.6l1.9 3.3h-3.7zM93 387.6l1.9 3.3h-3.7zM93.9 387.6l1.9 3.3h-3.7zM94.7 387.6l1.9 3.3h-3.7zM95.6 387.6l1.9 3.3h-3.7zM96.4 387.6l1.9 3.3h-3.7zM97.3 387.6l1.9 3.3h-3.7zM98.1 387.6l1.9 3.3h-3.7zM99 387.6l1.9 3.3h-3.7zM99.8 387.6l1.9 3.3h-3.7zM100.7 387.6l1.9 3.3h-3.7zM101.5 387.6l1.9 3.3h-3.7zM102.4 387.6l1.9 3.3h-3.7zM103.2 387.6l1.9 3.3h-3.7zM104.1 387.6l1.9 3.3h-3.7zM104.9 387.6l1.9 3.3h-3.7zM105.8 387.6l1.9 3.3h-3.7zM106.6 387.6l1.9 3.3h-3.7zM107.5 387.6l1.9 3.3h-3.7zM108.3 387.6l1.9 3.3h-3.7zM109.2 387.6l1.9 3.3h-3.7zM110 387.6l1.9 3.3h-3.7zM110.9 387.6l1.9 3.3h-3.7zM111.7 387.6l1.9 3.3h-3.7zM112.6 387.6l1.9 3.3h-3.7zM113.4 387.6l1.9 3.3h-3.7zM114.3 387.6l1.9 3.3h-3.7zM115.1 387.6l1.9 3.3h-3.7zM116 387.6l1.9 3.3h-3.7zM116.8 387.6l1.9 3.3h-3.7zM117.7 387.6l1.9 3.3h-3.7zM118.5 387.6l1.9 3.3h-3.7zM119.4 387.6l1.9 3.3h-3.7zM120.2 387.6l1.9 3.3h-3.7zM121.1 387.6l1.9 3.3h-3.7zM121.9 387.6l1.9 3.3h-3.7zM122.8 387.6l1.9 3.3h-3.7zM123.6 387.6l1.9 3.3h-3.7zM124.5 387.6l1.9 3.3h-3.7zM125.3 387.6l1.9 3.3h-3.7zM126.2 387.6l1.9 3.3h-3.7zM127 387.6l1.9 3.3h-3.7zM127.9 387.6l1.9 3.3h-3.7zM128.7 387.6l1.9 3.3h-3.7zM129.6 387.6l1.9 3.3h-3.7zM130.4 387.6l1.9 3.3h-3.7zM131.3 387.6l1.9 3.3h-3.7zM132.1 387.6l1.9 3.3h-3.7zM133 387.6l1.9 3.3h-3.7zM133.8 387.6l1.9 3.3h-3.7zM134.7 387.6l1.9 3.3h-3.7zM135.5 387.6l1.9 3.3h-3.7zM136.4 387.6l1.9 3.3h-3.7zM137.2 387.6l1.9 3.3h-3.7zM138.1 387.6l1.9 3.3h-3.7zM138.9 387.6l1.9 3.3h-3.7zM139.8 387.6l1.9 3.3h-3.7zM140.6 387.6l1.9 3.3h-3.7zM141.5 387.6l1.9 3.3h-3.7zM142.3 387.6l1.9 3.3h-3.7zM143.2 387.6l1.9 3.3h-3.7zM144 387.6l1.9 3.3h-3.7zM144.9 387.6l1.9 3.3h-3.7zM145.7 387.6l1.9 3.3h-3.7zM146.6 387.6l1.9 3.3h-3.7zM147.4 387.6l1.9 3.3h-3.7zM148.3 387.6l1.9 3.3h-3.7zM149.1 387.6l1.9 3.3h-3.7zM150 387.6l1.9 3.3h-3.7zM150.8 387.6l1.9 3.3h-3.7zM151.7 387.6l1.9 3.3h-3.7zM152.5 387.6l1.9 3.3h-3.7zM153.4 387.6l1.9 3.3h-3.7zM154.2 387.6l1.9 3.3h-3.7zM155.1 387.6l1.9 3.3h-3.7zM155.9 387.6l1.9 3.3h-3.7zM156.8 387.6l1.9 3.3h-3.7zM157.6 387.6l1.9 3.3h-3.7zM158.5 387.6l1.9 3.3h-3.7zM159.3 387.6l1.9 3.3h-3.7zM160.2 387.6l1.9 3.3h-3.7zM161 387.6l1.9 3.3h-3.7zM161.6 310.6l1.9 3.3h-3.7zM161.9 306.6l1.9 3.3h-3.7zM162.2 304l1.9 3.3h-3.7zM161.6 303.7l1.9 3.3h-3.7zM161.6 302.3l1.9 3.3h-3.7zM162.4 306.6l1.9 3.3h-3.7zM162.4 305.2l1.9 3.3h-3.7zM163.3 309.3l1.9 3.3h-3.7zM163.3 307.9l1.9 3.3h-3.7zM164.1 311.2l1.9 3.3h-3.7zM164.1 309.8l1.9 3.3h-3.7zM165 313.2l1.9 3.3h-3.7zM165 311.8l1.9 3.3h-3.7zM165.8 314.3l1.9 3.3h-3.7zM165.8 312.9l1.9 3.3h-3.7zM166.7 315.4l1.9 3.3h-3.7zM166.7 312.6l1.9 3.3h-3.7zM167.5 316.6l1.9 3.3h-3.7zM167.5 313.8l1.9 3.3h-3.7zM168.4 317.4l1.9 3.3h-3.7zM168.4 314.6l1.9 3.3h-3.7zM169.2 318l1.9 3.3h-3.7zM169.2 315.2l1.9 3.3h-3.7zM170.1 318.6l1.9 3.3h-3.7zM170.1 315.8l1.9 3.3h-3.7zM170.9 319.2l1.9 3.3h-3.7zM170.9 316.4l1.9 3.3h-3.7zM171.8 319.8l1.9 3.3h-3.7zM171.8 317l1.9 3.3h-3.7zM172.6 320.3l1.9 3.3h-3.7zM172.6 317.5l1.9 3.3h-3.7zM173.5 320.8l1.9 3.3h-3.7zM173.5 318l1.9 3.3h-3.7zM174.3 321.2l1.9 3.3h-3.7zM174.3 318.3l1.9 3.3h-3.7zM175.2 321.5l1.9 3.3h-3.7zM175.2 318.7l1.9 3.3h-3.7zM176 321.9l1.9 3.3h-3.7zM176 320.5l1.9 3.3h-3.7zM176.9 322.2l1.9 3.3h-3.7zM176.9 320.8l1.9 3.3h-3.7zM177.7 322.6l1.9 3.3h-3.7zM177.7 321.2l1.9 3.3h-3.7zM178.6 323l1.9 3.3h-3.7zM178.6 321.6l1.9 3.3h-3.7zM179.4 323.3l1.9 3.3h-3.7zM179.4 321.9l1.9 3.3h-3.7zM180.3 323.7l1.9 3.3h-3.7zM180.3 322.3l1.9 3.3h-3.7zM181.1 323.9l1.9 3.3h-3.7zM181.1 322.5l1.9 3.3h-3.7zM182 324.2l1.9 3.3h-3.7zM182 322.8l1.9 3.3h-3.7zM182.8 324.5l1.9 3.3h-3.7zM182.8 323.1l1.9 3.3h-3.7zM183.7 324.7l1.9 3.3h-3.7zM183.7 323.3l1.9 3.3h-3.7zM184.5 325l1.9 3.3h-3.7zM184.5 323.6l1.9 3.3h-3.7zM185.4 325.2l1.9 3.3h-3.7zM185.4 323.8l1.9 3.3h-3.7zM186.2 320.1l1.9 3.3h-3.7zM187.1 320.4l1.9 3.3h-3.7zM187.9 320.6l1.9 3.3h-3.7zM188.8 320.9l1.9 3.3h-3.7zM189.6 321.2l1.9 3.3h-3.7zM190.5 321.4l1.9 3.3h-3.7zM191.3 321.7l1.9 3.3h-3.7zM191.3 327.1l1.9 3.3h-3.7zM192.2 321.9l1.9 3.3h-3.7zM193 322.2l1.9 3.3h-3.7zM193.9 327.8l1.9 3.3h-3.7zM193.9 326.4l1.9 3.3h-3.7zM194.7 328l1.9 3.3h-3.7zM194.7 326.6l1.9 3.3h-3.7zM195.6 328.3l1.9 3.3h-3.7zM195.6 326.9l1.9 3.3h-3.7zM196.4 328.5l1.9 3.3h-3.7zM196.4 327.1l1.9 3.3h-3.7zM197.3 328.8l1.9 3.3h-3.7zM197.3 327.4l1.9 3.3h-3.7zM198.1 329l1.9 3.3h-3.7zM198.1 327.6l1.9 3.3h-3.7zM199 329.2l1.9 3.3h-3.7zM199 327.8l1.9 3.3h-3.7zM199.8 329.5l1.9 3.3h-3.7zM199.8 328.1l1.9 3.3h-3.7zM200.7 329.7l1.9 3.3h-3.7zM200.7 328.3l1.9 3.3h-3.7zM201.5 330l1.9 3.3h-3.7zM201.5 328.6l1.9 3.3h-3.7zM202.4 330.2l1.9 3.3h-3.7zM202.4 328.8l1.9 3.3h-3.7zM203.2 330.4l1.9 3.3h-3.7zM203.2 329l1.9 3.3h-3.7zM204.1 325.2l1.9 3.3h-3.7zM204.9 325.5l1.9 3.3h-3.7zM205.8 325.7l1.9 3.3h-3.7zM205.8 331.1l1.9 3.3h-3.7zM206.6 325.9l1.9 3.3h-3.7zM207.5 326.1l1.9 3.3h-3.7zM207.5 331.5l1.9 3.3h-3.7zM208.3 326.3l1.9 3.3h-3.7zM209.2 331.9l1.9 3.3h-3.7zM209.2 330.5l1.9 3.3h-3.7zM210 332.1l1.9 3.3h-3.7zM210 330.7l1.9 3.3h-3.7zM210.9 332.3l1.9 3.3h-3.7zM210.9 330.9l1.9 3.3h-3.7zM211.7 332.5l1.9 3.3h-3.7zM211.7 331.1l1.9 3.3h-3.7zM212.6 327.3l1.9 3.3h-3.7zM213.4 327.5l1.9 3.3h-3.7zM213.4 332.9l1.9 3.3h-3.7zM214.3 327.8l1.9 3.3h-3.7zM214.3 333.2l1.9 3.3h-3.7zM215.1 328l1.9 3.3h-3.7zM215.1 333.4l1.9 3.3h-3.7zM216 328.2l1.9 3.3h-3.7zM216.8 328.3l1.9 3.3h-3.7zM217.7 333.8l1.9 3.3h-3.7zM218.5 333.9l1.9 3.3h-3.7zM219.4 334l1.9 3.3h-3.7zM220.2 334.2l1.9 3.3h-3.7zM221.1 334.3l1.9 3.3h-3.7zM221.9 334.4l1.9 3.3h-3.7zM222.8 334.5l1.9 3.3h-3.7zM223.6 329.2l1.9 3.3h-3.7zM223.6 334.6l1.9 3.3h-3.7zM224.5 329.4l1.9 3.3h-3.7zM225.3 329.5l1.9 3.3h-3.7zM225.3 334.9l1.9 3.3h-3.7zM226.2 329.6l1.9 3.3h-3.7zM227 329.7l1.9 3.3h-3.7zM227 335.1l1.9 3.3h-3.7zM227.9 329.8l1.9 3.3h-3.7zM227.9 335.2l1.9 3.3h-3.7zM228.7 335.3l1.9 3.3h-3.7zM229.6 335.5l1.9 3.3h-3.7zM230.4 335.6l1.9 3.3h-3.7zM231.3 335.7l1.9 3.3h-3.7zM232.1 330.4l1.9 3.3h-3.7zM233 330.5l1.9 3.3h-3.7zM233 335.9l1.9 3.3h-3.7zM233.8 330.6l1.9 3.3h-3.7zM233.8 336.1l1.9 3.3h-3.7zM234.7 330.8l1.9 3.3h-3.7zM235.5 330.9l1.9 3.3h-3.7zM236.4 331l1.9 3.3h-3.7zM236.4 336.4l1.9 3.3h-3.7zM237.2 331.1l1.9 3.3h-3.7zM238.1 336.6l1.9 3.3h-3.7zM238.9 336.8l1.9 3.3h-3.7zM239.8 336.9l1.9 3.3h-3.7zM240.6 337l1.9 3.3h-3.7zM241.5 337.1l1.9 3.3h-3.7zM242.3 337.2l1.9 3.3h-3.7zM243.2 331.9l1.9 3.3h-3.7zM244 332l1.9 3.3h-3.7zM244.9 332.1l1.9 3.3h-3.7zM244.9 337.5l1.9 3.3h-3.7zM245.7 332.2l1.9 3.3h-3.7zM246.6 332.3l1.9 3.3h-3.7zM247.4 337.7l1.9 3.3h-3.7zM248.3 337.8l1.9 3.3h-3.7zM249.1 337.9l1.9 3.3h-3.7zM250 338l1.9 3.3h-3.7zM250.8 332.7l1.9 3.3h-3.7zM251.7 332.8l1.9 3.3h-3.7zM252.5 332.9l1.9 3.3h-3.7zM252.5 338.3l1.9 3.3h-3.7zM253.4 333l1.9 3.3h-3.7zM254.2 333.1l1.9 3.3h-3.7zM254.2 338.5l1.9 3.3h-3.7zM255.1 333.1l1.9 3.3h-3.7zM255.1 338.5l1.9 3.3h-3.7zM255.9 333.2l1.9 3.3h-3.7zM255.9 338.6l1.9 3.3h-3.7zM256.8 338.7l1.9 3.3h-3.7zM257.6 338.8l1.9 3.3h-3.7zM258.5 338.9l1.9 3.3h-3.7zM259.3 339l1.9 3.3h-3.7zM260.2 333.7l1.9 3.3h-3.7zM260.2 339.1l1.9 3.3h-3.7zM261 333.8l1.9 3.3h-3.7zM261.9 333.8l1.9 3.3h-3.7zM261.9 339.2l1.9 3.3h-3.7zM262.7 333.9l1.9 3.3h-3.7zM263.6 334l1.9 3.3h-3.7zM263.6 339.4l1.9 3.3h-3.7zM264.4 339.5l1.9 3.3h-3.7zM265.3 339.6l1.9 3.3h-3.7zM266.1 339.7l1.9 3.3h-3.7zM267 339.8l1.9 3.3h-3.7zM267.8 339.9l1.9 3.3h-3.7zM268.7 334.5l1.9 3.3h-3.7zM268.7 340l1.9 3.3h-3.7zM269.5 334.6l1.9 3.3h-3.7zM270.4 334.7l1.9 3.3h-3.7zM271.2 334.8l1.9 3.3h-3.7zM271.2 340.2l1.9 3.3h-3.7zM272.1 334.9l1.9 3.3h-3.7zM272.9 335l1.9 3.3h-3.7zM273.8 335.1l1.9 3.3h-3.7zM273.8 340.5l1.9 3.3h-3.7zM274.6 340.5l1.9 3.3h-3.7zM275.5 340.6l1.9 3.3h-3.7zM276.3 340.7l1.9 3.3h-3.7zM277.2 340.8l1.9 3.3h-3.7zM278 340.9l1.9 3.3h-3.7zM278.9 341l1.9 3.3h-3.7zM279.8 335.7l1.9 3.3h-3.7zM280.6 335.7l1.9 3.3h-3.7zM280.6 341.1l1.9 3.3h-3.7zM281.5 335.8l1.9 3.3h-3.7zM282.3 335.9l1.9 3.3h-3.7zM283.2 336l1.9 3.3h-3.7zM283.2 341.4l1.9 3.3h-3.7zM284 341.5l1.9 3.3h-3.7zM284.9 341.6l1.9 3.3h-3.7zM285.7 341.7l1.9 3.3h-3.7zM286.6 341.7l1.9 3.3h-3.7zM287.4 341.8l1.9 3.3h-3.7zM288.3 341.9l1.9 3.3h-3.7zM289.1 336.6l1.9 3.3h-3.7zM290 336.7l1.9 3.3h-3.7zM290.8 336.8l1.9 3.3h-3.7zM291.7 336.8l1.9 3.3h-3.7zM291.7 342.2l1.9 3.3h-3.7zM292.5 336.9l1.9 3.3h-3.7zM292.5 342.3l1.9 3.3h-3.7zM293.4 337l1.9 3.3h-3.7zM293.4 342.4l1.9 3.3h-3.7zM294.2 337.1l1.9 3.3h-3.7zM295.1 337.1l1.9 3.3h-3.7zM295.1 342.5l1.9 3.3h-3.7zM295.9 337.2l1.9 3.3h-3.7zM296.8 337.3l1.9 3.3h-3.7zM297.6 337.3l1.9 3.3h-3.7zM298.5 337.4l1.9 3.3h-3.7zM298.5 342.8l1.9 3.3h-3.7zM299.3 342.9l1.9 3.3h-3.7zM300.2 343l1.9 3.3h-3.7zM301 343l1.9 3.3h-3.7zM301.9 343.1l1.9 3.3h-3.7zM302.7 343.2l1.9 3.3h-3.7zM303.6 343.2l1.9 3.3h-3.7zM304.4 343.3l1.9 3.3h-3.7zM305.3 343.4l1.9 3.3h-3.7zM306.1 343.4l1.9 3.3h-3.7zM307 343.5l1.9 3.3h-3.7zM307.8 338.2l1.9 3.3h-3.7zM308.7 338.2l1.9 3.3h-3.7zM309.5 338.3l1.9 3.3h-3.7zM310.4 338.4l1.9 3.3h-3.7zM310.4 343.8l1.9 3.3h-3.7zM311.2 338.4l1.9 3.3h-3.7zM312.1 338.5l1.9 3.3h-3.7zM312.9 338.6l1.9 3.3h-3.7zM313.8 338.6l1.9 3.3h-3.7zM313.8 344l1.9 3.3h-3.7zM314.6 344.1l1.9 3.3h-3.7zM315.5 344.2l1.9 3.3h-3.7zM316.3 344.2l1.9 3.3h-3.7zM317.2 344.3l1.9 3.3h-3.7zM318 344.4l1.9 3.3h-3.7zM318.9 344.4l1.9 3.3h-3.7zM319.7 344.5l1.9 3.3h-3.7zM320.6 344.5l1.9 3.3h-3.7zM321.4 344.6l1.9 3.3h-3.7zM322.3 344.6l1.9 3.3h-3.7zM323.1 344.7l1.9 3.3h-3.7zM324 344.7l1.9 3.3h-3.7zM324.8 344.8l1.9 3.3h-3.7zM325.7 344.8l1.9 3.3h-3.7zM326.5 339.4l1.9 3.3h-3.7zM327.4 339.5l1.9 3.3h-3.7zM327.4 344.9l1.9 3.3h-3.7zM328.2 339.5l1.9 3.3h-3.7zM328.2 344.9l1.9 3.3h-3.7zM329.1 339.6l1.9 3.3h-3.7zM329.9 339.6l1.9 3.3h-3.7zM330.8 339.7l1.9 3.3h-3.7zM330.8 345.1l1.9 3.3h-3.7zM331.6 345.1l1.9 3.3h-3.7zM332.5 345.2l1.9 3.3h-3.7zM333.3 345.2l1.9 3.3h-3.7zM334.2 345.3l1.9 3.3h-3.7zM335 345.3l1.9 3.3h-3.7zM335.9 345.4l1.9 3.3h-3.7zM336.7 345.4l1.9 3.3h-3.7zM337.6 345.4l1.9 3.3h-3.7zM338.4 345.5l1.9 3.3h-3.7zM339.3 345.5l1.9 3.3h-3.7zM340.1 345.6l1.9 3.3h-3.7zM341 345.6l1.9 3.3h-3.7zM341.8 345.7l1.9 3.3h-3.7zM342.7 345.7l1.9 3.3h-3.7zM343.5 340.3l1.9 3.3h-3.7zM343.5 345.7l1.9 3.3h-3.7zM344.4 340.4l1.9 3.3h-3.7zM345.2 340.4l1.9 3.3h-3.7zM346.1 340.5l1.9 3.3h-3.7zM346.9 340.5l1.9 3.3h-3.7zM347.8 340.5l1.9 3.3h-3.7zM347.8 345.9l1.9 3.3h-3.7zM348.6 340.6l1.9 3.3h-3.7zM349.5 346l1.9 3.3h-3.7zM350.3 346l1.9 3.3h-3.7zM351.2 346.1l1.9 3.3h-3.7zM352 346.1l1.9 3.3h-3.7zM352.9 346.2l1.9 3.3h-3.7zM353.7 346.2l1.9 3.3h-3.7zM354.6 346.2l1.9 3.3h-3.7zM355.4 346.3l1.9 3.3h-3.7zM356.3 346.3l1.9 3.3h-3.7zM357.1 346.4l1.9 3.3h-3.7zM358 346.4l1.9 3.3h-3.7zM358.8 341l1.9 3.3h-3.7zM359.7 341.1l1.9 3.3h-3.7zM359.7 346.5l1.9 3.3h-3.7zM360.5 341.1l1.9 3.3h-3.7zM361.4 341.1l1.9 3.3h-3.7zM362.2 341.2l1.9 3.3h-3.7zM363.1 341.2l1.9 3.3h-3.7zM363.9 341.3l1.9 3.3h-3.7zM364.8 341.3l1.9 3.3h-3.7zM365.6 341.3l1.9 3.3h-3.7zM366.5 341.4l1.9 3.3h-3.7zM367.3 341.4l1.9 3.3h-3.7zM367.3 346.8l1.9 3.3h-3.7zM368.2 341.4l1.9 3.3h-3.7zM369 346.9l1.9 3.3h-3.7zM369.9 346.9l1.9 3.3h-3.7zM370.7 347l1.9 3.3h-3.7zM371.6 347l1.9 3.3h-3.7zM372.4 347l1.9 3.3h-3.7zM373.3 347.1l1.9 3.3h-3.7zM374.1 341.7l1.9 3.3h-3.7zM374.1 347.1l1.9 3.3h-3.7zM375 341.8l1.9 3.3h-3.7zM375 347.2l1.9 3.3h-3.7zM375.8 341.8l1.9 3.3h-3.7zM375.8 347.2l1.9 3.3h-3.7zM376.7 341.8l1.9 3.3h-3.7zM377.5 341.9l1.9 3.3h-3.7zM378.4 341.9l1.9 3.3h-3.7zM379.2 347.3l1.9 3.3h-3.7zM380.1 347.4l1.9 3.3h-3.7zM380.9 347.4l1.9 3.3h-3.7zM381.8 347.4l1.9 3.3h-3.7zM382.6 342l1.9 3.3h-3.7zM383.5 342.1l1.9 3.3h-3.7zM384.3 342.1l1.9 3.3h-3.7zM385.2 342.1l1.9 3.3h-3.7zM385.2 347.5l1.9 3.3h-3.7zM386 342.1l1.9 3.3h-3.7zM386.9 342.1l1.9 3.3h-3.7zM387.7 342.1l1.9 3.3h-3.7zM388.6 342.2l1.9 3.3h-3.7zM388.6 347.6l1.9 3.3h-3.7zM389.4 347.6l1.9 3.3h-3.7zM390.3 347.6l1.9 3.3h-3.7zM391.1 347.6l1.9 3.3h-3.7zM392 347.6l1.9 3.3h-3.7zM392.8 347.7l1.9 3.3h-3.7zM393.7 347.7l1.9 3.3h-3.7zM394.5 347.7l1.9 3.3h-3.7zM395.4 347.7l1.9 3.3h-3.7zM396.2 347.7l1.9 3.3h-3.7zM397.1 347.7l1.9 3.3h-3.7zM397.9 347.8l1.9 3.3h-3.7zM398.8 347.8l1.9 3.3h-3.7zM399.6 347.8l1.9 3.3h-3.7zM400.5 342.4l1.9 3.3h-3.7zM401.3 342.4l1.9 3.3h-3.7zM402.2 342.4l1.9 3.3h-3.7zM403 342.5l1.9 3.3h-3.7zM403.9 342.5l1.9 3.3h-3.7zM404.7 342.5l1.9 3.3h-3.7zM405.6 342.5l1.9 3.3h-3.7zM406.4 342.5l1.9 3.3h-3.7zM407.3 342.6l1.9 3.3h-3.7zM408.1 342.6l1.9 3.3h-3.7zM408.1 348l1.9 3.3h-3.7zM409 342.6l1.9 3.3h-3.7zM409.8 342.6l1.9 3.3h-3.7zM410.7 348l1.9 3.3h-3.7zM411.5 348l1.9 3.3h-3.7zM412.4 348.1l1.9 3.3h-3.7zM413.2 348.1l1.9 3.3h-3.7zM414.1 348.1l1.9 3.3h-3.7zM414.9 348.1l1.9 3.3h-3.7zM415.8 348.1l1.9 3.3h-3.7zM416.6 348.2l1.9 3.3h-3.7zM417.5 342.8l1.9 3.3h-3.7zM418.3 342.8l1.9 3.3h-3.7zM419.2 342.8l1.9 3.3h-3.7zM420 342.8l1.9 3.3h-3.7zM420.9 342.8l1.9 3.3h-3.7zM421.7 342.8l1.9 3.3h-3.7zM421.7 348.2l1.9 3.3h-3.7zM422.6 342.8l1.9 3.3h-3.7zM422.6 348.2l1.9 3.3h-3.7zM423.4 342.8l1.9 3.3h-3.7zM424.3 342.8l1.9 3.3h-3.7zM425.1 348.2l1.9 3.3h-3.7zM426 348.2l1.9 3.3h-3.7zM426.8 348.2l1.9 3.3h-3.7zM427.7 348.2l1.9 3.3h-3.7zM428.5 348.2l1.9 3.3h-3.7zM429.4 348.2l1.9 3.3h-3.7zM430.2 348.2l1.9 3.3h-3.7zM431.1 348.2l1.9 3.3h-3.7zM431.9 348.2l1.9 3.3h-3.7zM432.8 348.3l1.9 3.3h-3.7zM433.6 348.3l1.9 3.3h-3.7zM434.5 348.3l1.9 3.3h-3.7zM435.3 348.3l1.9 3.3h-3.7zM436.2 342.9l1.9 3.3h-3.7zM436.2 348.3l1.9 3.3h-3.7zM437 342.9l1.9 3.3h-3.7zM437.9 342.9l1.9 3.3h-3.7zM437.9 348.3l1.9 3.3h-3.7zM438.7 342.9l1.9 3.3h-3.7zM439.6 342.9l1.9 3.3h-3.7zM439.6 348.3l1.9 3.3h-3.7zM440.4 342.9l1.9 3.3h-3.7zM441.3 342.9l1.9 3.3h-3.7zM441.3 348.3l1.9 3.3h-3.7zM442.1 342.9l1.9 3.3h-3.7zM443 342.9l1.9 3.3h-3.7zM443.8 342.9l1.9 3.3h-3.7zM443.8 348.3l1.9 3.3h-3.7zM444.7 348.3l1.9 3.3h-3.7zM445.5 348.3l1.9 3.3h-3.7zM446.4 348.3l1.9 3.3h-3.7zM447.2 348.3l1.9 3.3h-3.7zM448.1 348.3l1.9 3.3h-3.7zM448.9 348.3l1.9 3.3h-3.7zM449.8 348.3l1.9 3.3h-3.7zM450.6 348.3l1.9 3.3h-3.7zM451.5 348.3l1.9 3.3h-3.7zM452.3 342.8l1.9 3.3h-3.7zM453.2 343.3l1.9 3.3h-3.7zM454 342.9l1.9 3.3h-3.7zM454.9 342.5l1.9 3.3h-3.7zM455.7 343.1l1.9 3.3h-3.7zM456.6 343.5l1.9 3.3h-3.7zM456.6 348.4l1.9 3.3h-3.7zM457.4 348.4l1.9 3.3h-3.7zM458.3 348.4l1.9 3.3h-3.7zM459.1 348.4l1.9 3.3h-3.7zM460 348.4l1.9 3.3h-3.7zM460.8 342.6l1.9 3.3h-3.7zM461.7 343l1.9 3.3h-3.7zM461.7 348.4l1.9 3.3h-3.7zM462.5 343.2l1.9 3.3h-3.7zM463.4 343.1l1.9 3.3h-3.7zM464.2 348.4l1.9 3.3h-3.7zM465.1 348.4l1.9 3.3h-3.7zM465.9 343.2l1.9 3.3h-3.7zM466.8 343l1.9 3.3h-3.7zM467.6 343.2l1.9 3.3h-3.7zM468.5 343l1.9 3.3h-3.7zM468.5 348.4l1.9 3.3h-3.7zM469.3 348.4l1.9 3.3h-3.7zM470.2 348.4l1.9 3.3h-3.7zM471 348.4l1.9 3.3h-3.7zM471.9 343l1.9 3.3h-3.7zM471.9 348.4l1.9 3.3h-3.7zM472.7 342.7l1.9 3.3h-3.7zM473.6 343.4l1.9 3.3h-3.7zM474.4 343.2l1.9 3.3h-3.7zM475.3 348.4l1.9 3.3h-3.7zM476.1 348.4l1.9 3.3h-3.7zM477 348.4l1.9 3.3h-3.7zM477.8 343.3l1.9 3.3h-3.7zM478.7 343.2l1.9 3.3h-3.7zM479.5 343l1.9 3.3h-3.7zM480.4 342.8l1.9 3.3h-3.7zM481.2 348.3l1.9 3.3h-3.7zM482.1 348.3l1.9 3.3h-3.7zM482.9 343.1l1.9 3.3h-3.7zM483.8 343.1l1.9 3.3h-3.7zM483.8 348.3l1.9 3.3h-3.7zM484.6 342.9l1.9 3.3h-3.7zM485.5 343.1l1.9 3.3h-3.7zM486.3 342.8l1.9 3.3h-3.7zM486.3 348.3l1.9 3.3h-3.7zM487.2 348.3l1.9 3.3h-3.7zM488 348.3l1.9 3.3h-3.7zM488.9 342.5l1.9 3.3h-3.7zM489.7 342.9l1.9 3.3h-3.7zM489.7 348.3l1.9 3.3h-3.7zM490.6 342.6l1.9 3.3h-3.7zM491.4 342.8l1.9 3.3h-3.7zM492.3 348.3l1.9 3.3h-3.7zM493.1 348.3l1.9 3.3h-3.7zM494 342.5l1.9 3.3h-3.7zM494.8 343l1.9 3.3h-3.7zM495.7 343.2l1.9 3.3h-3.7zM495.7 348.3l1.9 3.3h-3.7zM496.5 342.6l1.9 3.3h-3.7zM496.5 348.3l1.9 3.3h-3.7zM497.4 348.3l1.9 3.3h-3.7zM498.2 348.3l1.9 3.3h-3.7zM499.1 343l1.9 3.3h-3.7zM499.1 348.3l1.9 3.3h-3.7zM499.9 342.6l1.9 3.3h-3.7zM500.8 343.3l1.9 3.3h-3.7zM501.6 342.9l1.9 3.3h-3.7zM502.5 348.3l1.9 3.3h-3.7zM503.3 348.3l1.9 3.3h-3.7zM504.2 342.8l1.9 3.3h-3.7zM505 343.3l1.9 3.3h-3.7zM505 348.3l1.9 3.3h-3.7zM505.9 342.6l1.9 3.3h-3.7zM506.7 342.7l1.9 3.3h-3.7zM506.7 348.3l1.9 3.3h-3.7zM507.6 342.7l1.9 3.3h-3.7zM508.4 348.3l1.9 3.3h-3.7zM509.3 348.3l1.9 3.3h-3.7zM510.1 348.3l1.9 3.3h-3.7zM511 348.3l1.9 3.3h-3.7zM511.8 348.3l1.9 3.3h-3.7zM512.7 342.4l1.9 3.3h-3.7zM513.5 343.2l1.9 3.3h-3.7zM513.5 348.3l1.9 3.3h-3.7zM514.4 342.5l1.9 3.3h-3.7zM514.4 348.3l1.9 3.3h-3.7zM515.2 342.8l1.9 3.3h-3.7zM516.1 343.2l1.9 3.3h-3.7zM516.9 348.3l1.9 3.3h-3.7zM517.8 348.3l1.9 3.3h-3.7zM518.6 343.3l1.9 3.3h-3.7zM518.6 348.3l1.9 3.3h-3.7zM519.5 342.8l1.9 3.3h-3.7zM520.3 342.5l1.9 3.3h-3.7zM520.3 348.3l1.9 3.3h-3.7zM521.2 342.9l1.9 3.3h-3.7zM521.2 348.3l1.9 3.3h-3.7zM522 348.3l1.9 3.3h-3.7zM522.9 348.3l1.9 3.3h-3.7zM523.7 342.4l1.9 3.3h-3.7zM524.6 343.3l1.9 3.3h-3.7zM525.4 343.2l1.9 3.3h-3.7zM526.3 342.8l1.9 3.3h-3.7zM527.1 348.3l1.9 3.3h-3.7zM528 348.2l1.9 3.3h-3.7zM528.8 348.2l1.9 3.3h-3.7zM529.7 348.2l1.9 3.3h-3.7zM530.5 348.2l1.9 3.3h-3.7zM531.4 342.6l1.9 3.3h-3.7zM532.2 343.2l1.9 3.3h-3.7zM532.2 348.2l1.9 3.3h-3.7zM533.1 343l1.9 3.3h-3.7zM533.9 343.2l1.9 3.3h-3.7zM534.8 342.7l1.9 3.3h-3.7zM534.8 348.2l1.9 3.3h-3.7zM535.6 348.2l1.9 3.3h-3.7zM536.5 348.2l1.9 3.3h-3.7zM537.3 342.7l1.9 3.3h-3.7zM537.3 348.2l1.9 3.3h-3.7zM538.2 342.4l1.9 3.3h-3.7zM539 343l1.9 3.3h-3.7zM539.9 348.2l1.9 3.3h-3.7zM540.7 343.3l1.9 3.3h-3.7zM540.7 348.2l1.9 3.3h-3.7zM541.6 342.4l1.9 3.3h-3.7zM542.4 343.1l1.9 3.3h-3.7zM542.4 348.2l1.9 3.3h-3.7zM543.3 342.3l1.9 3.3h-3.7zM544.1 348.2l1.9 3.3h-3.7zM545 348.2l1.9 3.3h-3.7zM545.8 343l1.9 3.3h-3.7zM545.8 348.2l1.9 3.3h-3.7zM546.7 343l1.9 3.3h-3.7zM547.5 343l1.9 3.3h-3.7zM548.4 348.2l1.9 3.3h-3.7zM549.2 342.7l1.9 3.3h-3.7zM550.1 342.9l1.9 3.3h-3.7zM550.9 342.8l1.9 3.3h-3.7zM551.8 342.7l1.9 3.3h-3.7zM552.6 342.9l1.9 3.3h-3.7zM552.6 348.2l1.9 3.3h-3.7zM553.5 348.2l1.9 3.3h-3.7zM554.3 348.2l1.9 3.3h-3.7zM555.2 348.2l1.9 3.3h-3.7zM556 342.5l1.9 3.3h-3.7zM556 348.2l1.9 3.3h-3.7zM556.9 342.8l1.9 3.3h-3.7zM557.7 342.7l1.9 3.3h-3.7zM558.6 342.8l1.9 3.3h-3.7zM558.6 348.2l1.9 3.3h-3.7zM559.4 343.1l1.9 3.3h-3.7zM559.4 348.2l1.9 3.3h-3.7zM560.3 348.2l1.9 3.3h-3.7zM561.1 348.2l1.9 3.3h-3.7zM562 342.4l1.9 3.3h-3.7zM562 348.2l1.9 3.3h-3.7zM562.8 343l1.9 3.3h-3.7zM562.8 348.2l1.9 3.3h-3.7zM563.7 343.1l1.9 3.3h-3.7zM563.7 348.2l1.9 3.3h-3.7zM564.5 343l1.9 3.3h-3.7zM565.4 348.2l1.9 3.3h-3.7zM566.2 348.2l1.9 3.3h-3.7zM567.1 342.3l1.9 3.3h-3.7zM567.9 342.6l1.9 3.3h-3.7zM568.8 342.3l1.9 3.3h-3.7zM568.8 348.2l1.9 3.3h-3.7zM569.6 342.6l1.9 3.3h-3.7zM569.6 348.2l1.9 3.3h-3.7zM570.5 348.2l1.9 3.3h-3.7zM571.3 348.2l1.9 3.3h-3.7zM572.2 343.1l1.9 3.3h-3.7zM572.2 348.2l1.9 3.3h-3.7zM573 343.2l1.9 3.3h-3.7zM573 348.2l1.9 3.3h-3.7zM573.9 343.2l1.9 3.3h-3.7zM574.7 342.3l1.9 3.3h-3.7zM575.6 343l1.9 3.3h-3.7zM576.4 348.2l1.9 3.3h-3.7zM577.3 342.5l1.9 3.3h-3.7zM578.1 343.1l1.9 3.3h-3.7zM578.1 348.2l1.9 3.3h-3.7zM579 342.6l1.9 3.3h-3.7zM579.8 342.6l1.9 3.3h-3.7zM580.7 348.2l1.9 3.3h-3.7zM581.5 348.2l1.9 3.3h-3.7zM582.4 342.5l1.9 3.3h-3.7zM583.2 343.2l1.9 3.3h-3.7zM584.1 342.3l1.9 3.3h-3.7zM584.9 342.9l1.9 3.3h-3.7zM584.9 348.2l1.9 3.3h-3.7zM585.8 348.2l1.9 3.3h-3.7zM586.6 348.2l1.9 3.3h-3.7zM587.5 342.3l1.9 3.3h-3.7zM587.5 348.2l1.9 3.3h-3.7zM588.3 343l1.9 3.3h-3.7zM588.3 348.2l1.9 3.3h-3.7zM589.2 342.9l1.9 3.3h-3.7zM589.2 348.2l1.9 3.3h-3.7zM590 343l1.9 3.3h-3.7zM590.9 342.9l1.9 3.3h-3.7zM590.9 348.2l1.9 3.3h-3.7zM591.7 348.1l1.9 3.3h-3.7zM592.6 348.1l1.9 3.3h-3.7zM593.4 348.1l1.9 3.3h-3.7zM594.3 342.7l1.9 3.3h-3.7zM594.3 348.1l1.9 3.3h-3.7zM595.1 342.9l1.9 3.3h-3.7zM595.1 348.1l1.9 3.3h-3.7zM596 342.7l1.9 3.3h-3.7zM596.8 342.6l1.9 3.3h-3.7zM597.7 348.1l1.9 3.3h-3.7zM598.5 348.1l1.9 3.3h-3.7zM599.4 348.1l1.9 3.3h-3.7zM600.2 342.7l1.9 3.3h-3.7zM601.1 342.6l1.9 3.3h-3.7zM601.9 342.3l1.9 3.3h-3.7zM601.9 348.1l1.9 3.3h-3.7zM602.8 342.8l1.9 3.3h-3.7zM603.6 343l1.9 3.3h-3.7zM603.6 348.1l1.9 3.3h-3.7zM604.5 348.1l1.9 3.3h-3.7zM605.3 343.1l1.9 3.3h-3.7zM606.2 342.4l1.9 3.3h-3.7zM606.2 348.1l1.9 3.3h-3.7zM607 343.1l1.9 3.3h-3.7zM607 348.1l1.9 3.3h-3.7zM607.9 348.1l1.9 3.3h-3.7zM608.7 343.1l1.9 3.3h-3.7zM609.6 342.7l1.9 3.3h-3.7zM609.6 348.1l1.9 3.3h-3.7zM610.4 343.2l1.9 3.3h-3.7zM611.3 343.2l1.9 3.3h-3.7zM611.3 348.1l1.9 3.3h-3.7zM612.1 348.1l1.9 3.3h-3.7zM613 348.1l1.9 3.3h-3.7zM613.8 348.1l1.9 3.3h-3.7zM614.7 348.1l1.9 3.3h-3.7zM615.5 342.5l1.9 3.3h-3.7zM616.4 342.3l1.9 3.3h-3.7zM617.2 342.5l1.9 3.3h-3.7zM618.1 342.8l1.9 3.3h-3.7zM618.9 342.6l1.9 3.3h-3.7zM619.8 342.5l1.9 3.3h-3.7zM620.6 342.9l1.9 3.3h-3.7zM621.5 342.8l1.9 3.3h-3.7zM621.5 348.1l1.9 3.3h-3.7zM622.3 343.1l1.9 3.3h-3.7zM622.3 348.1l1.9 3.3h-3.7zM623.2 343l1.9 3.3h-3.7zM624 342.9l1.9 3.3h-3.7zM624 348.1l1.9 3.3h-3.7zM624.9 342.4l1.9 3.3h-3.7zM625.7 343.2l1.9 3.3h-3.7zM625.7 348.1l1.9 3.3h-3.7zM626.6 348.1l1.9 3.3h-3.7zM627.4 348.1l1.9 3.3h-3.7zM628.3 348.1l1.9 3.3h-3.7zM629.1 342.6l1.9 3.3h-3.7zM629.1 348.1l1.9 3.3h-3.7zM630 342.8l1.9 3.3h-3.7zM630.8 342.9l1.9 3.3h-3.7zM630.8 348.1l1.9 3.3h-3.7zM631.7 342.6l1.9 3.3h-3.7zM632.5 342.5l1.9 3.3h-3.7zM632.5 348.1l1.9 3.3h-3.7zM633.4 348.1l1.9 3.3h-3.7zM634.2 348.1l1.9 3.3h-3.7zM635.1 342.8l1.9 3.3h-3.7zM635.9 342.4l1.9 3.3h-3.7zM635.9 348.1l1.9 3.3h-3.7zM636.8 342.9l1.9 3.3h-3.7zM637.6 342.7l1.9 3.3h-3.7zM638.5 342.8l1.9 3.3h-3.7zM639.3 348.1l1.9 3.3h-3.7zM640.2 348.1l1.9 3.3h-3.7zM641 342.2l1.9 3.3h-3.7zM641.9 343.1l1.9 3.3h-3.7zM642.7 342.8l1.9 3.3h-3.7zM642.7 348.1l1.9 3.3h-3.7zM643.6 342.2l1.9 3.3h-3.7zM643.6 348.1l1.9 3.3h-3.7zM644.4 342.6l1.9 3.3h-3.7zM645.3 348.1l1.9 3.3h-3.7zM646.1 348.1l1.9 3.3h-3.7zM647 343l1.9 3.3h-3.7zM647 348.1l1.9 3.3h-3.7zM647.8 343l1.9 3.3h-3.7zM648.7 342.8l1.9 3.3h-3.7zM649.5 342.9l1.9 3.3h-3.7zM650.4 348.1l1.9 3.3h-3.7zM651.2 348.1l1.9 3.3h-3.7zM652.1 342.3l1.9 3.3h-3.7zM652.9 342.6l1.9 3.3h-3.7zM653.8 343l1.9 3.3h-3.7zM654.6 342.7l1.9 3.3h-3.7zM654.6 348.1l1.9 3.3h-3.7zM655.5 343l1.9 3.3h-3.7zM655.5 348.1l1.9 3.3h-3.7zM656.3 342.5l1.9 3.3h-3.7zM657.2 343l1.9 3.3h-3.7zM658 342.9l1.9 3.3h-3.7zM658.9 348.1l1.9 3.3h-3.7zM659.7 342.6l1.9 3.3h-3.7zM660.6 342.8l1.9 3.3h-3.7zM660.6 348.1l1.9 3.3h-3.7zM661.4 342.7l1.9 3.3h-3.7zM662.3 343l1.9 3.3h-3.7zM663.1 342.9l1.9 3.3h-3.7zM663.1 348.1l1.9 3.3h-3.7zM664 342.9l1.9 3.3h-3.7zM664.8 342.7l1.9 3.3h-3.7zM665.7 342.8l1.9 3.3h-3.7zM666.5 348.1l1.9 3.3h-3.7zM667.4 342.2l1.9 3.3h-3.7zM668.2 342.5l1.9 3.3h-3.7zM669.1 342.4l1.9 3.3h-3.7zM669.9 342.6l1.9 3.3h-3.7zM670.8 348.1l1.9 3.3h-3.7zM671.6 348.1l1.9 3.3h-3.7zM672.5 348.1l1.9 3.3h-3.7zM673.3 348.1l1.9 3.3h-3.7zM674.2 342.6l1.9 3.3h-3.7zM675 342.4l1.9 3.3h-3.7zM675 348.1l1.9 3.3h-3.7zM675.9 342.2l1.9 3.3h-3.7zM675.9 348.1l1.9 3.3h-3.7zM676.7 342.4l1.9 3.3h-3.7zM676.7 348.1l1.9 3.3h-3.7zM677.6 342.4l1.9 3.3h-3.7zM678.4 348.1l1.9 3.3h-3.7zM679.3 342.3l1.9 3.3h-3.7zM680.1 342.3l1.9 3.3h-3.7zM681 342.5l1.9 3.3h-3.7zM681 348.1l1.9 3.3h-3.7zM681.8 342.6l1.9 3.3h-3.7zM682.7 348.1l1.9 3.3h-3.7zM683.5 348.1l1.9 3.3h-3.7zM684.4 342.8l1.9 3.3h-3.7zM684.4 348l1.9 3.3h-3.7zM685.2 342.8l1.9 3.3h-3.7zM685.2 348l1.9 3.3h-3.7zM686.1 342.5l1.9 3.3h-3.7zM686.9 342.2l1.9 3.3h-3.7zM687.8 342.8l1.9 3.3h-3.7zM687.8 348l1.9 3.3h-3.7zM688.6 348l1.9 3.3h-3.7zM689.5 342.6l1.9 3.3h-3.7zM690.3 342.8l1.9 3.3h-3.7zM691.2 342.9l1.9 3.3h-3.7zM691.2 348l1.9 3.3h-3.7zM692 342.9l1.9 3.3h-3.7zM692.9 348l1.9 3.3h-3.7zM693.7 348l1.9 3.3h-3.7zM694.6 348l1.9 3.3h-3.7zM695.4 342.9l1.9 3.3h-3.7zM695.4 348l1.9 3.3h-3.7zM696.3 342.6l1.9 3.3h-3.7zM697.1 342.3l1.9 3.3h-3.7zM698 342.7l1.9 3.3h-3.7zM698.8 342.6l1.9 3.3h-3.7zM699.7 342.8l1.9 3.3h-3.7zM699.7 348l1.9 3.3h-3.7zM700.5 342.5l1.9 3.3h-3.7zM701.4 342.9l1.9 3.3h-3.7zM701.4 348l1.9 3.3h-3.7zM702.2 348l1.9 3.3h-3.7zM703.1 342.5l1.9 3.3h-3.7zM703.1 348l1.9 3.3h-3.7zM703.9 342.9l1.9 3.3h-3.7zM704.8 342.5l1.9 3.3h-3.7zM705.6 342.4l1.9 3.3h-3.7zM705.6 348l1.9 3.3h-3.7zM706.5 342.6l1.9 3.3h-3.7zM707.3 348l1.9 3.3h-3.7zM708.2 348l1.9 3.3h-3.7zM709 342.3l1.9 3.3h-3.7zM709.9 342.2l1.9 3.3h-3.7zM709.9 348l1.9 3.3h-3.7zM710.7 342.4l1.9 3.3h-3.7zM711.6 342.6l1.9 3.3h-3.7zM711.6 348l1.9 3.3h-3.7zM712.4 348l1.9 3.3h-3.7zM713.3 348l1.9 3.3h-3.7zM714.1 342.5l1.9 3.3h-3.7zM714.1 348l1.9 3.3h-3.7zM715 342.4l1.9 3.3h-3.7zM715.8 342.3l1.9 3.3h-3.7zM716.7 342.4l1.9 3.3h-3.7zM717.5 342.2l1.9 3.3h-3.7zM718.4 342.1l1.9 3.3h-3.7zM718.4 348l1.9 3.3h-3.7zM719.2 343l1.9 3.3h-3.7zM719.2 348l1.9 3.3h-3.7zM720.1 342.9l1.9 3.3h-3.7zM720.9 342.6l1.9 3.3h-3.7zM721.8 342.4l1.9 3.3h-3.7zM721.8 348l1.9 3.3h-3.7zM722.6 342.7l1.9 3.3h-3.7zM723.5 342.7l1.9 3.3h-3.7zM723.5 348l1.9 3.3h-3.7zM724.3 342.5l1.9 3.3h-3.7zM725.2 342.4l1.9 3.3h-3.7zM726 342.1l1.9 3.3h-3.7zM726.9 343l1.9 3.3h-3.7zM727.7 348l1.9 3.3h-3.7zM728.6 342.8l1.9 3.3h-3.7zM728.6 348l1.9 3.3h-3.7zM729.4 342.6l1.9 3.3h-3.7zM730.3 342.4l1.9 3.3h-3.7zM731.1 342.7l1.9 3.3h-3.7zM731.1 348l1.9 3.3h-3.7zM732 342.6l1.9 3.3h-3.7zM732.8 348l1.9 3.3h-3.7zM733.7 342.5l1.9 3.3h-3.7zM733.7 348l1.9 3.3h-3.7zM734.5 342.8l1.9 3.3h-3.7zM735.4 342.6l1.9 3.3h-3.7zM735.4 348l1.9 3.3h-3.7zM736.2 342.7l1.9 3.3h-3.7zM736.2 348l1.9 3.3h-3.7zM737.1 348l1.9 3.3h-3.7zM737.9 343l1.9 3.3h-3.7zM737.9 348l1.9 3.3h-3.7zM738.8 343l1.9 3.3h-3.7zM739.6 342.1l1.9 3.3h-3.7zM740.5 342.7l1.9 3.3h-3.7zM741.3 348l1.9 3.3h-3.7zM742.2 342.3l1.9 3.3h-3.7zM742.2 348l1.9 3.3h-3.7zM743 342.3l1.9 3.3h-3.7zM743.9 343.1l1.9 3.3h-3.7zM743.9 348l1.9 3.3h-3.7zM744.7 342.6l1.9 3.3h-3.7zM311.2 342.3l1.9 3.3h-3.7zM311 342.9l1.9 3.3h-3.7zM311.4 341.3l1.9 3.3h-3.7zM312.3 341.1l1.9 3.3h-3.7zM310.7 339l1.9 3.3h-3.7zM310.1 339l1.9 3.3h-3.7zM311.7 337.6l1.9 3.3h-3.7zM311.9 337.3l1.9 3.3h-3.7zM311.5 335.6l1.9 3.3h-3.7zM310.8 335.9l1.9 3.3h-3.7zM310.4 334.1l1.9 3.3h-3.7zM311.6 333.7l1.9 3.3h-3.7zM311 331.5l1.9 3.3h-3.7zM311.1 331.4l1.9 3.3h-3.7zM310.2 332.6l1.9 3.3h-3.7zM311 331.4l1.9 3.3h-3.7zM311.8 332l1.9 3.3h-3.7zM308.6 335.7l1.9 3.3h-3.7zM309.8 336l1.9 3.3h-3.7zM310.7 335.9l1.9 3.3h-3.7zM310.9 336.1l1.9 3.3h-3.7zM311.7 336.2l1.9 3.3h-3.7zM312.7 336.6l1.9 3.3h-3.7zM329.7 343l1.9 3.3h-3.7zM329.4 342.3l1.9 3.3h-3.7zM327.5 340.5l1.9 3.3h-3.7zM329 340.7l1.9 3.3h-3.7zM329 339.3l1.9 3.3h-3.7zM327.7 339.6l1.9 3.3h-3.7zM328.1 337.8l1.9 3.3h-3.7zM328 337.7l1.9 3.3h-3.7zM328.8 335.3l1.9 3.3h-3.7zM329.1 335.2l1.9 3.3h-3.7zM328.3 333.4l1.9 3.3h-3.7zM328.3 334.3l1.9 3.3h-3.7zM327.9 333.6l1.9 3.3h-3.7zM328.7 332.4l1.9 3.3h-3.7zM329.5 333l1.9 3.3h-3.7zM326.6 336.5l1.9 3.3h-3.7zM327.2 335.8l1.9 3.3h-3.7zM328 336.2l1.9 3.3h-3.7zM329.1 335.7l1.9 3.3h-3.7zM329.6 336.1l1.9 3.3h-3.7zM330.6 335.9l1.9 3.3h-3.7zM345 343l1.9 3.3h-3.7zM347 343.3l1.9 3.3h-3.7zM345.8 340.4l1.9 3.3h-3.7zM345.2 341l1.9 3.3h-3.7zM347 338.7l1.9 3.3h-3.7zM346.7 339.1l1.9 3.3h-3.7zM346.8 337.7l1.9 3.3h-3.7zM346.7 337.5l1.9 3.3h-3.7zM346.2 335.4l1.9 3.3h-3.7zM345.7 335.4l1.9 3.3h-3.7zM346.1 333.2l1.9 3.3h-3.7zM346.2 333.8l1.9 3.3h-3.7zM345.2 333.6l1.9 3.3h-3.7zM346 332.4l1.9 3.3h-3.7zM346.8 333l1.9 3.3h-3.7zM344 336.2l1.9 3.3h-3.7zM344.7 335.6l1.9 3.3h-3.7zM345.5 336.4l1.9 3.3h-3.7zM346.3 335.8l1.9 3.3h-3.7zM346.8 335.7l1.9 3.3h-3.7zM347.7 336.5l1.9 3.3h-3.7zM420.8 343.1l1.9 3.3h-3.7zM421.8 342.5l1.9 3.3h-3.7zM420.9 340.9l1.9 3.3h-3.7zM421.3 340.8l1.9 3.3h-3.7zM421.5 338.9l1.9 3.3h-3.7zM420.4 339.8l1.9 3.3h-3.7zM420.5 337.6l1.9 3.3h-3.7zM421.1 336.8l1.9 3.3h-3.7zM420.9 335.7l1.9 3.3h-3.7zM421.1 335l1.9 3.3h-3.7zM420.2 336.6l1.9 3.3h-3.7zM421 335.4l1.9 3.3h-3.7zM421.8 336l1.9 3.3h-3.7zM418.7 335.8l1.9 3.3h-3.7zM419.8 336.2l1.9 3.3h-3.7zM420.4 336.5l1.9 3.3h-3.7zM421.2 335.7l1.9 3.3h-3.7zM422 335.6l1.9 3.3h-3.7zM422.7 336.3l1.9 3.3h-3.7zM441.3 342.8l1.9 3.3h-3.7zM438.9 343.3l1.9 3.3h-3.7zM439.3 341l1.9 3.3h-3.7zM438.7 341.2l1.9 3.3h-3.7zM440 339.4l1.9 3.3h-3.7zM440.4 339.1l1.9 3.3h-3.7zM440 337.2l1.9 3.3h-3.7zM440.1 337.5l1.9 3.3h-3.7zM439.7 335.5l1.9 3.3h-3.7zM439.5 336.1l1.9 3.3h-3.7zM439.2 336.6l1.9 3.3h-3.7zM440 335.4l1.9 3.3h-3.7zM440.8 336l1.9 3.3h-3.7zM437.6 335.8l1.9 3.3h-3.7zM438.6 335.9l1.9 3.3h-3.7zM439.6 336.5l1.9 3.3h-3.7zM440.1 336.2l1.9 3.3h-3.7zM440.8 336l1.9 3.3h-3.7zM441.9 335.8l1.9 3.3h-3.7zM455.6 343.2l1.9 3.3h-3.7zM453.3 342.5l1.9 3.3h-3.7zM454.9 341.4l1.9 3.3h-3.7zM455.5 340.7l1.9 3.3h-3.7zM454.8 338.9l1.9 3.3h-3.7zM454.8 339.4l1.9 3.3h-3.7zM454.1 337.6l1.9 3.3h-3.7zM454.7 337.8l1.9 3.3h-3.7zM453.8 337.6l1.9 3.3h-3.7zM454.6 336.4l1.9 3.3h-3.7zM455.4 337l1.9 3.3h-3.7zM452.2 336.5l1.9 3.3h-3.7zM453.3 337l1.9 3.3h-3.7zM454.1 336.9l1.9 3.3h-3.7zM454.6 336.5l1.9 3.3h-3.7zM455.8 336.9l1.9 3.3h-3.7zM456.6 336.1l1.9 3.3h-3.7zM466.7 343l1.9 3.3h-3.7zM466 342.2l1.9 3.3h-3.7zM467.7 340.6l1.9 3.3h-3.7zM466.6 341.4l1.9 3.3h-3.7zM466.9 339.7l1.9 3.3h-3.7zM466.8 339.1l1.9 3.3h-3.7zM466.2 339.2l1.9 3.3h-3.7zM467 338l1.9 3.3h-3.7zM467.8 338.6l1.9 3.3h-3.7zM464.7 338.3l1.9 3.3h-3.7zM465.3 337.8l1.9 3.3h-3.7zM466.4 337.9l1.9 3.3h-3.7zM467.4 338.3l1.9 3.3h-3.7zM468 337.7l1.9 3.3h-3.7zM468.8 337.6l1.9 3.3h-3.7zM474.4 343.2l1.9 3.3h-3.7zM472.3 342.2l1.9 3.3h-3.7zM472.4 340.9l1.9 3.3h-3.7zM472.8 341.6l1.9 3.3h-3.7zM473.3 339.2l1.9 3.3h-3.7zM473.8 338.6l1.9 3.3h-3.7zM472.4 337.3l1.9 3.3h-3.7zM472.8 337.8l1.9 3.3h-3.7zM473.4 336.1l1.9 3.3h-3.7zM473 335.9l1.9 3.3h-3.7zM472.2 336.6l1.9 3.3h-3.7zM473 335.4l1.9 3.3h-3.7zM473.8 336l1.9 3.3h-3.7zM470.6 335.7l1.9 3.3h-3.7zM471.4 335.8l1.9 3.3h-3.7zM472.5 336.3l1.9 3.3h-3.7zM473.1 335.9l1.9 3.3h-3.7zM474 335.7l1.9 3.3h-3.7zM474.6 336.1l1.9 3.3h-3.7zM482.9 343.3l1.9 3.3h-3.7zM483 343.2l1.9 3.3h-3.7zM483.3 341.2l1.9 3.3h-3.7zM484 340.5l1.9 3.3h-3.7zM484.1 339.1l1.9 3.3h-3.7zM484.2 338.9l1.9 3.3h-3.7zM483.9 337.6l1.9 3.3h-3.7zM484 337.6l1.9 3.3h-3.7zM484.4 335.6l1.9 3.3h-3.7zM485.6 336.1l1.9 3.3h-3.7zM484.4 333.6l1.9 3.3h-3.7zM485.3 333.9l1.9 3.3h-3.7zM484.6 332.2l1.9 3.3h-3.7zM484.7 331.9l1.9 3.3h-3.7zM484 331.6l1.9 3.3h-3.7zM484.8 330.4l1.9 3.3h-3.7zM485.6 331l1.9 3.3h-3.7zM482.3 336.4l1.9 3.3h-3.7zM483.5 335.8l1.9 3.3h-3.7zM483.9 336.5l1.9 3.3h-3.7zM485.1 335.6l1.9 3.3h-3.7zM485.8 335.7l1.9 3.3h-3.7zM486.8 336.3l1.9 3.3h-3.7zM496.2 343.1l1.9 3.3h-3.7zM494.5 343.3l1.9 3.3h-3.7zM495.7 340.8l1.9 3.3h-3.7zM494.5 341l1.9 3.3h-3.7zM494.9 339.8l1.9 3.3h-3.7zM495.3 339.7l1.9 3.3h-3.7zM494.2 339.4l1.9 3.3h-3.7zM495 338.2l1.9 3.3h-3.7zM495.8 338.8l1.9 3.3h-3.7zM492.9 338.5l1.9 3.3h-3.7zM493.8 338.1l1.9 3.3h-3.7zM494.7 338.5l1.9 3.3h-3.7zM495.3 338.2l1.9 3.3h-3.7zM495.8 338.5l1.9 3.3h-3.7zM496.5 337.9l1.9 3.3h-3.7zM506.5 342.3l1.9 3.3h-3.7zM505 342.3l1.9 3.3h-3.7zM506.4 340.9l1.9 3.3h-3.7zM504.8 340.6l1.9 3.3h-3.7zM505.5 339l1.9 3.3h-3.7zM506.9 339.8l1.9 3.3h-3.7zM505.9 336.9l1.9 3.3h-3.7zM505.7 337l1.9 3.3h-3.7zM506.3 335.3l1.9 3.3h-3.7zM506.5 335.3l1.9 3.3h-3.7zM505.2 336.6l1.9 3.3h-3.7zM506 335.4l1.9 3.3h-3.7zM506.8 336l1.9 3.3h-3.7zM504 335.8l1.9 3.3h-3.7zM504.4 336.3l1.9 3.3h-3.7zM505.3 335.6l1.9 3.3h-3.7zM506.1 336.5l1.9 3.3h-3.7zM507.2 336.3l1.9 3.3h-3.7zM508 336l1.9 3.3h-3.7zM514.1 342.8l1.9 3.3h-3.7zM514.7 342.6l1.9 3.3h-3.7zM514.6 341.4l1.9 3.3h-3.7zM514.3 341.4l1.9 3.3h-3.7zM514.7 339l1.9 3.3h-3.7zM514.9 339.7l1.9 3.3h-3.7zM514.8 337l1.9 3.3h-3.7zM514.8 337.6l1.9 3.3h-3.7zM513.9 337.6l1.9 3.3h-3.7zM514.7 336.4l1.9 3.3h-3.7zM515.5 337l1.9 3.3h-3.7zM512.4 336.2l1.9 3.3h-3.7zM513.1 336.5l1.9 3.3h-3.7zM513.9 336l1.9 3.3h-3.7zM514.8 336.9l1.9 3.3h-3.7zM515.8 336.8l1.9 3.3h-3.7zM516.6 336.9l1.9 3.3h-3.7zM524.1 342.7l1.9 3.3h-3.7zM524.5 343l1.9 3.3h-3.7zM523.8 341.2l1.9 3.3h-3.7zM526.1 340.4l1.9 3.3h-3.7zM525.8 338.8l1.9 3.3h-3.7zM525.6 339l1.9 3.3h-3.7zM525.1 337.1l1.9 3.3h-3.7zM525.6 337.3l1.9 3.3h-3.7zM525.1 335.3l1.9 3.3h-3.7zM525.3 335.5l1.9 3.3h-3.7zM524.2 336.6l1.9 3.3h-3.7zM525 335.4l1.9 3.3h-3.7zM525.8 336l1.9 3.3h-3.7zM522.9 336.2l1.9 3.3h-3.7zM523.3 336l1.9 3.3h-3.7zM524.4 335.7l1.9 3.3h-3.7zM525.1 335.6l1.9 3.3h-3.7zM526.1 336.3l1.9 3.3h-3.7zM526.7 336.4l1.9 3.3h-3.7zM534.4 343.1l1.9 3.3h-3.7zM534.4 342.2l1.9 3.3h-3.7zM532.6 341.5l1.9 3.3h-3.7zM533.5 340.5l1.9 3.3h-3.7zM532.8 339.4l1.9 3.3h-3.7zM532.5 339.6l1.9 3.3h-3.7zM533.2 337.6l1.9 3.3h-3.7zM533.6 337.5l1.9 3.3h-3.7zM532.6 335.4l1.9 3.3h-3.7zM533.5 336l1.9 3.3h-3.7zM532.2 336.6l1.9 3.3h-3.7zM533 335.4l1.9 3.3h-3.7zM533.8 336l1.9 3.3h-3.7zM530.9 335.8l1.9 3.3h-3.7zM531.6 336l1.9 3.3h-3.7zM532.3 336l1.9 3.3h-3.7zM533.2 336.2l1.9 3.3h-3.7zM533.9 335.7l1.9 3.3h-3.7zM534.9 336.1l1.9 3.3h-3.7zM541.4 342.5l1.9 3.3h-3.7zM544 343.3l1.9 3.3h-3.7zM543.2 340.7l1.9 3.3h-3.7zM543.5 341l1.9 3.3h-3.7zM542.4 338.9l1.9 3.3h-3.7zM542 338.9l1.9 3.3h-3.7zM541.3 337.9l1.9 3.3h-3.7zM541.3 336.8l1.9 3.3h-3.7zM541.9 335.1l1.9 3.3h-3.7zM542.9 335.1l1.9 3.3h-3.7zM542.1 334l1.9 3.3h-3.7zM542.2 333.5l1.9 3.3h-3.7zM542.3 332.5l1.9 3.3h-3.7zM541.4 332.5l1.9 3.3h-3.7zM541.7 330.3l1.9 3.3h-3.7zM541.9 329.9l1.9 3.3h-3.7zM541.2 330.6l1.9 3.3h-3.7zM542 329.4l1.9 3.3h-3.7zM542.8 330l1.9 3.3h-3.7zM539.7 336.2l1.9 3.3h-3.7zM540.7 336.5l1.9 3.3h-3.7zM541.6 336l1.9 3.3h-3.7zM542.1 335.9l1.9 3.3h-3.7zM542.9 335.7l1.9 3.3h-3.7zM543.7 335.6l1.9 3.3h-3.7zM547.6 342.5l1.9 3.3h-3.7zM545.9 342.3l1.9 3.3h-3.7zM547 340.7l1.9 3.3h-3.7zM545.8 340.9l1.9 3.3h-3.7zM545.7 340.8l1.9 3.3h-3.7zM546.5 339.6l1.9 3.3h-3.7zM547.3 340.2l1.9 3.3h-3.7zM544.2 339.8l1.9 3.3h-3.7zM545.3 339.8l1.9 3.3h-3.7zM545.7 339.7l1.9 3.3h-3.7zM546.9 339.6l1.9 3.3h-3.7zM547.3 339.6l1.9 3.3h-3.7zM548 339.8l1.9 3.3h-3.7zM550.1 343.2l1.9 3.3h-3.7zM551.6 342.2l1.9 3.3h-3.7zM551.6 340.9l1.9 3.3h-3.7zM550.6 341.3l1.9 3.3h-3.7zM550.4 339.5l1.9 3.3h-3.7zM551.2 339.5l1.9 3.3h-3.7zM551.5 337.8l1.9 3.3h-3.7zM550.7 337.5l1.9 3.3h-3.7zM550.2 338.6l1.9 3.3h-3.7zM551 337.4l1.9 3.3h-3.7zM551.8 338l1.9 3.3h-3.7zM548.7 337.8l1.9 3.3h-3.7zM549.4 337.5l1.9 3.3h-3.7zM550.7 337.5l1.9 3.3h-3.7zM551.5 337.3l1.9 3.3h-3.7zM552 337.1l1.9 3.3h-3.7zM552.7 337l1.9 3.3h-3.7zM557.7 342.2l1.9 3.3h-3.7zM559.6 342.8l1.9 3.3h-3.7zM556.3 341l1.9 3.3h-3.7zM557.3 340.5l1.9 3.3h-3.7zM557.1 339.7l1.9 3.3h-3.7zM556.7 338.7l1.9 3.3h-3.7zM556.6 336.9l1.9 3.3h-3.7zM557.6 337.3l1.9 3.3h-3.7zM558.5 335.1l1.9 3.3h-3.7zM556.7 335.5l1.9 3.3h-3.7zM557.1 333.2l1.9 3.3h-3.7zM558.5 334.1l1.9 3.3h-3.7zM557.5 331.4l1.9 3.3h-3.7zM558.7 331.7l1.9 3.3h-3.7zM557 330.5l1.9 3.3h-3.7zM558 330.5l1.9 3.3h-3.7zM557.8 329l1.9 3.3h-3.7zM557.7 328.4l1.9 3.3h-3.7zM558.2 326.8l1.9 3.3h-3.7zM558.3 326.9l1.9 3.3h-3.7zM557.3 324.8l1.9 3.3h-3.7zM557.4 324.2l1.9 3.3h-3.7zM558.1 322.4l1.9 3.3h-3.7zM557.5 322.5l1.9 3.3h-3.7zM557 324.2l1.9 3.3h-3.7zM557.8 323l1.9 3.3h-3.7zM558.6 323.6l1.9 3.3h-3.7zM555.5 335.8l1.9 3.3h-3.7zM556.2 335.9l1.9 3.3h-3.7zM557.1 335.9l1.9 3.3h-3.7zM557.7 336.6l1.9 3.3h-3.7zM558.6 336.5l1.9 3.3h-3.7zM559.9 335.9l1.9 3.3h-3.7zM561.8 342.9l1.9 3.3h-3.7zM562.7 343l1.9 3.3h-3.7zM562.7 341.2l1.9 3.3h-3.7zM563.3 340.4l1.9 3.3h-3.7zM562.2 340.8l1.9 3.3h-3.7zM563 339.6l1.9 3.3h-3.7zM563.8 340.2l1.9 3.3h-3.7zM561.5 339.6l1.9 3.3h-3.7zM562.3 339.3l1.9 3.3h-3.7zM563 339.7l1.9 3.3h-3.7zM564.1 340.1l1.9 3.3h-3.7zM569.5 342.7l1.9 3.3h-3.7zM569.4 342.9l1.9 3.3h-3.7zM569.2 341.6l1.9 3.3h-3.7zM568.2 341.4l1.9 3.3h-3.7zM568.2 338.9l1.9 3.3h-3.7zM568.1 338.7l1.9 3.3h-3.7zM568.6 336.9l1.9 3.3h-3.7zM568 337.9l1.9 3.3h-3.7zM567.7 338.6l1.9 3.3h-3.7zM568.5 337.4l1.9 3.3h-3.7zM569.3 338l1.9 3.3h-3.7zM567.4 337.5l1.9 3.3h-3.7zM567.8 337.6l1.9 3.3h-3.7zM568.6 337.7l1.9 3.3h-3.7zM569.5 337.9l1.9 3.3h-3.7zM572.6 342.2l1.9 3.3h-3.7zM575.3 342.8l1.9 3.3h-3.7zM572.5 340.7l1.9 3.3h-3.7zM573.7 340.7l1.9 3.3h-3.7zM575 338.6l1.9 3.3h-3.7zM574.6 339.5l1.9 3.3h-3.7zM573.8 337.1l1.9 3.3h-3.7zM572.6 336.8l1.9 3.3h-3.7zM573 335.2l1.9 3.3h-3.7zM572.2 336.1l1.9 3.3h-3.7zM572.4 334.3l1.9 3.3h-3.7zM572.5 334.3l1.9 3.3h-3.7zM574.1 331.5l1.9 3.3h-3.7zM574.2 331.6l1.9 3.3h-3.7zM574.1 330.6l1.9 3.3h-3.7zM573.4 330.7l1.9 3.3h-3.7zM573.1 328.7l1.9 3.3h-3.7zM573.5 327.9l1.9 3.3h-3.7zM573.4 326.3l1.9 3.3h-3.7zM573.8 326.8l1.9 3.3h-3.7zM573.1 325.1l1.9 3.3h-3.7zM573.3 324.8l1.9 3.3h-3.7zM573.4 322.8l1.9 3.3h-3.7zM573.7 323.4l1.9 3.3h-3.7zM572.8 323.6l1.9 3.3h-3.7zM573.6 322.4l1.9 3.3h-3.7zM574.4 323l1.9 3.3h-3.7zM572.1 336.4l1.9 3.3h-3.7zM573 336.5l1.9 3.3h-3.7zM573.6 336.4l1.9 3.3h-3.7zM574.3 335.7l1.9 3.3h-3.7zM579.1 342.7l1.9 3.3h-3.7zM578.9 342.9l1.9 3.3h-3.7zM578.7 340.8l1.9 3.3h-3.7zM578.8 340.4l1.9 3.3h-3.7zM577.7 340.8l1.9 3.3h-3.7zM578.5 339.6l1.9 3.3h-3.7zM579.3 340.2l1.9 3.3h-3.7zM576.9 339.4l1.9 3.3h-3.7zM577.9 339.2l1.9 3.3h-3.7zM578.9 339.4l1.9 3.3h-3.7zM579.3 340l1.9 3.3h-3.7zM584.8 343.2l1.9 3.3h-3.7zM584 342.5l1.9 3.3h-3.7zM583.4 341.6l1.9 3.3h-3.7zM583.6 340.8l1.9 3.3h-3.7zM584.2 339.1l1.9 3.3h-3.7zM583.3 339.5l1.9 3.3h-3.7zM583 339.6l1.9 3.3h-3.7zM583.8 338.4l1.9 3.3h-3.7zM584.6 339l1.9 3.3h-3.7zM582.3 338.8l1.9 3.3h-3.7zM583.4 338.6l1.9 3.3h-3.7zM584.3 338.6l1.9 3.3h-3.7zM584.6 338.7l1.9 3.3h-3.7zM591.2 342.3l1.9 3.3h-3.7zM588.4 342.6l1.9 3.3h-3.7zM590.3 341l1.9 3.3h-3.7zM588.8 340.6l1.9 3.3h-3.7zM588.2 338.7l1.9 3.3h-3.7zM590.2 339l1.9 3.3h-3.7zM589 337.9l1.9 3.3h-3.7zM589.3 337.4l1.9 3.3h-3.7zM589.6 336l1.9 3.3h-3.7zM589.3 336l1.9 3.3h-3.7zM588.9 333.8l1.9 3.3h-3.7zM589.5 333.7l1.9 3.3h-3.7zM589.4 331.8l1.9 3.3h-3.7zM590 332.1l1.9 3.3h-3.7zM588.7 332.6l1.9 3.3h-3.7zM589.5 331.4l1.9 3.3h-3.7zM590.3 332l1.9 3.3h-3.7zM588.1 336.1l1.9 3.3h-3.7zM588.7 336l1.9 3.3h-3.7zM589.6 336.2l1.9 3.3h-3.7zM590.6 335.9l1.9 3.3h-3.7zM595.7 342.4l1.9 3.3h-3.7zM595.7 342.4l1.9 3.3h-3.7zM595.2 341.1l1.9 3.3h-3.7zM595.8 340.6l1.9 3.3h-3.7zM596 338.9l1.9 3.3h-3.7zM595.1 339.1l1.9 3.3h-3.7zM594.7 339.8l1.9 3.3h-3.7zM595.5 338.6l1.9 3.3h-3.7zM596.3 339.2l1.9 3.3h-3.7zM593.9 338.7l1.9 3.3h-3.7zM594.7 338.8l1.9 3.3h-3.7zM595.5 338.3l1.9 3.3h-3.7zM596.7 339l1.9 3.3h-3.7zM602.8 342.7l1.9 3.3h-3.7zM603.4 342.7l1.9 3.3h-3.7zM602.6 341l1.9 3.3h-3.7zM602.6 341.4l1.9 3.3h-3.7zM601.9 339.5l1.9 3.3h-3.7zM601.8 339.3l1.9 3.3h-3.7zM601.4 337.4l1.9 3.3h-3.7zM601.6 337.4l1.9 3.3h-3.7zM602 335.6l1.9 3.3h-3.7zM602.4 335.5l1.9 3.3h-3.7zM601.2 336.6l1.9 3.3h-3.7zM602 335.4l1.9 3.3h-3.7zM602.8 336l1.9 3.3h-3.7zM600.9 336.1l1.9 3.3h-3.7zM601.3 336.6l1.9 3.3h-3.7zM602 335.9l1.9 3.3h-3.7zM603.1 336.3l1.9 3.3h-3.7zM606.5 342.7l1.9 3.3h-3.7zM606.2 342.8l1.9 3.3h-3.7zM606.4 341.1l1.9 3.3h-3.7zM605.9 340.6l1.9 3.3h-3.7zM605.2 340.8l1.9 3.3h-3.7zM606 339.6l1.9 3.3h-3.7zM606.8 340.2l1.9 3.3h-3.7zM604.3 339.9l1.9 3.3h-3.7zM605.3 340.1l1.9 3.3h-3.7zM606.2 339.6l1.9 3.3h-3.7zM607.2 339.4l1.9 3.3h-3.7zM611.3 342.8l1.9 3.3h-3.7zM610.1 342.3l1.9 3.3h-3.7zM609.7 340.6l1.9 3.3h-3.7zM609.9 340.6l1.9 3.3h-3.7zM610.3 339.2l1.9 3.3h-3.7zM609.6 339.4l1.9 3.3h-3.7zM609.2 339.6l1.9 3.3h-3.7zM610 338.4l1.9 3.3h-3.7zM610.8 339l1.9 3.3h-3.7zM608.5 338.8l1.9 3.3h-3.7zM609.4 338.4l1.9 3.3h-3.7zM609.9 338.4l1.9 3.3h-3.7zM611 338.8l1.9 3.3h-3.7zM618.9 342.2l1.9 3.3h-3.7zM615.3 342.7l1.9 3.3h-3.7zM616.7 340.6l1.9 3.3h-3.7zM616.2 340.5l1.9 3.3h-3.7zM616.1 339.6l1.9 3.3h-3.7zM616.4 339.4l1.9 3.3h-3.7zM617.6 337.5l1.9 3.3h-3.7zM617.1 337l1.9 3.3h-3.7zM616.4 335.6l1.9 3.3h-3.7zM617.2 335.3l1.9 3.3h-3.7zM616.5 333.9l1.9 3.3h-3.7zM617.2 334.2l1.9 3.3h-3.7zM616.2 333.6l1.9 3.3h-3.7zM617 332.4l1.9 3.3h-3.7zM617.8 333l1.9 3.3h-3.7zM615.8 336.4l1.9 3.3h-3.7zM616.3 336.1l1.9 3.3h-3.7zM617.4 335.9l1.9 3.3h-3.7zM618.2 335.8l1.9 3.3h-3.7zM621.1 342.4l1.9 3.3h-3.7zM620.6 342.9l1.9 3.3h-3.7zM620.3 340.5l1.9 3.3h-3.7zM621 341.4l1.9 3.3h-3.7zM619.7 340.8l1.9 3.3h-3.7zM620.5 339.6l1.9 3.3h-3.7zM621.3 340.2l1.9 3.3h-3.7zM619.2 339.9l1.9 3.3h-3.7zM620 339.7l1.9 3.3h-3.7zM620.7 339.3l1.9 3.3h-3.7zM621.3 340l1.9 3.3h-3.7zM625.2 342.9l1.9 3.3h-3.7zM623.1 342.4l1.9 3.3h-3.7zM624.2 341l1.9 3.3h-3.7zM623.3 340.8l1.9 3.3h-3.7zM624.1 339.5l1.9 3.3h-3.7zM624.8 339.2l1.9 3.3h-3.7zM624.1 337.3l1.9 3.3h-3.7zM623.6 337.9l1.9 3.3h-3.7zM623.2 337.6l1.9 3.3h-3.7zM624 336.4l1.9 3.3h-3.7zM624.8 337l1.9 3.3h-3.7zM622.5 336.5l1.9 3.3h-3.7zM623.5 336.2l1.9 3.3h-3.7zM624.2 336.8l1.9 3.3h-3.7zM624.9 336.2l1.9 3.3h-3.7zM629.4 342.5l1.9 3.3h-3.7zM632.8 343.1l1.9 3.3h-3.7zM631.1 340.7l1.9 3.3h-3.7zM628.9 341.5l1.9 3.3h-3.7zM630.6 339.5l1.9 3.3h-3.7zM630.4 339.1l1.9 3.3h-3.7zM631.6 337.7l1.9 3.3h-3.7zM631.8 337.7l1.9 3.3h-3.7zM631.2 335.1l1.9 3.3h-3.7zM629.8 335l1.9 3.3h-3.7zM629.7 334.3l1.9 3.3h-3.7zM631 333.7l1.9 3.3h-3.7zM631.5 331.8l1.9 3.3h-3.7zM630.2 331.9l1.9 3.3h-3.7zM631.5 329.8l1.9 3.3h-3.7zM631.1 330.5l1.9 3.3h-3.7zM630.7 328.3l1.9 3.3h-3.7zM630.3 328.5l1.9 3.3h-3.7zM630.7 326.7l1.9 3.3h-3.7zM631.1 326.9l1.9 3.3h-3.7zM630 326.6l1.9 3.3h-3.7zM630.8 325.4l1.9 3.3h-3.7zM631.6 326l1.9 3.3h-3.7zM629.7 336l1.9 3.3h-3.7zM630.3 335.9l1.9 3.3h-3.7zM630.9 336l1.9 3.3h-3.7zM631.8 335.9l1.9 3.3h-3.7zM638.6 342.6l1.9 3.3h-3.7zM635.9 342.8l1.9 3.3h-3.7zM637.9 341.4l1.9 3.3h-3.7zM636.1 341.5l1.9 3.3h-3.7zM636.9 339.2l1.9 3.3h-3.7zM636.1 339.1l1.9 3.3h-3.7zM637.1 337.2l1.9 3.3h-3.7zM637.1 337.9l1.9 3.3h-3.7zM636.5 335.6l1.9 3.3h-3.7zM636.7 335.8l1.9 3.3h-3.7zM636.2 336.4l1.9 3.3h-3.7zM637 335.2l1.9 3.3h-3.7zM637.8 335.8l1.9 3.3h-3.7zM635.7 336.2l1.9 3.3h-3.7zM636.2 336.5l1.9 3.3h-3.7zM637.4 336l1.9 3.3h-3.7zM637.7 336l1.9 3.3h-3.7zM644.8 342.6l1.9 3.3h-3.7zM642.2 342.9l1.9 3.3h-3.7zM644.6 341.5l1.9 3.3h-3.7zM642.6 341.5l1.9 3.3h-3.7zM643.4 339.2l1.9 3.3h-3.7zM643.2 339.7l1.9 3.3h-3.7zM642.5 337.8l1.9 3.3h-3.7zM644.4 337.4l1.9 3.3h-3.7zM641.8 336l1.9 3.3h-3.7zM642.9 335.8l1.9 3.3h-3.7zM643.3 333.3l1.9 3.3h-3.7zM642.8 333.7l1.9 3.3h-3.7zM642.5 331.5l1.9 3.3h-3.7zM643.2 331.4l1.9 3.3h-3.7zM643 329.7l1.9 3.3h-3.7zM642.4 329.7l1.9 3.3h-3.7zM643.1 328.8l1.9 3.3h-3.7zM643.2 328.6l1.9 3.3h-3.7zM642.3 327.1l1.9 3.3h-3.7zM642.3 326.7l1.9 3.3h-3.7zM643.4 324.7l1.9 3.3h-3.7zM643.2 325.2l1.9 3.3h-3.7zM643.1 323l1.9 3.3h-3.7zM642.6 323l1.9 3.3h-3.7zM642.2 323.6l1.9 3.3h-3.7zM643 322.4l1.9 3.3h-3.7zM643.8 323l1.9 3.3h-3.7zM641.7 335.8l1.9 3.3h-3.7zM642.3 335.6l1.9 3.3h-3.7zM643 336.2l1.9 3.3h-3.7zM643.8 335.7l1.9 3.3h-3.7zM647.9 342.6l1.9 3.3h-3.7zM648 342.7l1.9 3.3h-3.7zM649.8 341l1.9 3.3h-3.7zM648.7 340.9l1.9 3.3h-3.7zM648.4 339.6l1.9 3.3h-3.7zM648.3 338.8l1.9 3.3h-3.7zM648.8 336.9l1.9 3.3h-3.7zM649 337l1.9 3.3h-3.7zM648.4 335l1.9 3.3h-3.7zM648.3 335.8l1.9 3.3h-3.7zM647.7 336.4l1.9 3.3h-3.7zM648.5 335.2l1.9 3.3h-3.7zM649.3 335.8l1.9 3.3h-3.7zM646.9 335.9l1.9 3.3h-3.7zM647.6 335.8l1.9 3.3h-3.7zM648.7 336.5l1.9 3.3h-3.7zM649.4 336l1.9 3.3h-3.7zM653.7 343.4l1.9 3.3h-3.7zM654 342.9l1.9 3.3h-3.7zM654.5 341.5l1.9 3.3h-3.7zM653.9 340.5l1.9 3.3h-3.7zM653.8 339.3l1.9 3.3h-3.7zM652.6 339.6l1.9 3.3h-3.7zM653.5 337.5l1.9 3.3h-3.7zM653.9 337.9l1.9 3.3h-3.7zM653.3 335.2l1.9 3.3h-3.7zM652.7 335.9l1.9 3.3h-3.7zM654.4 334.1l1.9 3.3h-3.7zM653.5 333.6l1.9 3.3h-3.7zM654.5 331.5l1.9 3.3h-3.7zM653.6 332l1.9 3.3h-3.7zM653.7 330.4l1.9 3.3h-3.7zM654 330.7l1.9 3.3h-3.7zM653.9 328.9l1.9 3.3h-3.7zM653.5 328.6l1.9 3.3h-3.7zM654 326.9l1.9 3.3h-3.7zM653.6 326.6l1.9 3.3h-3.7zM652.9 326.6l1.9 3.3h-3.7zM653.7 325.4l1.9 3.3h-3.7zM654.5 326l1.9 3.3h-3.7zM652.4 336.4l1.9 3.3h-3.7zM653.4 335.7l1.9 3.3h-3.7zM653.7 336.1l1.9 3.3h-3.7zM654.9 336.3l1.9 3.3h-3.7zM658.4 342.6l1.9 3.3h-3.7zM657.5 342.4l1.9 3.3h-3.7zM658.3 340.5l1.9 3.3h-3.7zM656.7 341.3l1.9 3.3h-3.7zM657.2 339l1.9 3.3h-3.7zM656.9 338.8l1.9 3.3h-3.7zM656.7 338.8l1.9 3.3h-3.7zM657.5 337.6l1.9 3.3h-3.7zM658.3 338.2l1.9 3.3h-3.7zM655.9 337.9l1.9 3.3h-3.7zM656.9 338l1.9 3.3h-3.7zM657.5 337.5l1.9 3.3h-3.7zM658.5 337.3l1.9 3.3h-3.7zM659.3 342.5l1.9 3.3h-3.7zM661.5 342.5l1.9 3.3h-3.7zM660.3 340.5l1.9 3.3h-3.7zM659.1 341.5l1.9 3.3h-3.7zM661.1 339.5l1.9 3.3h-3.7zM659.2 339.2l1.9 3.3h-3.7zM662.4 337.5l1.9 3.3h-3.7zM660.7 337l1.9 3.3h-3.7zM662.1 335.9l1.9 3.3h-3.7zM661.6 335.4l1.9 3.3h-3.7zM660.4 334.3l1.9 3.3h-3.7zM661.9 334.1l1.9 3.3h-3.7zM660.9 332l1.9 3.3h-3.7zM661.6 331.9l1.9 3.3h-3.7zM661.5 329.6l1.9 3.3h-3.7zM661.3 330.8l1.9 3.3h-3.7zM661.9 328.5l1.9 3.3h-3.7zM660.8 328.6l1.9 3.3h-3.7zM661.6 326.7l1.9 3.3h-3.7zM660.2 326.7l1.9 3.3h-3.7zM660.6 324.9l1.9 3.3h-3.7zM660.3 324.4l1.9 3.3h-3.7zM661.5 322.8l1.9 3.3h-3.7zM660.9 323.4l1.9 3.3h-3.7zM660.7 321l1.9 3.3h-3.7zM660.5 321.3l1.9 3.3h-3.7zM661.4 318.8l1.9 3.3h-3.7zM661.3 319.3l1.9 3.3h-3.7zM660.2 320l1.9 3.3h-3.7zM661 318.8l1.9 3.3h-3.7zM661.8 319.4l1.9 3.3h-3.7zM659.6 335.9l1.9 3.3h-3.7zM660.7 335.8l1.9 3.3h-3.7zM661.4 336.3l1.9 3.3h-3.7zM661.9 336.2l1.9 3.3h-3.7zM666.5 343.1l1.9 3.3h-3.7zM665.4 342.8l1.9 3.3h-3.7zM664.9 340.8l1.9 3.3h-3.7zM665.6 341.3l1.9 3.3h-3.7zM665.1 338.7l1.9 3.3h-3.7zM665.3 338.6l1.9 3.3h-3.7zM664.2 338.8l1.9 3.3h-3.7zM665 337.6l1.9 3.3h-3.7zM665.8 338.2l1.9 3.3h-3.7zM663.5 338l1.9 3.3h-3.7zM664.4 337.7l1.9 3.3h-3.7zM665.5 337.5l1.9 3.3h-3.7zM665.7 337.3l1.9 3.3h-3.7zM668.8 343.1l1.9 3.3h-3.7zM669.6 342.2l1.9 3.3h-3.7zM667.3 340.6l1.9 3.3h-3.7zM669.2 340.6l1.9 3.3h-3.7zM668.6 339.6l1.9 3.3h-3.7zM668.2 339l1.9 3.3h-3.7zM668.7 337.9l1.9 3.3h-3.7zM667.9 337.8l1.9 3.3h-3.7zM668.8 336.1l1.9 3.3h-3.7zM668.1 336.1l1.9 3.3h-3.7zM667.7 336.4l1.9 3.3h-3.7zM668.5 335.2l1.9 3.3h-3.7zM669.3 335.8l1.9 3.3h-3.7zM666.9 335.8l1.9 3.3h-3.7zM668.1 336.4l1.9 3.3h-3.7zM668.5 335.7l1.9 3.3h-3.7zM669.3 336.4l1.9 3.3h-3.7zM674.8 342.9l1.9 3.3h-3.7zM676.4 343.2l1.9 3.3h-3.7zM673.6 340.4l1.9 3.3h-3.7zM673.9 340.6l1.9 3.3h-3.7zM674.4 339.2l1.9 3.3h-3.7zM676 339.3l1.9 3.3h-3.7zM674.9 337.3l1.9 3.3h-3.7zM676 338l1.9 3.3h-3.7zM674.8 335.4l1.9 3.3h-3.7zM675.7 335.4l1.9 3.3h-3.7zM674.9 333.3l1.9 3.3h-3.7zM675.7 334.3l1.9 3.3h-3.7zM675 331.5l1.9 3.3h-3.7zM675.5 332l1.9 3.3h-3.7zM675.3 330.2l1.9 3.3h-3.7zM675.1 329.6l1.9 3.3h-3.7zM675.6 328.2l1.9 3.3h-3.7zM675.2 328.7l1.9 3.3h-3.7zM675.9 326.9l1.9 3.3h-3.7zM675.6 326.7l1.9 3.3h-3.7zM674.7 326.6l1.9 3.3h-3.7zM675.5 325.4l1.9 3.3h-3.7zM676.3 326l1.9 3.3h-3.7zM674 335.6l1.9 3.3h-3.7zM674.7 336.3l1.9 3.3h-3.7zM675.8 336.1l1.9 3.3h-3.7zM676.7 335.7l1.9 3.3h-3.7zM681.6 342.2l1.9 3.3h-3.7zM680.6 342.7l1.9 3.3h-3.7zM680.8 340.8l1.9 3.3h-3.7zM680.4 341.4l1.9 3.3h-3.7zM679.9 339.2l1.9 3.3h-3.7zM679.7 339.7l1.9 3.3h-3.7zM680.6 336.8l1.9 3.3h-3.7zM680.4 337l1.9 3.3h-3.7zM680.6 335.7l1.9 3.3h-3.7zM680.6 335l1.9 3.3h-3.7zM679.7 336.4l1.9 3.3h-3.7zM680.5 335.2l1.9 3.3h-3.7zM681.3 335.8l1.9 3.3h-3.7zM679.1 336.3l1.9 3.3h-3.7zM680.1 336.3l1.9 3.3h-3.7zM680.6 336.6l1.9 3.3h-3.7zM681.3 336.4l1.9 3.3h-3.7zM685 343.3l1.9 3.3h-3.7zM685 343.4l1.9 3.3h-3.7zM684.5 341l1.9 3.3h-3.7zM685.3 340.5l1.9 3.3h-3.7zM685.8 339.6l1.9 3.3h-3.7zM684.6 339.3l1.9 3.3h-3.7zM686.8 337.8l1.9 3.3h-3.7zM687.2 337.4l1.9 3.3h-3.7zM684.8 335.6l1.9 3.3h-3.7zM685.1 335l1.9 3.3h-3.7zM685.3 333.3l1.9 3.3h-3.7zM685.9 333.4l1.9 3.3h-3.7zM686.8 332.1l1.9 3.3h-3.7zM686.7 332.3l1.9 3.3h-3.7zM685.2 329.9l1.9 3.3h-3.7zM685.9 330.6l1.9 3.3h-3.7zM685.8 328.7l1.9 3.3h-3.7zM685.5 327.8l1.9 3.3h-3.7zM686.4 326.3l1.9 3.3h-3.7zM685.4 326.9l1.9 3.3h-3.7zM686.1 324.7l1.9 3.3h-3.7zM685.8 325l1.9 3.3h-3.7zM686.2 323.3l1.9 3.3h-3.7zM685.7 323.4l1.9 3.3h-3.7zM685 323.6l1.9 3.3h-3.7zM685.8 322.4l1.9 3.3h-3.7zM686.6 323l1.9 3.3h-3.7zM684.5 336.4l1.9 3.3h-3.7zM685.5 336.1l1.9 3.3h-3.7zM686 335.8l1.9 3.3h-3.7zM686.5 336.4l1.9 3.3h-3.7zM689.5 342.7l1.9 3.3h-3.7zM690.4 342.2l1.9 3.3h-3.7zM691.4 340.8l1.9 3.3h-3.7zM690.1 341.4l1.9 3.3h-3.7zM691.6 339.1l1.9 3.3h-3.7zM691.5 339.7l1.9 3.3h-3.7zM691.2 337.2l1.9 3.3h-3.7zM691.4 337.2l1.9 3.3h-3.7zM690.7 335.8l1.9 3.3h-3.7zM691 335.1l1.9 3.3h-3.7zM690.2 336.4l1.9 3.3h-3.7zM691 335.2l1.9 3.3h-3.7zM691.8 335.8l1.9 3.3h-3.7zM689.4 335.6l1.9 3.3h-3.7zM690.5 335.8l1.9 3.3h-3.7zM691 335.7l1.9 3.3h-3.7zM692.2 336.1l1.9 3.3h-3.7zM696.5 342.4l1.9 3.3h-3.7zM694.9 342.3l1.9 3.3h-3.7zM696 341.1l1.9 3.3h-3.7zM698.1 341.5l1.9 3.3h-3.7zM696.7 339.1l1.9 3.3h-3.7zM697 339.6l1.9 3.3h-3.7zM697.4 337.3l1.9 3.3h-3.7zM697.4 337.9l1.9 3.3h-3.7zM698 335.3l1.9 3.3h-3.7zM696.9 335.5l1.9 3.3h-3.7zM696.4 333.9l1.9 3.3h-3.7zM696.7 333.5l1.9 3.3h-3.7zM696.1 332.6l1.9 3.3h-3.7zM697.4 331.6l1.9 3.3h-3.7zM696.1 330l1.9 3.3h-3.7zM696.6 330.3l1.9 3.3h-3.7zM697.1 328.3l1.9 3.3h-3.7zM696.5 327.8l1.9 3.3h-3.7zM697 326.9l1.9 3.3h-3.7zM697 327.1l1.9 3.3h-3.7zM696.7 325.2l1.9 3.3h-3.7zM696.4 324.6l1.9 3.3h-3.7zM696 325.6l1.9 3.3h-3.7zM696.8 324.4l1.9 3.3h-3.7zM697.6 325l1.9 3.3h-3.7zM695.2 335.8l1.9 3.3h-3.7zM696.3 336.5l1.9 3.3h-3.7zM697.1 336.5l1.9 3.3h-3.7zM697.9 335.8l1.9 3.3h-3.7zM700.4 343l1.9 3.3h-3.7zM699.8 342.8l1.9 3.3h-3.7zM700.5 341.1l1.9 3.3h-3.7zM701.3 340.5l1.9 3.3h-3.7zM700.5 339.6l1.9 3.3h-3.7zM701.6 339.6l1.9 3.3h-3.7zM700.9 337.8l1.9 3.3h-3.7zM700.7 336.8l1.9 3.3h-3.7zM700 337.8l1.9 3.3h-3.7zM700.8 336.6l1.9 3.3h-3.7zM701.6 337.2l1.9 3.3h-3.7zM699.6 336.5l1.9 3.3h-3.7zM700.3 336.3l1.9 3.3h-3.7zM700.7 336.8l1.9 3.3h-3.7zM701.7 337.1l1.9 3.3h-3.7zM702.6 342.9l1.9 3.3h-3.7zM702.7 342.6l1.9 3.3h-3.7zM703.5 341.3l1.9 3.3h-3.7zM703.2 341.6l1.9 3.3h-3.7zM704.3 339l1.9 3.3h-3.7zM703.5 338.6l1.9 3.3h-3.7zM706.1 336.9l1.9 3.3h-3.7zM704.5 337.6l1.9 3.3h-3.7zM705.3 335.9l1.9 3.3h-3.7zM705.6 335.1l1.9 3.3h-3.7zM704 333.8l1.9 3.3h-3.7zM705.3 333.6l1.9 3.3h-3.7zM703.9 332.5l1.9 3.3h-3.7zM704.4 332.4l1.9 3.3h-3.7zM705.6 330.1l1.9 3.3h-3.7zM705.7 330.5l1.9 3.3h-3.7zM704.6 327.9l1.9 3.3h-3.7zM705 328.3l1.9 3.3h-3.7zM704.4 327l1.9 3.3h-3.7zM705.4 326.9l1.9 3.3h-3.7zM705 324.6l1.9 3.3h-3.7zM704.7 324.6l1.9 3.3h-3.7zM705.2 323.5l1.9 3.3h-3.7zM705 322.8l1.9 3.3h-3.7zM704 324l1.9 3.3h-3.7zM704.8 322.8l1.9 3.3h-3.7zM705.6 323.4l1.9 3.3h-3.7zM703.4 335.8l1.9 3.3h-3.7zM704.5 336.3l1.9 3.3h-3.7zM704.7 335.9l1.9 3.3h-3.7zM706 335.8l1.9 3.3h-3.7zM708.5 342.2l1.9 3.3h-3.7zM710.5 342.5l1.9 3.3h-3.7zM710.7 341.1l1.9 3.3h-3.7zM710 340.8l1.9 3.3h-3.7zM710.8 338.7l1.9 3.3h-3.7zM709.9 339.2l1.9 3.3h-3.7zM709.6 337.1l1.9 3.3h-3.7zM709.9 337.5l1.9 3.3h-3.7zM709.7 335.4l1.9 3.3h-3.7zM710 336l1.9 3.3h-3.7zM709.2 336.4l1.9 3.3h-3.7zM710 335.2l1.9 3.3h-3.7zM710.8 335.8l1.9 3.3h-3.7zM708.5 336l1.9 3.3h-3.7zM709.4 336l1.9 3.3h-3.7zM709.9 335.6l1.9 3.3h-3.7zM711 335.6l1.9 3.3h-3.7zM715.7 342.8l1.9 3.3h-3.7zM717.2 342.5l1.9 3.3h-3.7zM717 341.2l1.9 3.3h-3.7zM713.7 341.1l1.9 3.3h-3.7zM716.3 339.1l1.9 3.3h-3.7zM714.1 338.7l1.9 3.3h-3.7zM716.7 336.9l1.9 3.3h-3.7zM715.9 337.9l1.9 3.3h-3.7zM714 335.5l1.9 3.3h-3.7zM715.2 335.1l1.9 3.3h-3.7zM714.3 333.6l1.9 3.3h-3.7zM715.4 333.2l1.9 3.3h-3.7zM716 332.2l1.9 3.3h-3.7zM716.9 331.8l1.9 3.3h-3.7zM716.7 329.6l1.9 3.3h-3.7zM716.5 330.8l1.9 3.3h-3.7zM715.4 328.1l1.9 3.3h-3.7zM715 328.9l1.9 3.3h-3.7zM716.4 326l1.9 3.3h-3.7zM714.9 327.2l1.9 3.3h-3.7zM716.2 324.8l1.9 3.3h-3.7zM716.1 324.3l1.9 3.3h-3.7zM716.2 323.3l1.9 3.3h-3.7zM716.2 322.6l1.9 3.3h-3.7zM715.7 321.6l1.9 3.3h-3.7zM716 320.8l1.9 3.3h-3.7zM716.1 319.2l1.9 3.3h-3.7zM715.6 319.6l1.9 3.3h-3.7zM715.7 317.6l1.9 3.3h-3.7zM716 317.8l1.9 3.3h-3.7zM714.8 317.6l1.9 3.3h-3.7zM715.6 316.4l1.9 3.3h-3.7zM716.4 317l1.9 3.3h-3.7zM714.3 335.6l1.9 3.3h-3.7zM714.8 335.6l1.9 3.3h-3.7zM715.5 336.1l1.9 3.3h-3.7zM716.7 336.2l1.9 3.3h-3.7zM718.5 342.4l1.9 3.3h-3.7zM718.6 342.7l1.9 3.3h-3.7zM719.3 341.2l1.9 3.3h-3.7zM718.3 340.6l1.9 3.3h-3.7zM719.6 339.4l1.9 3.3h-3.7zM718.6 338.6l1.9 3.3h-3.7zM718.9 337l1.9 3.3h-3.7zM718.8 337.6l1.9 3.3h-3.7zM718.7 335.1l1.9 3.3h-3.7zM719.3 335.7l1.9 3.3h-3.7zM718.2 336.4l1.9 3.3h-3.7zM719 335.2l1.9 3.3h-3.7zM719.8 335.8l1.9 3.3h-3.7zM717.3 336.2l1.9 3.3h-3.7zM718.3 335.7l1.9 3.3h-3.7zM719.2 336.3l1.9 3.3h-3.7zM719.8 336.5l1.9 3.3h-3.7zM722 342.8l1.9 3.3h-3.7zM722.5 343.1l1.9 3.3h-3.7zM723.1 340.5l1.9 3.3h-3.7zM721 340.4l1.9 3.3h-3.7zM723.3 338.6l1.9 3.3h-3.7zM722.3 339.6l1.9 3.3h-3.7zM722.5 336.9l1.9 3.3h-3.7zM721.9 337l1.9 3.3h-3.7zM722.9 335.5l1.9 3.3h-3.7zM722.7 335l1.9 3.3h-3.7zM722.6 333.3l1.9 3.3h-3.7zM723 333.6l1.9 3.3h-3.7zM721.7 333.8l1.9 3.3h-3.7zM722.5 332.6l1.9 3.3h-3.7zM723.3 333.2l1.9 3.3h-3.7zM721.4 336.4l1.9 3.3h-3.7zM721.9 335.8l1.9 3.3h-3.7zM722.5 336.2l1.9 3.3h-3.7zM723.8 336.5l1.9 3.3h-3.7zM727.4 342.7l1.9 3.3h-3.7zM725.6 343.1l1.9 3.3h-3.7zM725.5 340.6l1.9 3.3h-3.7zM726.8 340.7l1.9 3.3h-3.7zM725.7 338.9l1.9 3.3h-3.7zM726.1 339.6l1.9 3.3h-3.7zM725.8 337l1.9 3.3h-3.7zM725.9 337.1l1.9 3.3h-3.7zM725.2 337.8l1.9 3.3h-3.7zM726 336.6l1.9 3.3h-3.7zM726.8 337.2l1.9 3.3h-3.7zM724.9 336.6l1.9 3.3h-3.7zM725.5 336.4l1.9 3.3h-3.7zM726.5 336.6l1.9 3.3h-3.7zM726.8 336.9l1.9 3.3h-3.7zM729.3 342.9l1.9 3.3h-3.7zM728.4 342.3l1.9 3.3h-3.7zM728.4 340.8l1.9 3.3h-3.7zM728.4 340.7l1.9 3.3h-3.7zM731.8 339l1.9 3.3h-3.7zM728.5 339.4l1.9 3.3h-3.7zM731.6 337.7l1.9 3.3h-3.7zM728.5 337.2l1.9 3.3h-3.7zM729.2 335.1l1.9 3.3h-3.7zM730.6 335l1.9 3.3h-3.7zM729.8 333.2l1.9 3.3h-3.7zM729.4 334l1.9 3.3h-3.7zM730 331.5l1.9 3.3h-3.7zM731.1 332.2l1.9 3.3h-3.7zM731 330.6l1.9 3.3h-3.7zM729.6 330.1l1.9 3.3h-3.7zM729 328l1.9 3.3h-3.7zM730.6 328l1.9 3.3h-3.7zM730.5 326.2l1.9 3.3h-3.7zM730.1 326l1.9 3.3h-3.7zM730.5 325l1.9 3.3h-3.7zM729.7 325.3l1.9 3.3h-3.7zM730.5 323.4l1.9 3.3h-3.7zM729.5 322.8l1.9 3.3h-3.7zM730.2 321.2l1.9 3.3h-3.7zM729.8 321.6l1.9 3.3h-3.7zM729.6 319.3l1.9 3.3h-3.7zM730.1 319.5l1.9 3.3h-3.7zM729.6 317.5l1.9 3.3h-3.7zM730.1 317.5l1.9 3.3h-3.7zM729.2 317.6l1.9 3.3h-3.7zM730 316.4l1.9 3.3h-3.7zM730.8 317l1.9 3.3h-3.7zM728.6 336.2l1.9 3.3h-3.7zM729.5 336.2l1.9 3.3h-3.7zM730.3 335.8l1.9 3.3h-3.7zM731.1 336.2l1.9 3.3h-3.7zM735.9 342.4l1.9 3.3h-3.7zM736.1 342.9l1.9 3.3h-3.7zM734.6 340.5l1.9 3.3h-3.7zM734.7 340.8l1.9 3.3h-3.7zM735.3 338.7l1.9 3.3h-3.7zM735.9 338.8l1.9 3.3h-3.7zM735 337.5l1.9 3.3h-3.7zM734.9 337.8l1.9 3.3h-3.7zM735.4 336l1.9 3.3h-3.7zM735.1 336.1l1.9 3.3h-3.7zM735.4 333.8l1.9 3.3h-3.7zM734.8 333.5l1.9 3.3h-3.7zM734.2 334.8l1.9 3.3h-3.7zM735 333.6l1.9 3.3h-3.7zM735.8 334.2l1.9 3.3h-3.7zM733.3 336.3l1.9 3.3h-3.7zM734.1 335.6l1.9 3.3h-3.7zM735.4 335.7l1.9 3.3h-3.7zM736 336.4l1.9 3.3h-3.7zM739.2 342.8l1.9 3.3h-3.7zM740.5 343.3l1.9 3.3h-3.7zM739.9 341.1l1.9 3.3h-3.7zM739.1 341.3l1.9 3.3h-3.7zM738.9 339l1.9 3.3h-3.7zM739.9 339.5l1.9 3.3h-3.7zM739.8 337.5l1.9 3.3h-3.7zM738.9 337.5l1.9 3.3h-3.7zM739 335.9l1.9 3.3h-3.7zM739.2 335.7l1.9 3.3h-3.7zM738.7 336.4l1.9 3.3h-3.7zM739.5 335.2l1.9 3.3h-3.7zM740.3 335.8l1.9 3.3h-3.7zM738.1 335.8l1.9 3.3h-3.7zM739.1 335.8l1.9 3.3h-3.7zM739.6 335.8l1.9 3.3h-3.7zM740.6 335.7l1.9 3.3h-3.7zM742.9 343.3l1.9 3.3h-3.7zM742.4 342.9l1.9 3.3h-3.7zM743 341l1.9 3.3h-3.7zM743.1 341.5l1.9 3.3h-3.7zM744 338.6l1.9 3.3h-3.7zM742.8 337.1l1.9 3.3h-3.7zM742.5 337.1l1.9 3.3h-3.7zM743.7 335.9l1.9 3.3h-3.7zM743 336.1l1.9 3.3h-3.7zM744 333.6l1.9 3.3h-3.7zM743 333.7l1.9 3.3h-3.7zM743.6 331.6l1.9 3.3h-3.7zM743.5 331.9l1.9 3.3h-3.7zM744 330.1l1.9 3.3h-3.7zM744.1 329.8l1.9 3.3h-3.7zM743.3 328.6l1.9 3.3h-3.7zM743.4 328.9l1.9 3.3h-3.7zM744 326.4l1.9 3.3h-3.7zM743.8 326.2l1.9 3.3h-3.7zM744.3 325.2l1.9 3.3h-3.7zM744.1 324.7l1.9 3.3h-3.7zM743.2 325.6l1.9 3.3h-3.7zM744 324.4l1.9 3.3h-3.7zM744.8 325l1.9 3.3h-3.7zM742.5 336.1l1.9 3.3h-3.7zM743.4 336l1.9 3.3h-3.7zM744 335.9l1.9 3.3h-3.7zM745 336.2l1.9 3.3h-3.7zM170.6 319.6l1.9 3.3h-3.7zM171 317.8l1.9 3.3h-3.7zM171.2 316l1.9 3.3h-3.7zM170.3 314.2l1.9 3.3h-3.7zM171 312.4l1.9 3.3h-3.7zM170.9 310.6l1.9 3.3h-3.7zM170.8 308.8l1.9 3.3h-3.7zM170.1 307l1.9 3.3h-3.7zM169.9 305.2l1.9 3.3h-3.7zM170.4 303.4l1.9 3.3h-3.7zM167.2 316.8l1.9 3.3h-3.7zM167.2 320.5l1.9 3.3h-3.7zM167.7 316.8l1.9 3.3h-3.7zM167.7 319.9l1.9 3.3h-3.7zM168.2 315.3l1.9 3.3h-3.7zM168.2 318.3l1.9 3.3h-3.7zM168.7 315.8l1.9 3.3h-3.7zM168.7 317.8l1.9 3.3h-3.7zM169.2 316l1.9 3.3h-3.7zM169.2 317.7l1.9 3.3h-3.7zM169.7 313.5l1.9 3.3h-3.7zM169.7 318.7l1.9 3.3h-3.7zM170.2 313.3l1.9 3.3h-3.7zM170.2 317.5l1.9 3.3h-3.7zM170.7 312.1l1.9 3.3h-3.7zM170.7 317.8l1.9 3.3h-3.7zM171.2 313.7l1.9 3.3h-3.7zM171.2 316.8l1.9 3.3h-3.7zM171.7 314l1.9 3.3h-3.7zM171.7 318.4l1.9 3.3h-3.7zM172.2 316l1.9 3.3h-3.7zM172.2 317.5l1.9 3.3h-3.7zM172.7 315.6l1.9 3.3h-3.7zM172.7 317.8l1.9 3.3h-3.7zM173.2 317l1.9 3.3h-3.7zM173.2 318.5l1.9 3.3h-3.7zM173.7 316l1.9 3.3h-3.7zM173.7 318.7l1.9 3.3h-3.7z" fill="#e69f00" stroke="none" clip-path="url(#cb)"/>
<path d="M309.8 347h0M311.6 342.2h0M330 347h0M328.4 342.2h0M421.8 347h0M441.5 347h0M464.9 347h0M473.3 347h0M472.2 342.2h0M493.8 347h0M525.4 342.2h0M532.5 347h0M533.4 342.2h0M541.5 342.2h0M545 347h0M557.6 342.2h0M558.1 337.4h0M567.3 347h0M574.2 347h0M572.3 342.2h0M580 347h0M582.6 347h0M590.9 347h0M588.8 342.2h0M594.5 347h0M600.8 347h0M617 347h0M622.3 347h0M624 347h0M630.1 342.2h0M630.3 337.4h0M636.1 347h0M635.8 342.2h0M641.8 337.4h0M644.1 332.6h0M647.2 342.2h0M652.7 347h0M654.3 342.2h0M660.8 347h0M661.9 342.2h0M660.4 332.6h0M661.4 327.8h0M669.5 347h0M676.4 337.4h0M679.6 342.2h0M687.5 342.2h0M685.5 337.4h0M684.5 332.6h0M691.4 347h0M691.3 342.2h0M699 347h0M698 342.2h0M696.2 337.4h0M697.1 332.6h0M702.3 347h0M703.3 337.4h0M709.1 347h0M716.6 332.6h0M716.1 327.8h0M717.9 347h0M722.4 342.2h0M728.2 347h0M729.7 347h0M729.1 327.8h0M735.1 347h0M733.7 342.2h0M739.4 347h0M745.4 342.2h0M745.3 337.4h0M743.5 332.6h0M178 357.4h0M178.6 354.2h0M181 358.6h0M181.6 350.5h0M184.5 357.7h0M185.1 352.5h0M187 359.1h0M187.6 353.3h0M189.5 355.6h0M190.1 351.7h0" stroke="#009e73" stroke-width="2.4" stroke-linecap="round" fill="none" opacity="0.55" clip-path="url(#cb)"/>
<path d="M38.5 358.6h0M38.5 357.4h0M39.4 358.6h0M39.4 357.4h0M40.2 349.4h0M40.2 358.6h0M40.2 357.4h0M41.1 349.4h0M41.1 357.2h0M41.1 356h0M41.9 349.4h0M41.9 357.2h0M41.9 356h0M42.8 349.4h0M42.8 357.2h0M42.8 356h0M43.6 349.4h0M43.6 357.2h0M43.6 356h0M44.5 349.4h0M44.5 357.2h0M44.5 356h0M45.3 349.4h0M45.3 357.2h0M45.3 356h0M46.2 357.2h0M46.2 356h0M47 357.2h0M47 356h0M47.9 357.2h0M47.9 356h0M48.7 357.2h0M48.7 356h0M49.6 357.2h0M49.6 356h0M50.4 357.2h0M50.4 356h0M51.3 357.2h0M51.3 356h0M52.1 357.2h0M52.1 356h0M53 357.2h0M53 356h0M53.8 357.2h0M53.8 356h0M54.7 357.2h0M54.7 356h0M55.5 357.2h0M55.5 356h0M56.4 357.2h0M56.4 356h0M57.2 357.2h0M57.2 356h0M58.1 357.2h0M58.1 356h0M58.9 357.2h0M58.9 356h0M59.8 357.2h0M59.8 356h0M60.6 357.2h0M60.6 356h0M61.5 357.2h0M61.5 356h0M62.3 357.2h0M62.3 356h0M63.2 357.2h0M63.2 356h0M64 357.2h0M64 356h0M64.9 357.2h0M64.9 356h0M65.7 357.2h0M65.7 356h0M66.6 357.2h0M66.6 356h0M67.4 357.2h0M67.4 356h0M68.3 357.2h0M68.3 356h0M69.1 357.2h0M69.1 356h0M70 357.2h0M70 356h0M70.8 357.2h0M70.8 356h0M71.6 357.2h0M71.6 356h0M72.5 357.2h0M72.5 356h0M73.3 357.2h0M73.3 356h0M74.2 357.2h0M74.2 356h0M75 357.2h0M75 356h0M75.9 357.2h0M75.9 356h0M76.7 357.2h0M76.7 356h0M77.6 357.2h0M77.6 356h0M78.4 357.2h0M78.4 356h0M79.3 357.2h0M79.3 356h0M80.1 357.2h0M80.1 356h0M81 357.2h0M81 356h0M81.8 357.2h0M81.8 356h0M82.7 357.2h0M82.7 356h0M83.5 357.2h0M83.5 356h0M84.4 357.2h0M84.4 356h0M85 357.2h0M85 356h0M85.8 357.2h0M85.8 356h0M86.7 357.2h0M86.7 356h0M87.5 351.6h0M87.5 350.4h0M88.4 351.6h0M88.4 350.4h0M89.2 351.6h0M89.2 350.4h0M90.1 351.6h0M90.1 350.4h0M90.9 351.6h0M90.9 350.4h0M91.8 351.6h0M91.8 350.4h0M92.6 357.2h0M92.6 356h0M93.5 357.2h0M93.5 356h0M94.3 357.2h0M94.3 356h0M95.2 355.8h0M95.2 354.6h0M96 355.8h0M96 354.6h0M96.9 355.8h0M96.9 354.6h0M97.7 355.8h0M97.7 354.6h0M98.6 357.2h0M98.6 356h0M99.4 357.2h0M99.4 356h0M100.3 357.2h0M100.3 356h0M101.1 354.8h0M101.1 353.6h0M102 354.8h0M102 353.6h0M102.8 354.8h0M102.8 353.6h0M103.7 346.4h0M103.7 345.2h0M104.5 346.4h0M104.5 345.2h0M105.4 346.4h0M105.4 345.2h0M106.2 346.4h0M106.2 345.2h0M107.1 346.4h0M107.1 345.2h0M107.9 351.6h0M107.9 350.4h0M108.8 351.6h0M108.8 350.4h0M109.6 351.6h0M109.6 350.4h0M110.5 351.6h0M110.5 350.4h0M111.3 357.2h0M111.3 356h0M112.2 357.2h0M112.2 356h0M113 357.8h0M113 356.6h0M113.9 357.8h0M113.9 356.6h0M114.7 357.8h0M114.7 356.6h0M115.6 357.8h0M115.6 356.6h0M116.4 357.8h0M116.4 356.6h0M117.3 357.8h0M117.3 356.6h0M118.1 357.2h0M118.1 356h0M119 357.2h0M119 356h0M119.8 357.2h0M119.8 356h0M120.7 357.2h0M120.7 356h0M121.5 355.8h0M121.5 354.6h0M122.4 355.8h0M122.4 354.6h0M123.2 355.8h0M123.2 354.6h0M124.1 357.2h0M124.1 356h0M124.9 357.2h0M124.9 356h0M125.8 357.2h0M125.8 356h0M126.6 362.8h0M126.6 361.6h0M127.5 350.6h0M127.5 349.4h0M128.3 366.2h0M128.3 365h0M129.2 366.2h0M129.2 365h0M130 369.8h0M130 368.6h0M130.9 369.8h0M130.9 368.6h0M131.7 364.8h0M131.7 363.6h0M132.6 359.8h0M132.6 358.6h0M133.4 359.8h0M133.4 358.6h0M134.3 352.8h0M134.3 351.6h0M135.1 352.8h0M135.1 351.6h0M136 352.8h0M136 351.6h0M136.8 352.8h0M136.8 351.6h0M137.7 352.8h0M137.7 351.6h0M138.5 355.8h0M138.5 354.6h0M139.4 355.8h0M139.4 354.6h0M140.2 355.8h0M140.2 354.6h0M141.1 357.2h0M141.1 356h0M141.9 357.2h0M141.9 356h0M142.8 357.2h0M142.8 356h0M143.6 351.6h0M143.6 350.4h0M144.5 351.6h0M144.5 350.4h0M145.3 351.6h0M145.3 350.4h0M146.2 351.6h0M146.2 350.4h0M147 351.6h0M147 350.4h0M147.9 351.6h0M147.9 350.4h0M148.7 351.6h0M148.7 350.4h0M149.6 357.2h0M149.6 356h0M150.4 357.2h0M150.4 356h0M151.3 357.2h0M151.3 356h0M152.1 355.8h0M152.1 354.6h0M153 355.8h0M153 354.6h0M153.8 355.8h0M153.8 354.6h0M154.7 355.8h0M154.7 354.6h0M155.5 355.8h0M155.5 354.6h0M156.4 357.2h0M156.4 356h0M157.2 357.2h0M157.2 356h0M158.1 355.4h0M158.1 354.2h0M158.9 355.4h0M158.9 354.2h0M159.8 355.4h0M159.8 354.2h0M160.6 355.4h0M160.6 354.2h0M161.5 355.4h0M161.5 354.2h0M127.2 360.4h0M128.6 367.8h0M129.3 371h0M131 367h0M132 361.8h0M161.6 356.8h0M162.4 356.8h0M163.3 356.8h0M164.1 356.8h0M165 356.8h0M165.8 356.8h0M166.7 356.8h0M167.5 356.8h0M168.4 356.8h0M169.2 356.8h0M170.1 356.8h0M170.9 356.8h0M171.8 356.8h0M172.6 356.8h0M173.5 356.8h0M174.3 356.8h0M175.2 356.8h0M176 356.8h0M176.9 356.8h0M177.7 356.8h0M178.6 356.8h0M179.4 356.8h0M180.3 356.8h0M181.1 356.8h0M182 356.8h0M182.8 356.8h0M183.7 356.8h0M184.5 356.8h0M185.4 356.8h0M186.2 350.2h0M186.2 356.8h0M187.1 350.2h0M187.9 350.2h0M188.8 350.2h0M189.6 350.2h0M190.5 350.2h0M191.3 350.2h0M192.2 350.2h0M193 350.2h0M193 356.8h0M193.9 356.8h0M194.7 356.8h0M195.6 356.8h0M196.4 356.8h0M197.3 356.8h0M198.1 356.8h0M199 356.8h0M199.8 356.8h0M200.7 356.8h0M201.5 356.8h0M202.4 356.8h0M203.2 356.8h0M204.1 350.2h0M204.1 356.8h0M204.9 350.2h0M205.8 350.2h0M206.6 350.2h0M207.5 350.2h0M208.3 350.2h0M208.3 356.8h0M209.2 356.8h0M210 356.8h0M210.9 356.8h0M211.7 356.8h0M212.6 350.2h0M212.6 356.8h0M213.4 350.2h0M214.3 350.2h0M215.1 350.2h0M216 350.2h0M216.8 350.2h0M216.8 356.8h0M217.7 356.8h0M218.5 356.8h0M219.4 356.8h0M220.2 356.8h0M221.1 356.8h0M221.9 356.8h0M222.8 356.8h0M223.6 350.2h0M223.6 356.8h0M224.5 350.2h0M225.3 350.2h0M226.2 350.2h0M227 350.2h0M227.9 350.2h0M228.7 356.8h0M229.6 356.8h0M230.4 356.8h0M231.3 356.8h0M232.1 350.2h0M232.1 356.8h0M233 350.2h0M233.8 350.2h0M234.7 350.2h0M235.5 350.2h0M236.4 350.2h0M237.2 350.2h0M237.2 356.8h0M238.1 356.8h0M238.9 356.8h0M239.8 356.8h0M240.6 356.8h0M241.5 356.8h0M242.3 356.8h0M243.2 350.2h0M243.2 356.8h0M244 350.2h0M244.9 350.2h0M245.7 350.2h0M246.6 350.2h0M246.6 356.8h0M247.4 356.8h0M248.3 356.8h0M249.1 356.8h0M250 356.8h0M250.8 350.2h0M251.7 350.2h0M252.5 350.2h0M253.4 350.2h0M254.2 350.2h0M255.1 350.2h0M255.9 350.2h0M255.9 356.8h0M256.8 356.8h0M257.6 356.8h0M258.5 356.8h0M259.3 356.8h0M260.2 350.2h0M260.2 356.8h0M261 350.2h0M261.9 350.2h0M262.7 350.2h0M263.6 350.2h0M263.6 356.8h0M264.4 356.8h0M265.3 356.8h0M266.1 356.8h0M267 356.8h0M267.8 356.8h0M268.7 350.2h0M268.7 356.8h0M269.5 350.2h0M270.4 350.2h0M271.2 350.2h0M272.1 350.2h0M272.9 350.2h0M273.8 350.2h0M273.8 356.8h0M274.6 356.8h0M275.5 356.8h0M276.3 356.8h0M277.2 356.8h0M278 356.8h0M278.9 356.8h0M279.8 350.2h0M279.8 356.8h0M280.6 350.2h0M281.5 350.2h0M282.3 350.2h0M283.2 350.2h0M283.2 356.8h0M284 356.8h0M284.9 356.8h0M285.7 356.8h0M286.6 356.8h0M287.4 356.8h0M288.3 356.8h0M289.1 350.2h0M289.1 356.8h0M290 350.2h0M290.8 350.2h0M291.7 350.2h0M292.5 350.2h0M293.4 350.2h0M294.2 350.2h0M295.1 350.2h0M295.9 350.2h0M296.8 350.2h0M297.6 350.2h0M298.5 350.2h0M298.5 356.8h0M299.3 356.8h0M300.2 356.2h0M301 356.2h0M301.9 356.2h0M302.7 356.2h0M303.6 356.2h0M304.4 356.2h0M305.3 356.2h0M306.1 356.2h0M307 356.2h0M307.8 350.2h0M307.8 356.2h0M308.7 350.2h0M309.5 350.2h0M310.4 350.2h0M311.2 350.2h0M312.1 350.2h0M312.9 350.2h0M313.8 350.2h0M313.8 356.2h0M314.6 356.2h0M315.5 356.2h0M316.3 356.2h0M317.2 356.2h0M318 356.2h0M318.9 356.2h0M319.7 356.2h0M320.6 356.2h0M321.4 356.2h0M322.3 356.2h0M323.1 356.2h0M324 356.2h0M324.8 356.2h0M325.7 356.2h0M326.5 350.2h0M327.4 350.2h0M328.2 350.2h0M329.1 350.2h0M329.9 350.2h0M330.8 350.2h0M331.6 356.2h0M332.5 356.2h0M333.3 356.2h0M334.2 356.2h0M335 356.2h0M335.9 356.2h0M336.7 356.2h0M337.6 356.2h0M338.4 356.2h0M339.3 356.2h0M340.1 356.2h0M341 356.2h0M341.8 356.2h0M342.7 356.2h0M343.5 350.2h0M343.5 356.2h0M344.4 350.2h0M345.2 350.2h0M346.1 350.2h0M346.9 350.2h0M347.8 350.2h0M348.6 350.2h0M348.6 356.2h0M349.5 356.2h0M350.3 356.2h0M351.2 356.2h0M352 356.2h0M352.9 356.2h0M353.7 356.2h0M354.6 356.2h0M355.4 356.2h0M356.3 356.2h0M357.1 356.2h0M358 356.2h0M358.8 350.2h0M358.8 356.2h0M359.7 350.2h0M360.5 350.2h0M361.4 350.2h0M362.2 350.2h0M363.1 350.2h0M363.9 350.2h0M364.8 350.2h0M365.6 350.2h0M366.5 350.2h0M367.3 350.2h0M368.2 350.2h0M368.2 356.2h0M369 356.2h0M369.9 356.2h0M370.7 356.2h0M371.6 356.2h0M372.4 356.2h0M373.3 356.2h0M374.1 350.2h0M374.1 356.2h0M375 350.2h0M375.8 350.2h0M376.7 350.2h0M377.5 350.2h0M378.4 350.2h0M378.4 356.2h0M379.2 356.2h0M380.1 356.2h0M380.9 356.2h0M381.8 356.2h0M382.6 350.2h0M382.6 356.2h0M383.5 350.2h0M384.3 350.2h0M385.2 350.2h0M386 350.2h0M386.9 350.2h0M387.7 350.2h0M388.6 350.2h0M388.6 356.2h0M389.4 356.2h0M390.3 356.2h0M391.1 356.2h0M392 351h0M392 356.2h0M392.8 356.2h0M393.7 356.2h0M394.5 356.2h0M395.4 356.2h0M396.2 356.2h0M397.1 356.2h0M397.9 356.2h0M398.8 356.2h0M399.6 356.2h0M400.5 350.2h0M400.5 356.2h0M401.3 350.2h0M402.2 350.2h0M403 350.2h0M403.9 350.2h0M404.7 350.2h0M405.6 350.2h0M406.4 350.2h0M407.3 350.2h0M408.1 350.2h0M409 350.2h0M409.8 350.2h0M409.8 356.2h0M410.7 356.2h0M411.5 356.2h0M412.4 356.2h0M413.2 356.2h0M414.1 356.2h0M414.9 356.2h0M415.8 356.2h0M416.6 356.2h0M417.5 350.2h0M417.5 356.2h0M418.3 350.2h0M419.2 350.2h0M420 350.2h0M420.9 350.2h0M421.7 350.2h0M422.6 350.2h0M423.4 350.2h0M424.3 350.2h0M424.3 356.2h0M425.1 356.2h0M426 356.2h0M426.8 356.2h0M427.7 351.1h0M427.7 356.2h0M428.5 356.2h0M429.4 351.3h0M429.4 356.2h0M430.2 356.2h0M431.1 356.2h0M431.9 356.2h0M432.8 351.1h0M432.8 356.2h0M433.6 356.2h0M434.5 356.2h0M435.3 356.2h0M436.2 350.2h0M437 350.2h0M437.9 350.2h0M438.7 350.2h0M439.6 350.2h0M440.4 350.2h0M441.3 350.2h0M442.1 350.2h0M443 350.2h0M443.8 350.2h0M444.7 356.2h0M445.5 356.2h0M446.4 356.2h0M447.2 356.2h0M448.1 356.2h0M448.9 356.2h0M449.8 356.2h0M450.6 356.2h0M451.5 356.2h0M452.3 350.1h0M452.3 356.2h0M453.2 350.6h0M454 350.2h0M454.9 349.8h0M455.7 350.4h0M456.6 350.7h0M456.6 356.2h0M457.4 356.2h0M458.3 356.2h0M459.1 356.2h0M460 356.2h0M460.8 349.8h0M460.8 356.2h0M461.7 350.3h0M461.7 356.2h0M462.5 350.4h0M462.5 356.2h0M463.4 350.4h0M463.4 356.2h0M464.2 356.2h0M465.1 356.2h0M465.9 350.5h0M465.9 356.2h0M466.8 350.2h0M466.8 356.2h0M467.6 350.4h0M467.6 356.2h0M468.5 350.2h0M468.5 356.2h0M469.3 356.2h0M470.2 356.2h0M471 356.2h0M471.9 350.3h0M472.7 350h0M473.6 350.7h0M474.4 350.5h0M475.3 356.2h0M476.1 356.2h0M477 356.2h0M477.8 350.6h0M477.8 356.2h0M478.7 350.4h0M478.7 356.2h0M479.5 350.3h0M479.5 356.2h0M480.4 350.1h0M480.4 356.2h0M481.2 356.2h0M482.1 356.2h0M482.9 350.4h0M482.9 356.2h0M483.8 350.4h0M484.6 350.2h0M485.5 350.4h0M486.3 350.1h0M486.3 356.2h0M487.2 356.2h0M488 356.2h0M488.9 349.8h0M488.9 356.2h0M489.7 350.2h0M489.7 356.2h0M490.6 350h0M490.6 356.2h0M491.4 350.2h0M491.4 356.2h0M492.3 356.2h0M493.1 356.2h0M494 349.8h0M494 356.2h0M494.8 350.3h0M494.8 356.2h0M495.7 350.5h0M495.7 356.2h0M496.5 349.9h0M496.5 356.2h0M497.4 356.2h0M498.2 356.2h0M499.1 350.3h0M499.1 356.2h0M499.9 350h0M499.9 356.2h0M500.8 350.6h0M500.8 356.2h0M501.6 350.2h0M501.6 356.2h0M502.5 356.2h0M503.3 356.2h0M504.2 350.1h0M504.2 356.2h0M505 350.7h0M505.9 349.9h0M506.7 350.1h0M507.6 350h0M507.6 356.2h0M508.4 356.2h0M509.3 356.2h0M510.1 350.8h0M510.1 356.2h0M511 356.2h0M511.8 356.2h0M512.7 349.8h0M512.7 356.2h0M513.5 350.6h0M514.4 349.8h0M515.2 350.1h0M516.1 350.6h0M516.9 351.3h0M516.9 356.2h0M517.8 356.2h0M518.6 350.7h0M518.6 356.2h0M519.5 350.2h0M519.5 356.2h0M520.3 349.9h0M520.3 356.2h0M521.2 350.3h0M521.2 356.2h0M522 356.2h0M522.9 356.2h0M523.7 349.8h0M524.6 350.7h0M525.4 350.6h0M526.3 350.2h0M527.1 356.2h0M528 356.2h0M528.8 356.2h0M529.7 356.2h0M530.5 356.2h0M531.4 350h0M531.4 356.2h0M532.2 350.6h0M533.1 350.4h0M533.9 350.6h0M534.8 350.1h0M534.8 356.2h0M535.6 356.2h0M536.5 351.3h0M536.5 356.2h0M537.3 350.1h0M537.3 356.2h0M538.2 349.9h0M538.2 356.2h0M539 350.4h0M539 356.2h0M539.9 350.9h0M539.9 356.2h0M540.7 350.7h0M541.6 349.8h0M542.4 350.5h0M543.3 349.8h0M544.1 356.2h0M545 350.9h0M545 356.2h0M545.8 350.4h0M545.8 356.2h0M546.7 350.4h0M546.7 356.2h0M547.5 350.4h0M547.5 356.2h0M548.4 350.8h0M548.4 356.2h0M549.2 350.1h0M549.2 356.2h0M550.1 350.3h0M550.9 350.2h0M551.8 350.2h0M552.6 350.3h0M552.6 356.2h0M553.5 351.3h0M553.5 356.2h0M554.3 350.7h0M554.3 356.2h0M555.2 356.2h0M556 350h0M556 356.2h0M556.9 350.3h0M557.7 350.1h0M558.6 350.3h0M559.4 350.6h0M559.4 356.2h0M560.3 356.2h0M561.1 356.2h0M562 349.9h0M562 356.2h0M562.8 350.5h0M562.8 356.2h0M563.7 350.6h0M563.7 356.2h0M564.5 350.5h0M564.5 356.2h0M565.4 350.7h0M565.4 356.2h0M566.2 356.2h0M567.1 349.8h0M567.9 350.1h0M568.8 349.8h0M569.6 350.1h0M570.5 356.2h0M571.3 356.2h0M572.2 350.6h0M573 350.7h0M573.9 350.7h0M574.7 349.8h0M575.6 350.4h0M575.6 356.2h0M576.4 356.2h0M577.3 350h0M577.3 356.2h0M578.1 350.6h0M578.1 356.2h0M579 350.1h0M579 356.2h0M579.8 350.1h0M579.8 356.2h0M580.7 356.2h0M581.5 351.4h0M581.5 356.2h0M582.4 350h0M582.4 356.2h0M583.2 350.7h0M583.2 356.2h0M584.1 349.7h0M584.1 356.2h0M584.9 350.4h0M584.9 356.2h0M585.8 350.7h0M585.8 356.2h0M586.6 356.2h0M587.5 349.8h0M587.5 356.2h0M588.3 350.5h0M589.2 350.3h0M590 350.5h0M590.9 350.4h0M591.7 350.7h0M591.7 356.2h0M592.6 351h0M592.6 356.2h0M593.4 356.2h0M594.3 350.2h0M594.3 356.2h0M595.1 350.4h0M595.1 356.2h0M596 350.2h0M596 356.2h0M596.8 350.1h0M596.8 356.2h0M597.7 356.2h0M598.5 351h0M598.5 356.2h0M599.4 356.2h0M600.2 350.2h0M600.2 356.2h0M601.1 350.1h0M601.9 349.8h0M602.8 350.3h0M603.6 350.5h0M603.6 356.2h0M604.5 356.2h0M605.3 350.6h0M605.3 356.2h0M606.2 349.9h0M606.2 356.2h0M607 350.6h0M607 356.2h0M607.9 356.2h0M608.7 350.6h0M608.7 356.2h0M609.6 350.2h0M609.6 356.2h0M610.4 350.7h0M610.4 356.2h0M611.3 350.7h0M611.3 356.2h0M612.1 356.2h0M613 356.2h0M613.8 351.1h0M613.8 356.2h0M614.7 356.2h0M615.5 350h0M616.4 349.8h0M617.2 350h0M618.1 350.3h0M618.9 350.1h0M618.9 356.2h0M619.8 350h0M619.8 356.2h0M620.6 350.5h0M620.6 356.2h0M621.5 350.4h0M621.5 356.2h0M622.3 350.7h0M622.3 356.2h0M623.2 350.5h0M624 350.4h0M624.9 350h0M625.7 350.7h0M625.7 356.2h0M626.6 351.1h0M626.6 356.2h0M627.4 356.2h0M628.3 356.2h0M629.1 350.1h0M629.1 356.2h0M630 350.3h0M630.8 350.4h0M631.7 350.1h0M632.5 350h0M632.5 356.2h0M633.4 356.2h0M634.2 350.9h0M634.2 356.2h0M635.1 350.3h0M635.1 356.2h0M635.9 349.9h0M636.8 350.4h0M637.6 350.3h0M638.5 350.3h0M639.3 356.2h0M640.2 356.2h0M641 349.8h0M641 356.2h0M641.9 350.6h0M642.7 350.3h0M643.6 349.8h0M644.4 350.2h0M645.3 356.2h0M646.1 356.2h0M647 350.5h0M647 356.2h0M647.8 350.5h0M648.7 350.4h0M649.5 350.5h0M650.4 356.2h0M651.2 356.2h0M652.1 349.9h0M652.1 356.2h0M652.9 350.1h0M653.8 350.6h0M654.6 350.2h0M655.5 350.6h0M655.5 356.2h0M656.3 350h0M657.2 350.5h0M658 350.4h0M658.9 356.2h0M659.7 350.1h0M660.6 350.4h0M661.4 350.2h0M662.3 350.5h0M663.1 350.4h0M663.1 356.2h0M664 350.4h0M664.8 350.3h0M665.7 350.3h0M666.5 356.2h0M667.4 349.8h0M668.2 350.1h0M669.1 349.9h0M669.9 350.1h0M670.8 356.2h0M671.6 356.2h0M672.5 351.4h0M672.5 356.2h0M673.3 356.2h0M674.2 350.2h0M675 350h0M675.9 349.8h0M676.7 350h0M677.6 350h0M677.6 356.2h0M678.4 356.2h0M679.3 349.8h0M680.1 349.9h0M681 350.1h0M681.8 350.2h0M682.7 350.7h0M682.7 356.2h0M683.5 356.2h0M684.4 350.3h0M685.2 350.3h0M686.1 350.1h0M686.9 349.8h0M687.8 350.3h0M687.8 356.2h0M688.6 356.2h0M689.5 350.2h0M689.5 356.2h0M690.3 350.4h0M691.2 350.5h0M692 350.5h0M692.9 356.2h0M693.7 350.9h0M693.7 356.2h0M694.6 356.2h0M695.4 350.5h0M696.3 350.2h0M697.1 349.9h0M698 350.3h0M698.8 350.2h0M698.8 356.2h0M699.7 350.4h0M700.5 350.1h0M701.4 350.5h0M702.2 351h0M702.2 356.2h0M703.1 350.1h0M703.1 356.2h0M703.9 350.5h0M704.8 350.1h0M705.6 350h0M706.5 350.2h0M706.5 356.2h0M707.3 356.2h0M708.2 356.2h0M709 349.9h0M709.9 349.8h0M710.7 350h0M711.6 350.3h0M711.6 356.2h0M712.4 351.3h0M712.4 356.2h0M713.3 351.3h0M713.3 356.2h0M714.1 350.1h0M715 350h0M715.8 349.9h0M716.7 350h0M717.5 349.8h0M717.5 356.2h0M718.4 349.8h0M719.2 350.6h0M720.1 350.5h0M720.9 350.3h0M720.9 356.2h0M721.8 350h0M722.6 350.3h0M723.5 350.4h0M724.3 350.1h0M724.3 356.2h0M725.2 350h0M726 349.8h0M726.9 350.7h0M727.7 356.2h0M728.6 350.4h0M729.4 350.3h0M730.3 350h0M731.1 350.4h0M732 350.2h0M732 356.2h0M732.8 356.2h0M733.7 350.2h0M734.5 350.4h0M735.4 350.2h0M736.2 350.3h0M737.1 356.2h0M737.9 350.7h0M737.9 356.2h0M738.8 350.6h0M739.6 349.7h0M740.5 350.3h0M741.3 351.1h0M741.3 356.2h0M742.2 349.9h0M742.2 356.2h0M743 350h0M743.9 350.7h0M744.7 350.3h0M308.8 344.8h0M309.6 345h0M310.4 344.1h0M311.2 345.2h0M312 344.2h0M312.8 345.1h0M326.5 344.9h0M327.3 345h0M328.1 344.8h0M328.9 345.1h0M329.7 344.4h0M330.5 344.9h0M343.8 344.8h0M344.6 344.4h0M345.4 345h0M346.2 344.5h0M347 344.2h0M347.8 344.8h0M418.8 344.5h0M419.6 344h0M420.4 345h0M421.2 345.1h0M422 344.4h0M422.8 345h0M437.8 344.8h0M438.6 345h0M439.4 344.7h0M440.2 345h0M441 344.6h0M441.8 344.4h0M452.4 345h0M453.2 344.1h0M454 344.8h0M454.8 344.3h0M455.6 344.3h0M456.4 344.3h0M464.8 344.9h0M465.6 344.2h0M466.4 344.5h0M467.2 345.2h0M468 344.8h0M468.8 345h0M470.8 344.5h0M471.6 344.7h0M472.4 345.1h0M473.2 344.2h0M474 344.4h0M474.8 344.6h0M482.6 344.3h0M483.4 345h0M484.2 345.1h0M485 344.7h0M485.8 344.8h0M486.6 344.3h0M492.8 344.8h0M493.6 344.3h0M494.4 344.7h0M495.2 344h0M496 344.2h0M496.8 344.3h0M503.8 345.1h0M504.6 344.8h0M505.4 344.6h0M506.2 345h0M507 344.3h0M507.8 344.8h0M512.5 344.3h0M513.3 345.2h0M514.1 345.1h0M514.9 344.3h0M515.7 344.4h0M516.5 344.6h0M522.8 345.2h0M523.6 345.1h0M524.4 344.1h0M525.2 345h0M526 344.4h0M526.8 344.4h0M530.8 344.1h0M531.6 344.1h0M532.4 345.1h0M533.2 344.9h0M534 344.2h0M534.8 345h0M539.8 344.3h0M540.6 344.2h0M541.4 344.8h0M542.2 345h0M543 345h0M543.8 344.8h0M544.3 345h0M545.1 344.8h0M545.9 345h0M546.7 344.9h0M547.5 344.4h0M548.3 344.4h0M548.8 344.1h0M549.6 344.4h0M550.4 345h0M551.2 344.6h0M552 344h0M552.8 344.7h0M555.6 344.1h0M556.4 344.8h0M557.2 344.8h0M558 344.5h0M558.8 344.6h0M559.6 344.1h0M561.6 344.1h0M562.4 345h0M563.2 344.6h0M564 344.3h0M567.1 345.2h0M567.9 345.2h0M568.7 344.9h0M569.5 344.9h0M572.2 344.2h0M573 345.2h0M573.8 344.3h0M574.6 344.7h0M577.1 344.6h0M577.9 344.1h0M578.7 344.3h0M579.5 344.5h0M582.4 344.6h0M583.2 345h0M584 344.2h0M584.8 344.4h0M588.1 344.5h0M588.9 345.2h0M589.7 344.5h0M590.5 345.1h0M594.1 345.1h0M594.9 344.5h0M595.7 344.9h0M596.5 344.2h0M600.6 344.4h0M601.4 344.2h0M602.2 345h0M603 345h0M604.6 344.3h0M605.4 344.8h0M606.2 344.7h0M607 344.8h0M608.6 344.5h0M609.4 344.9h0M610.2 344.4h0M611 345.1h0M615.6 345.2h0M616.4 344.6h0M617.2 344.2h0M618 344.2h0M619.1 345.1h0M619.9 344.6h0M620.7 345.1h0M621.5 344.7h0M622.6 344.2h0M623.4 345h0M624.2 344.8h0M625 344.5h0M629.4 344.6h0M630.2 344.6h0M631 344.6h0M631.8 344.1h0M635.6 344.4h0M636.4 344.2h0M637.2 345h0M638 344.4h0M641.6 344.2h0M642.4 345.2h0M643.2 345.2h0M644 345.2h0M647.1 345h0M647.9 344.3h0M648.7 344.1h0M649.5 344.6h0M652.3 345.2h0M653.1 345.1h0M653.9 344.6h0M654.7 344.6h0M656.1 344.2h0M656.9 344.3h0M657.7 344.7h0M658.5 344.6h0M659.6 344.8h0M660.4 345.1h0M661.2 344.8h0M662 345.1h0M663.6 345.2h0M664.4 344.9h0M665.2 344.5h0M666 344.6h0M667.1 345.2h0M667.9 344.1h0M668.7 344.8h0M669.5 344.9h0M674.1 344.6h0M674.9 345.2h0M675.7 344.6h0M676.5 344.9h0M679.1 345.1h0M679.9 344.5h0M680.7 344.9h0M681.5 344.4h0M684.4 344.1h0M685.2 344.3h0M686 344.4h0M686.8 344.1h0M689.6 344.6h0M690.4 345.2h0M691.2 345.2h0M692 344.2h0M695.4 344.2h0M696.2 344.7h0M697 344.8h0M697.8 345h0M699.4 344.4h0M700.2 344.4h0M701 344.3h0M701.8 345h0M703.4 344.9h0M704.2 344.1h0M705 344.9h0M705.8 344.6h0M708.6 344.9h0M709.4 344h0M710.2 345.2h0M711 344.9h0M714.2 344.6h0M715 344.7h0M715.8 344.6h0M716.6 344.4h0M717.6 344.5h0M718.4 344.7h0M719.2 344.3h0M720 344.4h0M721.1 344.5h0M721.9 344.4h0M722.7 345h0M723.5 345.1h0M724.6 344.5h0M725.4 344.6h0M726.2 345h0M727 344.6h0M728.6 344.2h0M729.4 344.5h0M730.2 344.2h0M731 345.2h0M733.6 344.8h0M734.4 344.9h0M735.2 344.3h0M736 344.7h0M738.1 344.3h0M738.9 344.2h0M739.7 344.6h0M740.5 345.2h0M742.6 344.6h0M743.4 345.2h0M744.2 345h0M745 344.4h0M166.5 350.2h0M167.3 348.4h0M168.5 345h0M169.5 343.8h0M170.5 344.2h0M171.5 346.4h0M172.5 349.4h0M173.5 350.2h0M174.5 351h0" stroke="#009e73" stroke-width="3.4" stroke-linecap="round" fill="none" opacity="1.0" clip-path="url(#cb)"/>
<path d="M310.8 349h0M311.3 344.1h0M310.8 339.2h0M311.3 341.2h0M328.3 348.6h0M328.3 344.2h0M328.5 340.2h0M329 342.2h0M345.5 348.2h0M345.7 343.5h0M345.8 340.2h0M346.3 342.2h0M421.1 349.2h0M421.2 344.2h0M420.8 343.2h0M421.3 345.2h0M440.2 348.2h0M440.3 343.9h0M439.8 343.2h0M440.3 345.2h0M453.5 348.4h0M454.4 344.2h0M454.9 346.2h0M467.7 348.8h0M466.8 345.8h0M467.3 347.8h0M472.3 348.5h0M473 343.8h0M472.8 343.2h0M473.3 345.2h0M485.3 348.7h0M484.3 344.1h0M484.7 339.4h0M484.6 338.2h0M485.1 340.2h0M495.6 348.3h0M494.8 346h0M495.3 348h0M505.9 348.6h0M505.7 344.4h0M505.8 343.2h0M506.3 345.2h0M514 348h0M514.5 344.2h0M515 346.2h0M524 349.2h0M524.9 344h0M524.8 343.2h0M525.3 345.2h0M532.1 349h0M533.2 343.8h0M532.8 343.2h0M533.3 345.2h0M541.5 348.3h0M541.5 343.5h0M542.3 338.5h0M541.8 337.2h0M542.3 339.2h0M547.7 348.9h0M546.3 347.4h0M546.8 349.4h0M551.4 349h0M550.8 345.2h0M551.3 347.2h0M558.1 349.1h0M558.1 344.3h0M557.5 338.8h0M557.8 334.1h0M557.6 330.8h0M558.1 332.8h0M564.1 348.4h0M562.8 347.4h0M563.3 349.4h0M568.2 348.8h0M568.3 345.2h0M568.8 347.2h0M573.9 348.3h0M573.9 344.1h0M573.7 338.5h0M573.4 334.3h0M573.4 330.2h0M573.9 332.2h0M579.4 349.1h0M578.3 347.4h0M578.8 349.4h0M584.8 348.5h0M583.6 346.2h0M584.1 348.2h0M588.8 348.6h0M589.7 344.3h0M589.3 339.2h0M589.8 341.2h0M594.5 349h0M595.3 346.4h0M595.8 348.4h0M602.9 348.1h0M601.9 344.2h0M601.8 343.2h0M602.3 345.2h0M606.4 348.1h0M605.8 347.4h0M606.3 349.4h0M611.1 349.2h0M609.8 346.2h0M610.3 348.2h0M617.6 348.7h0M617 343.6h0M616.8 340.2h0M617.3 342.2h0M619.4 348.5h0M620.3 347.4h0M620.8 349.4h0M625.2 348.4h0M623.8 344.2h0M624.3 346.2h0M631.8 349.2h0M630.6 344.1h0M630.4 339.5h0M631.1 334.4h0M630.6 333.2h0M631.1 335.2h0M636.4 348.6h0M636.8 344.2h0M636.8 343h0M637.3 345h0M643.9 348.6h0M642.7 344.1h0M643.3 339.6h0M642.8 334.4h0M642.8 330.2h0M643.3 332.2h0M648.9 348.4h0M648.7 344.3h0M648.3 343h0M648.8 345h0M652.4 349.2h0M654.1 344.3h0M653.9 338.5h0M653.5 334.5h0M653.5 333.2h0M654 335.2h0M656.6 348.1h0M657.3 345.4h0M657.8 347.4h0M661.9 349h0M660.2 344.2h0M660.9 339.4h0M661.3 334.3h0M661 329.9h0M660.8 326.6h0M661.3 328.6h0M663.9 348.2h0M664.8 345.4h0M665.3 347.4h0M668 348.6h0M668.3 343.6h0M668.3 343h0M668.8 345h0M676 348.5h0M676.1 343.9h0M675.1 338.7h0M675.5 333.8h0M675.3 333.2h0M675.8 335.2h0M681.7 348.1h0M680.6 343.3h0M680.3 343h0M680.8 345h0M685.1 348.5h0M686.4 344h0M686.2 339.4h0M686 334.3h0M685.6 330.2h0M686.1 332.2h0M689.9 349.1h0M690.8 343.3h0M690.8 343h0M691.3 345h0M696 348.2h0M696.1 344.3h0M696.8 339.3h0M697.1 334.4h0M696.6 332.2h0M697.1 334.2h0M701.3 348.4h0M700.6 344.4h0M701.1 346.4h0M703.8 348.7h0M704.7 344.4h0M704.9 339h0M704.5 334.4h0M704.6 330.6h0M705.1 332.6h0M709.1 348.7h0M710.1 344.2h0M709.8 343h0M710.3 345h0M716 349h0M715.6 343.4h0M715.6 338.6h0M715.2 334.7h0M715.3 329h0M715.7 324.8h0M715.4 324.2h0M715.9 326.2h0M717.8 348.5h0M719.2 343.4h0M718.8 343h0M719.3 345h0M721.8 348.3h0M722.4 343.5h0M722.3 340.4h0M722.8 342.4h0M726.5 348.5h0M725.8 344.4h0M726.3 346.4h0M730.4 349.2h0M730.9 344h0M729.8 339.4h0M729.8 334.4h0M730.1 329.3h0M729.8 325.1h0M729.8 324.2h0M730.3 326.2h0M735.2 349.2h0M735.1 344.1h0M734.8 341.4h0M735.3 343.4h0M740.4 348.7h0M739.7 344.2h0M739.3 343h0M739.8 345h0M742.8 349.1h0M744.1 343.5h0M743.6 339.2h0M744 333.8h0M743.8 332.2h0M744.3 334.2h0" stroke="#009e73" stroke-width="2.9" stroke-linecap="round" fill="none" opacity="1.0" clip-path="url(#cb)"/>
<path d="M161.6 419.5h0M161.6 413.5h0M161.6 401.5h0M161.6 394.5h0M161.6 383.4h0M161.6 377.4h0M161.6 371.4h0M161.6 367.4h0M161.6 363.4h0M161.6 359.4h0M169.8 379.4h0M170.2 373.4h0M170.8 367.4h0M171.4 362.4h0" stroke="#9400d3" stroke-width="2.6" stroke-linecap="round" fill="none" opacity="0.5" clip-path="url(#cb)"/>
<path d="M38.5 390.9h0M39.4 390.9h0M40.2 390.9h0M41.1 390.9h0M41.9 390.9h0M42.8 390.9h0M43.6 390.9h0M44.5 390.9h0M45.3 390.9h0M46.2 390.9h0M47 390.9h0M47.9 390.9h0M48.7 390.9h0M49.6 390.9h0M50.4 390.9h0M51.3 390.9h0M52.1 390.9h0M53 390.9h0M53.8 390.9h0M54.7 390.9h0M55.5 390.9h0M56.4 390.9h0M57.2 390.9h0M58.1 390.9h0M58.9 390.9h0M59.8 390.9h0M60.6 390.9h0M61.5 390.9h0M62.3 390.9h0M63.2 390.9h0M64 390.9h0M64.9 390.9h0M65.7 390.9h0M66.6 390.9h0M67.4 390.9h0M68.3 390.9h0M69.1 390.9h0M70 390.9h0M70.8 390.9h0M71.6 390.9h0M72.5 390.9h0M73.3 390.9h0M74.2 390.9h0M75 390.9h0M75.9 390.9h0M76.7 390.9h0M77.6 390.9h0M78.4 390.9h0M79.3 390.9h0M80.1 390.9h0M81 390.9h0M81.8 390.9h0M82.7 390.9h0M83.5 390.9h0M84.4 390.9h0M84 384.4h0M84.4 382.8h0M85 425.5h0M85.8 425.5h0M86.7 425.5h0M87.5 425.5h0M88.4 425.5h0M89.2 430.5h0M90.1 430.5h0M90.9 430.5h0M91.8 430.5h0M92.6 430.5h0M93.5 430.5h0M94.3 426.5h0M95.2 426.5h0M96 426.5h0M96.9 426.5h0M97.7 426.5h0M98.6 426.5h0M99.4 425.9h0M100.3 425.9h0M101.1 425.9h0M102 425.9h0M102.8 425.9h0M103.7 430.5h0M104.5 430.5h0M105.4 430.5h0M106.2 435.9h0M107.1 435.9h0M107.9 435.9h0M108.8 430.5h0M109.6 430.5h0M110.5 425.9h0M111.3 425.9h0M112.2 425.9h0M113 425.9h0M113.9 425.9h0M114.7 424.7h0M115.6 424.7h0M116.4 424.7h0M117.3 424.7h0M118.1 424.7h0M119 424.7h0M119.8 424.7h0M120.7 425.5h0M121.5 425.5h0M122.4 425.5h0M123.2 425.5h0M124.1 429.5h0M124.9 429.5h0M125.8 429.5h0M126.6 419.5h0M127.5 419.5h0M128.3 417.5h0M129.2 417.5h0M130 411.1h0M130.9 411.1h0M131.7 413.1h0M132.6 419.5h0M133.4 419.5h0M134.3 424.5h0M135.1 424.5h0M136 430.5h0M136.8 430.5h0M137.7 430.5h0M138.5 430.5h0M139.4 425.5h0M140.2 425.5h0M141.1 425.5h0M141.9 425.5h0M142.8 423.5h0M143.6 423.5h0M144.5 423.5h0M145.3 426.5h0M146.2 426.5h0M147 426.5h0M147.9 426.5h0M148.7 426.5h0M149.6 430.5h0M150.4 430.5h0M151.3 430.5h0M152.1 425.9h0M153 425.9h0M153.8 425.9h0M154.7 425.9h0M155.5 425.9h0M156.4 424.7h0M157.2 424.7h0M158.1 424.7h0M158.9 424.7h0M159.8 424.7h0M160.6 424.7h0M161.5 424.7h0M130.5 409.5h0M131.2 415.1h0M128.6 420.5h0M133.2 422.5h0M136.5 427.5h0M150.5 432.5h0" stroke="#9400d3" stroke-width="4.0" stroke-linecap="round" fill="none" opacity="1.0" clip-path="url(#cb)"/>
<path d="M161.4 346.4h0M161.4 347.4h0M162.2 349.7h0M162.2 350.7h0M163.1 352.1h0M163.1 353.1h0M163.9 354.5h0M163.9 355.5h0M164.8 355.8h0M164.8 356.8h0M165.6 357.1h0M165.6 358.1h0M166.5 358.3h0M166.5 359.3h0M167.3 359.3h0M167.3 360.3h0M168.2 359.9h0M168.2 360.9h0M169 360.5h0M169 361.5h0M169.9 361.1h0M169.9 362.1h0M170.7 361.7h0M170.7 362.7h0M171.6 362.4h0M171.6 363.4h0M172.4 362.8h0M172.4 363.8h0M173.3 363.1h0M173.3 364.1h0M174.1 363.4h0M174.1 364.4h0M175 363.7h0M175 364.7h0M175.8 364h0M175.8 365h0M176.7 364.3h0M176.7 365.3h0M177.5 364.6h0M177.5 365.6h0M178.4 364.9h0M178.4 365.9h0M179.2 365.2h0M179.2 366.2h0M180.1 365.5h0M180.1 366.5h0M180.9 365.6h0M180.9 366.6h0M181.8 365.8h0M181.8 366.8h0M182.6 366h0M182.6 367h0M183.5 366.2h0M183.5 367.2h0M184.3 366.4h0M184.3 367.4h0M185.2 366.6h0M185.2 367.6h0M186 366.8h0M186 367.8h0M186.9 367h0M186.9 368h0M187.7 367.1h0M187.7 368.1h0M188.6 367.3h0M188.6 368.3h0M189.4 367.5h0M189.4 368.5h0M190.3 367.7h0M190.3 368.7h0M191.1 367.9h0M191.1 368.9h0M192 368h0M192 369h0M192.8 368.2h0M192.8 369.2h0M193.7 368.4h0M193.7 369.4h0M194.5 368.6h0M194.5 369.6h0M195.4 368.7h0M195.4 369.7h0M196.2 368.9h0M196.2 369.9h0M197.1 369.1h0M197.1 370.1h0M197.9 369.2h0M197.9 370.2h0M198.8 369.4h0M198.8 370.4h0M199.6 369.6h0M199.6 370.6h0M200.5 369.7h0M200.5 370.7h0M201.3 369.8h0M201.3 370.8h0M202.2 369.9h0M202.2 370.9h0M203 370h0M203 371h0M203.9 370.1h0M203.9 371.1h0M204.7 370.3h0M204.7 371.3h0M205.6 370.4h0M205.6 371.4h0M206.4 370.5h0M206.4 371.5h0M207.3 370.6h0M207.3 371.6h0M208.1 370.7h0M208.1 371.7h0M209 370.8h0M209 371.8h0M209.8 370.9h0M209.8 371.9h0M210.7 371h0M210.7 372h0M211.5 371.1h0M211.5 372.1h0M212.4 371.3h0M212.4 372.3h0M213.2 371.4h0M213.2 372.4h0M214.1 371.5h0M214.1 372.5h0M214.9 371.6h0M214.9 372.6h0M215.8 372.7h0M216.6 372.7h0M217.5 372.7h0M218.3 372.7h0M219.2 372.7h0M220 372.7h0M220.9 372.7h0M221.7 372.7h0M222.6 372.7h0M223.4 372.7h0M224.3 372.7h0M225.1 372.7h0M226 372.7h0M226.8 374.1h0M227.7 374.1h0M228.5 374.1h0M229.4 374.1h0M230.2 374.1h0M231.1 374.1h0M231.9 374.1h0M232.8 374.1h0M233.6 374.1h0M234.5 374.1h0M235.3 374.1h0M236.2 374.1h0M237 374.1h0M237.9 374.1h0M238.7 375.5h0M239.6 375.5h0M240.4 375.5h0M241.3 375.5h0M242.1 375.5h0M243 375.5h0M243.8 375.5h0M244.7 375.5h0M245.5 375.5h0M246.4 375.5h0M247.2 375.5h0M248.1 376.9h0M248.9 376.9h0M249.8 376.9h0M250.6 376.9h0M251.5 376.9h0M252.3 376.9h0M253.2 376.9h0M254 376.9h0M254.9 376.9h0M255.7 376.9h0M256.6 376.9h0M257.4 376.9h0M258.3 378.3h0M259.1 378.3h0M260 378.3h0M260.8 378.3h0M261.7 378.3h0M262.5 378.3h0M263.4 378.3h0M264.2 378.3h0M265.1 378.3h0M265.9 378.3h0M266.8 378.3h0M267.6 378.3h0M268.5 378.3h0M269.3 378.3h0M270.2 378.3h0M271 379.7h0M271.9 379.7h0M272.7 379.7h0M273.6 379.7h0M274.4 379.7h0M275.3 379.7h0M276.1 379.7h0M277 379.7h0M277.8 379.7h0M278.7 379.7h0M279.6 379.7h0M280.4 379.7h0M281.3 379.7h0M282.1 379.7h0M283 379.7h0M283.8 379.7h0M284.7 379.7h0M285.5 381.1h0M286.4 381.1h0M287.2 381.1h0M288.1 381.1h0M288.9 381.1h0M289.8 381.1h0M290.6 381.1h0M291.5 381.1h0M292.3 381.1h0M293.2 381.1h0M294 381.1h0M294.9 381.1h0M295.7 381.1h0M296.6 381.1h0M297.4 381.1h0M298.3 381.1h0M299.1 381.1h0M300 381.1h0M300.8 381.1h0M301.7 382.5h0M302.5 382.5h0M303.4 382.5h0M304.2 382.5h0M305.1 382.5h0M305.9 382.5h0M306.8 382.5h0M307.6 382.5h0M308.5 382.5h0M309.3 382.5h0M310.2 382.5h0M311 382.5h0M311.9 382.5h0M312.7 382.5h0M313.6 382.5h0M314.4 382.5h0M315.3 382.5h0M316.1 382.5h0M317 382.5h0M317.8 382.5h0M318.7 382.5h0M319.5 382.5h0M320.4 382.5h0M321.2 383.9h0M322.1 383.9h0M322.9 383.9h0M323.8 383.9h0M324.6 383.9h0M325.5 383.9h0M326.3 383.9h0M327.2 383.9h0M328 383.9h0M328.9 383.9h0M329.7 383.9h0M330.6 383.9h0M331.4 383.9h0M332.3 383.9h0M333.1 383.9h0M334 383.9h0M334.8 383.9h0M335.7 383.9h0M336.5 383.9h0M337.4 383.9h0M338.2 383.9h0M339.1 383.9h0M339.9 383.9h0M340.8 383.9h0M341.6 385.3h0M342.5 385.3h0M343.3 385.3h0M344.2 385.3h0M345 385.3h0M345.9 385.3h0M346.7 385.3h0M347.6 385.3h0M348.4 385.3h0M349.3 385.3h0M350.1 385.3h0M351 385.3h0M351.8 385.3h0M352.7 385.3h0M353.5 385.3h0M354.4 385.3h0M355.2 385.3h0M356.1 385.3h0M356.9 385.3h0M357.8 385.3h0M358.6 385.3h0M359.5 385.3h0M360.3 385.3h0M361.2 385.3h0M362 385.3h0M362.9 386.7h0M363.7 386.7h0M364.6 386.7h0M365.4 386.7h0M366.3 386.7h0M367.1 386.7h0M368 386.7h0M368.8 386.7h0M369.7 386.7h0M370.5 386.7h0M371.4 386.7h0M372.2 386.7h0M373.1 386.7h0M373.9 386.7h0M374.8 386.7h0M375.6 386.7h0M376.5 386.7h0M377.3 386.7h0M378.2 386.7h0M379 386.7h0M379.9 386.7h0M380.7 386.7h0M381.6 386.7h0M382.4 386.7h0M383.3 386.7h0M384.1 386.7h0M385 386.7h0M385.8 386.7h0M386.7 388.1h0M387.5 388.1h0M388.4 388.1h0M389.2 388.1h0M390.1 388.1h0M390.9 388.1h0M391.8 388.1h0M392.6 388.1h0M393.5 388.1h0M394.3 388.1h0M395.2 387.9h0M396 387.9h0M396.9 387.9h0M397.7 387.9h0M398.6 387.9h0M399.4 387.9h0M400.3 387.9h0M401.1 387.9h0M402 387.9h0M402.8 387.9h0M403.7 387.9h0M404.5 387.9h0M405.4 387.9h0M406.2 387.9h0M407.1 387.9h0M407.9 387.9h0M408.8 387.9h0M409.6 387.9h0M410.5 387.9h0M411.3 387.9h0M412.2 387.9h0M413 387.9h0M413.9 387.9h0M414.7 387.9h0M415.6 387.9h0M416.4 387.9h0M417.3 387.9h0M418.1 387.9h0M419 387.9h0M419.8 387.9h0M420.7 387.9h0M421.5 387.9h0M422.4 387.9h0M423.2 387.9h0M424.1 387.9h0M424.9 387.9h0M425.8 387.9h0M426.6 387.9h0M427.5 387.9h0M428.3 387.9h0M429.2 387.9h0M430 387.9h0M430.9 387.9h0M431.7 387.9h0M432.6 387.9h0M433.4 387.9h0M434.3 387.9h0M435.1 387.9h0M436 387.9h0M436.8 390.2h0M437.7 390.2h0M438.5 390.2h0M439.4 390.2h0M440.2 390.2h0M441.1 390.2h0M441.9 390.2h0M442.8 390.2h0M443.6 390.2h0M444.5 390.2h0M445.3 390.2h0M446.2 390.2h0M447 390.2h0M447.9 390.2h0M448.7 390.2h0M449.6 390.2h0M450.4 390.2h0M451.3 390.2h0M452.1 390.2h0M453 390.2h0M453.8 390.2h0M454.7 390.2h0M455.5 390.2h0M456.4 390.2h0M457.2 390.2h0M458.1 390.2h0M458.9 390.2h0M459.8 390.2h0M460.6 390.2h0M461.5 390.2h0M462.3 390.2h0M463.2 390.2h0M464 390.2h0M464.9 390.2h0M465.7 390.2h0M466.6 390.2h0M467.4 390.2h0M468.3 390.2h0M469.1 390.2h0M470 390.2h0M470.8 390.2h0M471.7 390.2h0M472.5 390.2h0M473.4 390.2h0M474.2 390.2h0M475.1 390.2h0M475.9 390.2h0M476.8 390.2h0M477.6 390.2h0M478.5 390.2h0M479.3 390.2h0M480.2 390.2h0M481 390.2h0M481.9 390.2h0M482.7 390.2h0M483.6 390.2h0M484.4 390.2h0M485.3 390.2h0M486.1 390.2h0M487 390.2h0M487.8 390.2h0M488.7 390.2h0M489.5 390.2h0M490.4 390.2h0M491.2 390.2h0M492.1 390.2h0M492.9 390.2h0M493.8 390.2h0M494.6 390.2h0M495.5 390.2h0M496.3 390.2h0M497.2 390.2h0M498 390.2h0M498.9 390.2h0M499.7 390.2h0M500.6 390.2h0M501.4 390.2h0M502.3 390.2h0M503.1 390.2h0M504 390.2h0M504.8 390.2h0M505.7 390.2h0M506.5 390.2h0M507.4 390.2h0M508.2 390.2h0M509.1 390.2h0M509.9 390.2h0M510.8 390.2h0M511.6 390.2h0M512.5 390.2h0M513.3 390.2h0M514.2 390.2h0M515 390.2h0M515.9 390.2h0M516.7 390.2h0M517.6 390.2h0M518.4 390.2h0M519.3 390.2h0M520.1 390.2h0M521 390.2h0M521.8 390.2h0M522.7 390.2h0M523.5 390.2h0M524.4 390.2h0M525.2 390.2h0M526.1 390.2h0M526.9 390.2h0M527.8 390.2h0M528.6 390.2h0M529.5 390.2h0M530.3 390.2h0M531.2 390.2h0M532 390.2h0M532.9 390.2h0M533.7 390.2h0M534.6 390.2h0M535.4 390.2h0M536.3 390.2h0M537.1 390.2h0M538 390.2h0M538.8 390.2h0M539.7 390.2h0M540.5 390.2h0M541.4 390.2h0M542.2 390.2h0M543.1 390.2h0M543.9 390.2h0M544.8 390.2h0M545.6 390.2h0M546.5 390.2h0M547.3 390.2h0M548.2 390.2h0M549 390.2h0M549.9 390.2h0M550.7 390.2h0M551.6 390.2h0M552.4 390.2h0M553.3 390.2h0M554.1 390.2h0M555 390.2h0M555.8 390.2h0M556.7 390.2h0M557.5 390.2h0M558.4 390.2h0M559.2 390.2h0M560.1 390.2h0M560.9 390.2h0M561.8 390.2h0M562.6 390.2h0M563.5 390.2h0M564.3 390.2h0M565.2 390.2h0M566 390.2h0M566.9 390.2h0M567.7 390.2h0M568.6 390.2h0M569.4 390.2h0M570.3 390.2h0M571.1 390.2h0M572 390.2h0M572.8 390.2h0M573.7 390.2h0M574.5 390.2h0M575.4 390.2h0M576.2 390.2h0M577.1 390.2h0M577.9 390.2h0M578.8 390.2h0M579.6 390.2h0M580.5 390.2h0M581.3 390.2h0M582.2 390.2h0M583 390.2h0M583.9 390.2h0M584.7 390.2h0M585.6 390.2h0M586.4 390.2h0M587.3 390.2h0M588.1 390.2h0M589 390.2h0M589.8 390.2h0M590.7 390.2h0M591.5 390.2h0M592.4 390.2h0M593.2 390.2h0M594.1 390.2h0M594.9 390.2h0M595.8 390.2h0M596.6 390.2h0M597.5 390.2h0M598.3 390.2h0M599.2 390.2h0M600 390.2h0M600.9 390.2h0M601.7 390.2h0M602.6 390.2h0M603.4 390.2h0M604.3 390.2h0M605.1 390.2h0M606 390.2h0M606.8 390.2h0M607.7 390.2h0M608.5 390.2h0M609.4 390.2h0M610.2 390.2h0M611.1 390.2h0M611.9 390.2h0M612.8 390.2h0M613.6 390.2h0M614.5 390.2h0M615.3 390.2h0M616.2 390.2h0M617 390.2h0M617.9 390.2h0M618.7 390.2h0M619.6 390.2h0M620.4 390.2h0M621.3 390.2h0M622.1 390.2h0M623 390.2h0M623.8 390.2h0M624.7 390.2h0M625.5 390.2h0M626.4 390.2h0M627.2 390.2h0M628.1 390.2h0M628.9 390.2h0M629.8 390.2h0M630.6 390.2h0M631.5 390.2h0M632.3 390.2h0M633.2 390.2h0M634 390.2h0M634.9 390.2h0M635.7 390.2h0M636.6 390.2h0M637.4 390.2h0M638.3 390.2h0M639.1 390.2h0M640 390.2h0M640.8 390.2h0M641.7 390.2h0M642.5 390.2h0M643.4 390.2h0M644.2 390.2h0M645.1 390.2h0M645.9 390.2h0M646.8 390.2h0M647.6 390.2h0M648.5 390.2h0M649.3 390.2h0M650.2 390.2h0M651 390.2h0M651.9 390.2h0M652.7 390.2h0M653.6 390.2h0M654.4 390.2h0M655.3 390.2h0M656.1 390.2h0M657 390.2h0M657.8 390.2h0M658.7 390.2h0M659.5 390.2h0M660.4 390.2h0M661.2 390.2h0M662.1 390.2h0M662.9 390.2h0M663.8 390.2h0M664.6 390.2h0M665.5 390.2h0M666.3 390.2h0M667.2 390.2h0M668 390.2h0M668.9 390.2h0M669.7 390.2h0M670.6 390.2h0M671.4 390.2h0M672.3 390.2h0M673.1 390.2h0M674 390.2h0M674.8 390.2h0M675.7 390.2h0M676.5 390.2h0M677.4 390.2h0M678.2 390.2h0M679.1 390.2h0M679.9 390.2h0M680.8 390.2h0M681.6 390.2h0M682.5 390.2h0M683.3 390.2h0M684.2 390.2h0M685 390.2h0M685.9 390.2h0M686.7 390.2h0M687.6 390.2h0M688.4 390.2h0M689.3 390.2h0M690.1 390.2h0M691 390.2h0M691.8 390.2h0M692.7 390.2h0M693.5 390.2h0M694.4 390.2h0M695.2 390.2h0M696.1 390.2h0M696.9 390.2h0M697.8 390.2h0M698.6 390.2h0M699.5 390.2h0M700.3 390.2h0M701.2 390.2h0M702 390.2h0M702.9 390.2h0M703.7 390.2h0M704.6 390.2h0M705.4 390.2h0M706.3 390.2h0M707.1 390.2h0M708 390.2h0M708.8 390.2h0M709.7 390.2h0M710.5 390.2h0M711.4 390.2h0M712.2 390.2h0M713.1 390.2h0M713.9 390.2h0M714.8 390.2h0M715.6 390.2h0M716.5 390.2h0M717.3 390.2h0M718.2 390.2h0M719 390.2h0M719.9 390.2h0M720.7 390.2h0M721.6 390.2h0M722.4 390.2h0M723.3 390.2h0M724.1 390.2h0M725 390.2h0M725.8 390.2h0M726.7 390.2h0M727.5 390.2h0M728.4 390.2h0M729.2 390.2h0M730.1 390.2h0M730.9 390.2h0M731.8 390.2h0M732.6 390.2h0M733.5 390.2h0M734.3 390.2h0M735.2 390.2h0M736 390.2h0M736.9 390.2h0M737.7 390.2h0M738.6 390.2h0M739.4 390.2h0M740.3 390.2h0M741.1 390.2h0M742 390.2h0M742.8 390.2h0M743.7 390.2h0M744.5 390.3h0M745.4 390.3h0M584.3 388.9h0M585.6 388.9h0M588.2 388.9h0M601.3 388.9h0M606.5 388.9h0M609.1 388.9h0M614.3 388.9h0M615.6 388.9h0M616.9 388.9h0M620.8 388.9h0M622.1 388.9h0M623.4 388.9h0M624.7 388.9h0M627.3 388.9h0M629.9 388.9h0M637.7 388.9h0M640.3 388.9h0M651.3 388.9h0M652.6 388.9h0M656.5 388.9h0M659.1 388.9h0M666.9 388.9h0M672.1 388.9h0M674.7 388.9h0M677.3 388.9h0M678.6 388.9h0M681.2 388.9h0M686.4 388.9h0M699.3 388.9h0M700.6 388.9h0M701.9 388.9h0" stroke="#9400d3" stroke-width="3.6" stroke-linecap="round" fill="none" opacity="1.0" clip-path="url(#cb)"/>
<path d="M102.8 6V478.5M127.3 6V484" stroke="#000" stroke-dasharray="3.6 2" stroke-width="1.05" fill="none"/>
<path d="M160.4 67V303.5" stroke="#000" stroke-dasharray="3.6 2" stroke-width="1.05" fill="none"/>
<path d="M38.5 2.6h3.3M745.5 2.6h-3.3M38.5 32.6h3.3M745.5 32.6h-3.3M38.5 62.6h3.3M745.5 62.6h-3.3M38.5 92.6h3.3M745.5 92.6h-3.3M38.5 122.5h3.3M745.5 122.5h-3.3M38.5 152.5h3.3M745.5 152.5h-3.3M38.5 182.5h3.3M745.5 182.5h-3.3M38.5 212.5h3.3M745.5 212.5h-3.3M38.5 242.5h3.3M745.5 242.5h-3.3M102.8 2.6v2.8M102.8 242.5v-2.8M231.3 2.6v2.8M231.3 242.5v-2.8M359.9 2.6v2.8M359.9 242.5v-2.8M488.4 2.6v2.8M488.4 242.5v-2.8M617 2.6v2.8M617 242.5v-2.8M745.5 2.6v2.8M745.5 242.5v-2.8M167.1 2.6v1.6M167.1 242.5v-1.6M295.6 2.6v1.6M295.6 242.5v-1.6M424.2 2.6v1.6M424.2 242.5v-1.6M552.7 2.6v1.6M552.7 242.5v-1.6M681.2 2.6v1.6M681.2 242.5v-1.6" stroke="#444" stroke-width="1" fill="none"/>
<rect x="38.5" y="2.6" width="707" height="239.9" fill="none" stroke="#444" stroke-width="1"/>
<path d="M38.5 269.4h3.3M745.5 269.4h-3.3M38.5 289.4h3.3M745.5 289.4h-3.3M38.5 309.4h3.3M745.5 309.4h-3.3M38.5 329.4h3.3M745.5 329.4h-3.3M38.5 349.4h3.3M745.5 349.4h-3.3M38.5 369.4h3.3M745.5 369.4h-3.3M38.5 389.4h3.3M745.5 389.4h-3.3M38.5 409.5h3.3M745.5 409.5h-3.3M38.5 429.5h3.3M745.5 429.5h-3.3M38.5 449.5h3.3M745.5 449.5h-3.3M38.5 469.5h3.3M745.5 469.5h-3.3M38.5 489.5h3.3M745.5 489.5h-3.3M38.5 509.5h3.3M745.5 509.5h-3.3M102.8 269.4v2.8M102.8 509.5v-2.8M231.3 269.4v2.8M231.3 509.5v-2.8M359.9 269.4v2.8M359.9 509.5v-2.8M488.4 269.4v2.8M488.4 509.5v-2.8M617 269.4v2.8M617 509.5v-2.8M745.5 269.4v2.8M745.5 509.5v-2.8M167.1 269.4v1.6M167.1 509.5v-1.6M295.6 269.4v1.6M295.6 509.5v-1.6M424.2 269.4v1.6M424.2 509.5v-1.6M552.7 269.4v1.6M552.7 509.5v-1.6M681.2 269.4v1.6M681.2 509.5v-1.6" stroke="#444" stroke-width="1" fill="none"/>
<rect x="38.5" y="269.4" width="707" height="240.1" fill="none" stroke="#444" stroke-width="1"/>
<text x="33.5" y="246.2" font-size="8.8" text-anchor="end" fill="#222">0</text>
<text x="752" y="246.2" font-size="8.8" text-anchor="start" fill="#222">7.4</text>
<text x="33.5" y="216.2" font-size="8.8" text-anchor="end" fill="#222">10</text>
<text x="752" y="216.2" font-size="8.8" text-anchor="start" fill="#222">7.5</text>
<text x="33.5" y="186.2" font-size="8.8" text-anchor="end" fill="#222">20</text>
<text x="752" y="186.2" font-size="8.8" text-anchor="start" fill="#222">7.6</text>
<text x="33.5" y="156.2" font-size="8.8" text-anchor="end" fill="#222">30</text>
<text x="752" y="156.2" font-size="8.8" text-anchor="start" fill="#222">7.7</text>
<text x="33.5" y="126.2" font-size="8.8" text-anchor="end" fill="#222">40</text>
<text x="752" y="126.2" font-size="8.8" text-anchor="start" fill="#222">7.8</text>
<text x="33.5" y="96.2" font-size="8.8" text-anchor="end" fill="#222">50</text>
<text x="752" y="96.2" font-size="8.8" text-anchor="start" fill="#222">7.9</text>
<text x="33.5" y="66.2" font-size="8.8" text-anchor="end" fill="#222">60</text>
<text x="752" y="66.2" font-size="8.8" text-anchor="start" fill="#222">8</text>
<text x="33.5" y="36.2" font-size="8.8" text-anchor="end" fill="#222">70</text>
<text x="752" y="36.2" font-size="8.8" text-anchor="start" fill="#222">8.1</text>
<text x="33.5" y="6.2" font-size="8.8" text-anchor="end" fill="#222">80</text>
<text x="752" y="6.2" font-size="8.8" text-anchor="start" fill="#222">8.2</text>
<text x="33.5" y="513.1" font-size="8.8" text-anchor="end" fill="#222">−600</text>
<text x="749.2" y="513.1" font-size="8.8" text-anchor="start" fill="#222">−120</text>
<text x="33.5" y="493.1" font-size="8.8" text-anchor="end" fill="#222">−500</text>
<text x="33.5" y="473.1" font-size="8.8" text-anchor="end" fill="#222">−400</text>
<text x="749.2" y="473.1" font-size="8.8" text-anchor="start" fill="#222">−100</text>
<text x="33.5" y="453.1" font-size="8.8" text-anchor="end" fill="#222">−300</text>
<text x="33.5" y="433.1" font-size="8.8" text-anchor="end" fill="#222">−200</text>
<text x="749.2" y="433.1" font-size="8.8" text-anchor="start" fill="#222">−80</text>
<text x="33.5" y="413.1" font-size="8.8" text-anchor="end" fill="#222">−100</text>
<text x="33.5" y="393.1" font-size="8.8" text-anchor="end" fill="#222">0</text>
<text x="749.2" y="393.1" font-size="8.8" text-anchor="start" fill="#222">−60</text>
<text x="33.5" y="373.1" font-size="8.8" text-anchor="end" fill="#222">100</text>
<text x="33.5" y="353.1" font-size="8.8" text-anchor="end" fill="#222">200</text>
<text x="749.2" y="353.1" font-size="8.8" text-anchor="start" fill="#222">−40</text>
<text x="33.5" y="333.1" font-size="8.8" text-anchor="end" fill="#222">300</text>
<text x="33.5" y="313.1" font-size="8.8" text-anchor="end" fill="#222">400</text>
<text x="749.2" y="313.1" font-size="8.8" text-anchor="start" fill="#222">−20</text>
<text x="33.5" y="293.1" font-size="8.8" text-anchor="end" fill="#222">500</text>
<text x="33.5" y="273" font-size="8.8" text-anchor="end" fill="#222">600</text>
<text x="751.7" y="273" font-size="8.8" text-anchor="start" fill="#222">0</text>
<text x="102.5" y="255.1" font-size="8.8" text-anchor="middle" fill="#222" textLength="62">'16/12/20 11:00</text>
<text x="102.5" y="522.1" font-size="8.8" text-anchor="middle" fill="#222" textLength="62">'16/12/20 11:00</text>
<text x="231" y="255.1" font-size="8.8" text-anchor="middle" fill="#222" textLength="62">'16/12/20 12:00</text>
<text x="231" y="522.1" font-size="8.8" text-anchor="middle" fill="#222" textLength="62">'16/12/20 12:00</text>
<text x="359.6" y="255.1" font-size="8.8" text-anchor="middle" fill="#222" textLength="62">'16/12/20 13:00</text>
<text x="359.6" y="522.1" font-size="8.8" text-anchor="middle" fill="#222" textLength="62">'16/12/20 13:00</text>
<text x="488.1" y="255.1" font-size="8.8" text-anchor="middle" fill="#222" textLength="62">'16/12/20 14:00</text>
<text x="488.1" y="522.1" font-size="8.8" text-anchor="middle" fill="#222" textLength="62">'16/12/20 14:00</text>
<text x="616.7" y="255.1" font-size="8.8" text-anchor="middle" fill="#222" textLength="62">'16/12/20 15:00</text>
<text x="616.7" y="522.1" font-size="8.8" text-anchor="middle" fill="#222" textLength="62">'16/12/20 15:00</text>
<text x="745.2" y="255.1" font-size="8.8" text-anchor="middle" fill="#222" textLength="62">'16/12/20 16:00</text>
<text x="745.2" y="522.1" font-size="8.8" text-anchor="middle" fill="#222" textLength="62">'16/12/20 16:00</text>
<text x="14.6" y="122.3" font-size="11.8" text-anchor="middle" fill="#222" transform="rotate(-90 14.6 122.3)" textLength="74.5" lengthAdjust="spacingAndGlyphs">Sun angle [deg]</text>
<text x="782.4" y="123" font-size="11.8" text-anchor="middle" fill="#222" transform="rotate(-90 782.4 123)" textLength="83" lengthAdjust="spacingAndGlyphs">Spin rate [deg/s]</text>
<text x="10" y="389.7" font-size="11.8" text-anchor="middle" fill="#222" transform="rotate(-90 10 389.7)" textLength="50" lengthAdjust="spacingAndGlyphs">Power [W]</text>
<text x="782.8" y="388.5" font-size="11.8" text-anchor="middle" fill="#222" transform="rotate(-90 782.8 388.5)" textLength="203.3" lengthAdjust="spacingAndGlyphs">Received Signal Strength Indicator [dBm]</text>
<text x="708" y="13.2" font-size="8.3" text-anchor="end" fill="#222" textLength="36.4">Sun angle</text>
<text x="708" y="22" font-size="8.3" text-anchor="end" fill="#222" textLength="33.3">Spin rate</text>
<path d="M714 10.4H736" stroke="#ff0000" stroke-width="0.9"/>
<path d="M714 19.4H736" stroke="#0000ff" stroke-width="0.9"/>
<text x="708" y="280.8" font-size="8.3" text-anchor="end" fill="#222" textLength="82.7">SAP power generation</text>
<text x="708" y="289.5" font-size="8.3" text-anchor="end" fill="#222" textLength="106">Satellite power consumption</text>
<text x="708" y="298.1" font-size="8.3" text-anchor="end" fill="#222" textLength="113.4">BAT charge / discharge power</text>
<text x="708" y="306.6" font-size="8.3" text-anchor="end" fill="#222" textLength="120.2">ANT−1 &amp; ANT−2 received power</text>
<text x="708" y="315.6" font-size="8.3" text-anchor="end" fill="#222" textLength="83.6">ANT−3 received power</text>
<path d="M724.4 276.1l1.6 2.8h-3.2z" fill="#e69f00" opacity="0.85"/>
<circle cx="724.4" cy="286.5" r="1.5" fill="#009e73" opacity="0.75"/>
<circle cx="724.4" cy="295.1" r="1.5" fill="#9400d3" opacity="0.75"/>
<path d="M714.5 303.6H736" stroke="#ff0000" stroke-width="0.85"/>
<path d="M714.5 312.6H736" stroke="#0000ff" stroke-width="0.85"/>
<text x="98.6" y="238.4" font-size="11.2" text-anchor="start" fill="#000" transform="rotate(-90 98.6 238.4)" stroke="#000" stroke-width="0.25" textLength="32.4">Lift-off</text>
<text x="123.2" y="238.4" font-size="11.2" text-anchor="start" fill="#000" transform="rotate(-90 123.2 238.4)" stroke="#000" stroke-width="0.25" textLength="54.1">Separation</text>
<text x="156.7" y="238.4" font-size="11.2" text-anchor="start" fill="#000" transform="rotate(-90 156.7 238.4)" stroke="#000" stroke-width="0.25" textLength="83">SAP deployment</text>
<text x="218.6" y="174.8" font-size="11.2" text-anchor="start" fill="#000" stroke="#000" stroke-width="0.25" textLength="77">Sun acquisition</text>
<text x="237.4" y="400.9" font-size="11.2" text-anchor="start" fill="#000" stroke="#000" stroke-width="0.25" textLength="84.6">Uplink carrier up</text>
<path d="M220.8 178L205.4 196.8" stroke="#000" stroke-width="2.4"/>
<path d="M201 202.2L203.2 193.7L208.9 198.4z" fill="#000"/>
<path d="M230.6 400.3L219.3 409.3" stroke="#000" stroke-width="2.4"/>
<path d="M213.8 413.6L217.8 405.7L222.4 411.5z" fill="#000"/>
</svg>
</body></html>
